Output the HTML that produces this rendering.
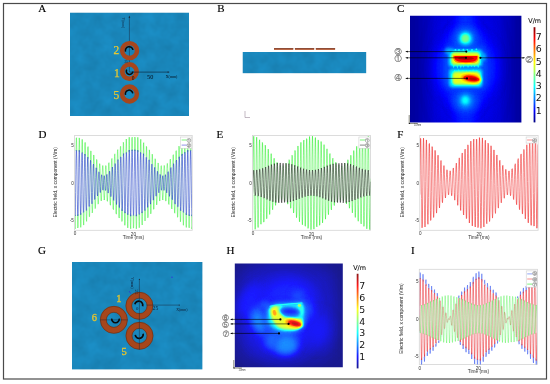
<!DOCTYPE html>
<html><head><meta charset="utf-8"><style>
html,body{margin:0;padding:0;background:#fff;}
body{width:550px;height:384px;overflow:hidden;}
svg{display:block;}
</style></head><body>
<svg width="550" height="384" viewBox="0 0 550 384">
<defs>
<filter id="jet" color-interpolation-filters="sRGB" x="0" y="0" width="1" height="1">
  <feComponentTransfer>
    <feFuncR type="table" tableValues="0 0 0 0 0.5 1 1 1 0.5"/>
    <feFuncG type="table" tableValues="0 0 0.5 1 1 1 0.5 0 0"/>
    <feFuncB type="table" tableValues="0.5 1 1 1 0.5 0 0 0 0"/>
  </feComponentTransfer>
</filter>
<filter id="jetH" color-interpolation-filters="sRGB" x="0" y="0" width="1" height="1">
  <feComponentTransfer>
    <feFuncR type="table" tableValues="0.1 0.1 0.1 0.1 0.55 1 1 1 0.55"/>
    <feFuncG type="table" tableValues="0.1 0.1 0.55 1 1 1 0.55 0.1 0.1"/>
    <feFuncB type="table" tableValues="0.54 1 1 1 0.55 0.1 0.1 0.1 0.1"/>
  </feComponentTransfer>
</filter>
<linearGradient id="mg" x1="0" y1="0" x2="0" y2="1">
  <stop offset="0" stop-color="#fff"/><stop offset="0.12" stop-color="#f4f4f4"/><stop offset="0.3" stop-color="#d4d4d4"/>
  <stop offset="0.5" stop-color="#c0c0c0"/><stop offset="0.7" stop-color="#d4d4d4"/><stop offset="0.88" stop-color="#f4f4f4"/><stop offset="1" stop-color="#fff"/>
</linearGradient>
<linearGradient id="mg2" x1="0" y1="0" x2="0" y2="1">
  <stop offset="0" stop-color="#fff"/><stop offset="0.15" stop-color="#fafafa"/><stop offset="0.32" stop-color="#e0e0e0"/>
  <stop offset="0.5" stop-color="#d4d4d4"/><stop offset="0.68" stop-color="#e0e0e0"/><stop offset="0.85" stop-color="#fafafa"/><stop offset="1" stop-color="#fff"/>
</linearGradient>
<linearGradient id="cbar" x1="0" y1="1" x2="0" y2="0">
  <stop offset="0" stop-color="#000"/><stop offset="1" stop-color="#fff"/>
</linearGradient>
<filter id="tex" x="0" y="0" width="1" height="1" color-interpolation-filters="sRGB">
  <feTurbulence type="fractalNoise" baseFrequency="0.07" numOctaves="3" seed="7" result="n"/>
  <feColorMatrix in="n" type="matrix" values="0.16 0 0 0 0.86  0.16 0 0 0 0.86  0.16 0 0 0 0.86  0 0 0 0 1" result="g"/>
  <feBlend in="g" in2="SourceGraphic" mode="multiply" result="m"/>
  <feComposite in="m" in2="SourceGraphic" operator="in"/>
</filter>

<filter id="b1" x="-100%" y="-100%" width="300%" height="300%" color-interpolation-filters="sRGB"><feGaussianBlur stdDeviation="1"/></filter>
<filter id="b8" x="-100%" y="-100%" width="300%" height="300%" color-interpolation-filters="sRGB"><feGaussianBlur stdDeviation="8"/></filter>
<filter id="b9" x="-100%" y="-100%" width="300%" height="300%" color-interpolation-filters="sRGB"><feGaussianBlur stdDeviation="9"/></filter>
<filter id="b6" x="-100%" y="-100%" width="300%" height="300%" color-interpolation-filters="sRGB"><feGaussianBlur stdDeviation="6"/></filter>
<filter id="b4" x="-100%" y="-100%" width="300%" height="300%" color-interpolation-filters="sRGB"><feGaussianBlur stdDeviation="4"/></filter>
<filter id="b2_5" x="-100%" y="-100%" width="300%" height="300%" color-interpolation-filters="sRGB"><feGaussianBlur stdDeviation="2.5"/></filter>
<filter id="b1_6" x="-100%" y="-100%" width="300%" height="300%" color-interpolation-filters="sRGB"><feGaussianBlur stdDeviation="1.6"/></filter>
<filter id="b1_3" x="-100%" y="-100%" width="300%" height="300%" color-interpolation-filters="sRGB"><feGaussianBlur stdDeviation="1.3"/></filter>
<filter id="b3" x="-100%" y="-100%" width="300%" height="300%" color-interpolation-filters="sRGB"><feGaussianBlur stdDeviation="3"/></filter>
<filter id="b2" x="-100%" y="-100%" width="300%" height="300%" color-interpolation-filters="sRGB"><feGaussianBlur stdDeviation="2"/></filter>
<filter id="b1_5" x="-100%" y="-100%" width="300%" height="300%" color-interpolation-filters="sRGB"><feGaussianBlur stdDeviation="1.5"/></filter>
<filter id="b0_5" x="-100%" y="-100%" width="300%" height="300%" color-interpolation-filters="sRGB"><feGaussianBlur stdDeviation="0.5"/></filter>
<filter id="b0_8" x="-100%" y="-100%" width="300%" height="300%" color-interpolation-filters="sRGB"><feGaussianBlur stdDeviation="0.8"/></filter>
<filter id="b0_7" x="-100%" y="-100%" width="300%" height="300%" color-interpolation-filters="sRGB"><feGaussianBlur stdDeviation="0.7"/></filter>
<filter id="b0_6" x="-100%" y="-100%" width="300%" height="300%" color-interpolation-filters="sRGB"><feGaussianBlur stdDeviation="0.6"/></filter>
<filter id="b0_9" x="-100%" y="-100%" width="300%" height="300%" color-interpolation-filters="sRGB"><feGaussianBlur stdDeviation="0.9"/></filter>
<mask id="m1" maskUnits="userSpaceOnUse" x="74.6" y="135.4" width="117.6" height="94.9">
<rect x="74.6" y="134.92" width="1.87" height="95.96" fill="url(#mg)"/>
<rect x="76.07" y="135.17" width="1.87" height="95.46" fill="url(#mg)"/>
<rect x="77.54" y="135.67" width="1.87" height="94.47" fill="url(#mg)"/>
<rect x="79.01" y="136.41" width="1.87" height="92.99" fill="url(#mg)"/>
<rect x="80.48" y="137.38" width="1.87" height="91.04" fill="url(#mg)"/>
<rect x="81.95" y="138.59" width="1.87" height="88.63" fill="url(#mg)"/>
<rect x="83.42" y="140.01" width="1.87" height="85.79" fill="url(#mg)"/>
<rect x="84.89" y="141.63" width="1.87" height="82.55" fill="url(#mg)"/>
<rect x="86.36" y="143.43" width="1.87" height="78.93" fill="url(#mg)"/>
<rect x="87.83" y="145.41" width="1.87" height="74.99" fill="url(#mg)"/>
<rect x="89.3" y="147.52" width="1.87" height="70.76" fill="url(#mg)"/>
<rect x="90.77" y="149.74" width="1.87" height="66.32" fill="url(#mg)"/>
<rect x="92.24" y="152.04" width="1.87" height="61.72" fill="url(#mg)"/>
<rect x="93.71" y="154.37" width="1.87" height="57.07" fill="url(#mg)"/>
<rect x="95.18" y="156.67" width="1.87" height="52.47" fill="url(#mg)"/>
<rect x="96.65" y="158.86" width="1.87" height="48.07" fill="url(#mg)"/>
<rect x="98.12" y="160.87" width="1.87" height="44.06" fill="url(#mg)"/>
<rect x="99.59" y="162.56" width="1.87" height="40.68" fill="url(#mg)"/>
<rect x="101.06" y="163.8" width="1.87" height="38.2" fill="url(#mg)"/>
<rect x="102.53" y="164.46" width="1.87" height="36.87" fill="url(#mg)"/>
<rect x="104" y="164.46" width="1.87" height="36.87" fill="url(#mg)"/>
<rect x="105.47" y="163.8" width="1.87" height="38.2" fill="url(#mg)"/>
<rect x="106.94" y="162.56" width="1.87" height="40.68" fill="url(#mg)"/>
<rect x="108.41" y="160.87" width="1.87" height="44.06" fill="url(#mg)"/>
<rect x="109.88" y="158.86" width="1.87" height="48.07" fill="url(#mg)"/>
<rect x="111.35" y="156.67" width="1.87" height="52.47" fill="url(#mg)"/>
<rect x="112.82" y="154.37" width="1.87" height="57.07" fill="url(#mg)"/>
<rect x="114.29" y="152.04" width="1.87" height="61.72" fill="url(#mg)"/>
<rect x="115.76" y="149.74" width="1.87" height="66.32" fill="url(#mg)"/>
<rect x="117.23" y="147.52" width="1.87" height="70.76" fill="url(#mg)"/>
<rect x="118.7" y="145.41" width="1.87" height="74.99" fill="url(#mg)"/>
<rect x="120.17" y="143.43" width="1.87" height="78.93" fill="url(#mg)"/>
<rect x="121.64" y="141.63" width="1.87" height="82.55" fill="url(#mg)"/>
<rect x="123.11" y="140.01" width="1.87" height="85.79" fill="url(#mg)"/>
<rect x="124.58" y="138.59" width="1.87" height="88.63" fill="url(#mg)"/>
<rect x="126.05" y="137.38" width="1.87" height="91.04" fill="url(#mg)"/>
<rect x="127.52" y="136.41" width="1.87" height="92.99" fill="url(#mg)"/>
<rect x="128.99" y="135.67" width="1.87" height="94.47" fill="url(#mg)"/>
<rect x="130.46" y="135.17" width="1.87" height="95.46" fill="url(#mg)"/>
<rect x="131.93" y="134.92" width="1.87" height="95.96" fill="url(#mg)"/>
<rect x="133.4" y="134.92" width="1.87" height="95.96" fill="url(#mg)"/>
<rect x="134.87" y="135.17" width="1.87" height="95.46" fill="url(#mg)"/>
<rect x="136.34" y="135.67" width="1.87" height="94.47" fill="url(#mg)"/>
<rect x="137.81" y="136.41" width="1.87" height="92.99" fill="url(#mg)"/>
<rect x="139.28" y="137.38" width="1.87" height="91.04" fill="url(#mg)"/>
<rect x="140.75" y="138.59" width="1.87" height="88.63" fill="url(#mg)"/>
<rect x="142.22" y="140.01" width="1.87" height="85.79" fill="url(#mg)"/>
<rect x="143.69" y="141.63" width="1.87" height="82.55" fill="url(#mg)"/>
<rect x="145.16" y="143.43" width="1.87" height="78.93" fill="url(#mg)"/>
<rect x="146.63" y="145.41" width="1.87" height="74.99" fill="url(#mg)"/>
<rect x="148.1" y="147.52" width="1.87" height="70.76" fill="url(#mg)"/>
<rect x="149.57" y="149.74" width="1.87" height="66.32" fill="url(#mg)"/>
<rect x="151.04" y="152.04" width="1.87" height="61.72" fill="url(#mg)"/>
<rect x="152.51" y="154.37" width="1.87" height="57.07" fill="url(#mg)"/>
<rect x="153.98" y="156.67" width="1.87" height="52.47" fill="url(#mg)"/>
<rect x="155.45" y="158.86" width="1.87" height="48.07" fill="url(#mg)"/>
<rect x="156.92" y="160.87" width="1.87" height="44.06" fill="url(#mg)"/>
<rect x="158.39" y="162.56" width="1.87" height="40.68" fill="url(#mg)"/>
<rect x="159.86" y="163.8" width="1.87" height="38.2" fill="url(#mg)"/>
<rect x="161.33" y="164.46" width="1.87" height="36.87" fill="url(#mg)"/>
<rect x="162.8" y="164.46" width="1.87" height="36.87" fill="url(#mg)"/>
<rect x="164.27" y="163.8" width="1.87" height="38.2" fill="url(#mg)"/>
<rect x="165.74" y="162.56" width="1.87" height="40.68" fill="url(#mg)"/>
<rect x="167.21" y="160.87" width="1.87" height="44.06" fill="url(#mg)"/>
<rect x="168.68" y="158.86" width="1.87" height="48.07" fill="url(#mg)"/>
<rect x="170.15" y="156.67" width="1.87" height="52.47" fill="url(#mg)"/>
<rect x="171.62" y="154.37" width="1.87" height="57.07" fill="url(#mg)"/>
<rect x="173.09" y="152.04" width="1.87" height="61.72" fill="url(#mg)"/>
<rect x="174.56" y="149.74" width="1.87" height="66.32" fill="url(#mg)"/>
<rect x="176.03" y="147.52" width="1.87" height="70.76" fill="url(#mg)"/>
<rect x="177.5" y="145.41" width="1.87" height="74.99" fill="url(#mg)"/>
<rect x="178.97" y="143.43" width="1.87" height="78.93" fill="url(#mg)"/>
<rect x="180.44" y="141.63" width="1.87" height="82.55" fill="url(#mg)"/>
<rect x="181.91" y="140.01" width="1.87" height="85.79" fill="url(#mg)"/>
<rect x="183.38" y="138.59" width="1.87" height="88.63" fill="url(#mg)"/>
<rect x="184.85" y="137.38" width="1.87" height="91.04" fill="url(#mg)"/>
<rect x="186.32" y="136.41" width="1.87" height="92.99" fill="url(#mg)"/>
<rect x="187.79" y="135.67" width="1.87" height="94.47" fill="url(#mg)"/>
<rect x="189.26" y="135.17" width="1.87" height="95.46" fill="url(#mg)"/>
<rect x="190.73" y="134.92" width="1.87" height="95.96" fill="url(#mg)"/>
<rect x="74.6" y="150.9" width="1.87" height="63.99" fill="#000" fill-opacity="0.85"/>
<rect x="76.07" y="151.09" width="1.87" height="63.62" fill="#000" fill-opacity="0.84"/>
<rect x="77.54" y="151.47" width="1.87" height="62.87" fill="#000" fill-opacity="0.83"/>
<rect x="79.01" y="152.03" width="1.87" height="61.75" fill="#000" fill-opacity="0.8"/>
<rect x="80.48" y="152.77" width="1.87" height="60.27" fill="#000" fill-opacity="0.77"/>
<rect x="81.95" y="153.68" width="1.87" height="58.44" fill="#000" fill-opacity="0.74"/>
<rect x="83.42" y="154.76" width="1.87" height="56.27" fill="#000" fill-opacity="0.69"/>
<rect x="84.89" y="156.01" width="1.87" height="53.79" fill="#000" fill-opacity="0.64"/>
<rect x="86.36" y="157.4" width="1.87" height="51" fill="#000" fill-opacity="0.59"/>
<rect x="87.83" y="158.93" width="1.87" height="47.93" fill="#000" fill-opacity="0.53"/>
<rect x="89.3" y="160.59" width="1.87" height="44.61" fill="#000" fill-opacity="0.48"/>
<rect x="90.77" y="162.36" width="1.87" height="41.07" fill="#000" fill-opacity="0.41"/>
<rect x="92.24" y="164.23" width="1.87" height="37.35" fill="#000" fill-opacity="0.35"/>
<rect x="93.71" y="166.16" width="1.87" height="33.48" fill="#000" fill-opacity="0.29"/>
<rect x="95.18" y="168.13" width="1.87" height="29.54" fill="#000" fill-opacity="0.23"/>
<rect x="96.65" y="170.1" width="1.87" height="25.6" fill="#000" fill-opacity="0.17"/>
<rect x="98.12" y="172" width="1.87" height="21.8" fill="#000" fill-opacity="0.12"/>
<rect x="99.59" y="173.74" width="1.87" height="18.32" fill="#000" fill-opacity="0.07"/>
<rect x="101.06" y="175.14" width="1.87" height="15.52" fill="#000" fill-opacity="0.03"/>
<rect x="105.47" y="175.14" width="1.87" height="15.52" fill="#000" fill-opacity="0.03"/>
<rect x="106.94" y="173.74" width="1.87" height="18.32" fill="#000" fill-opacity="0.07"/>
<rect x="108.41" y="172" width="1.87" height="21.8" fill="#000" fill-opacity="0.12"/>
<rect x="109.88" y="170.1" width="1.87" height="25.6" fill="#000" fill-opacity="0.17"/>
<rect x="111.35" y="168.13" width="1.87" height="29.54" fill="#000" fill-opacity="0.23"/>
<rect x="112.82" y="166.16" width="1.87" height="33.48" fill="#000" fill-opacity="0.29"/>
<rect x="114.29" y="164.23" width="1.87" height="37.35" fill="#000" fill-opacity="0.35"/>
<rect x="115.76" y="162.36" width="1.87" height="41.07" fill="#000" fill-opacity="0.41"/>
<rect x="117.23" y="160.59" width="1.87" height="44.61" fill="#000" fill-opacity="0.48"/>
<rect x="118.7" y="158.93" width="1.87" height="47.93" fill="#000" fill-opacity="0.53"/>
<rect x="120.17" y="157.4" width="1.87" height="51" fill="#000" fill-opacity="0.59"/>
<rect x="121.64" y="156.01" width="1.87" height="53.79" fill="#000" fill-opacity="0.64"/>
<rect x="123.11" y="154.76" width="1.87" height="56.27" fill="#000" fill-opacity="0.69"/>
<rect x="124.58" y="153.68" width="1.87" height="58.44" fill="#000" fill-opacity="0.74"/>
<rect x="126.05" y="152.77" width="1.87" height="60.27" fill="#000" fill-opacity="0.77"/>
<rect x="127.52" y="152.03" width="1.87" height="61.75" fill="#000" fill-opacity="0.8"/>
<rect x="128.99" y="151.47" width="1.87" height="62.87" fill="#000" fill-opacity="0.83"/>
<rect x="130.46" y="151.09" width="1.87" height="63.62" fill="#000" fill-opacity="0.84"/>
<rect x="131.93" y="150.9" width="1.87" height="63.99" fill="#000" fill-opacity="0.85"/>
<rect x="133.4" y="150.9" width="1.87" height="63.99" fill="#000" fill-opacity="0.85"/>
<rect x="134.87" y="151.09" width="1.87" height="63.62" fill="#000" fill-opacity="0.84"/>
<rect x="136.34" y="151.47" width="1.87" height="62.87" fill="#000" fill-opacity="0.83"/>
<rect x="137.81" y="152.03" width="1.87" height="61.75" fill="#000" fill-opacity="0.8"/>
<rect x="139.28" y="152.77" width="1.87" height="60.27" fill="#000" fill-opacity="0.77"/>
<rect x="140.75" y="153.68" width="1.87" height="58.44" fill="#000" fill-opacity="0.74"/>
<rect x="142.22" y="154.76" width="1.87" height="56.27" fill="#000" fill-opacity="0.69"/>
<rect x="143.69" y="156.01" width="1.87" height="53.79" fill="#000" fill-opacity="0.64"/>
<rect x="145.16" y="157.4" width="1.87" height="51" fill="#000" fill-opacity="0.59"/>
<rect x="146.63" y="158.93" width="1.87" height="47.93" fill="#000" fill-opacity="0.53"/>
<rect x="148.1" y="160.59" width="1.87" height="44.61" fill="#000" fill-opacity="0.48"/>
<rect x="149.57" y="162.36" width="1.87" height="41.07" fill="#000" fill-opacity="0.41"/>
<rect x="151.04" y="164.23" width="1.87" height="37.35" fill="#000" fill-opacity="0.35"/>
<rect x="152.51" y="166.16" width="1.87" height="33.48" fill="#000" fill-opacity="0.29"/>
<rect x="153.98" y="168.13" width="1.87" height="29.54" fill="#000" fill-opacity="0.23"/>
<rect x="155.45" y="170.1" width="1.87" height="25.6" fill="#000" fill-opacity="0.17"/>
<rect x="156.92" y="172" width="1.87" height="21.8" fill="#000" fill-opacity="0.12"/>
<rect x="158.39" y="173.74" width="1.87" height="18.32" fill="#000" fill-opacity="0.07"/>
<rect x="159.86" y="175.14" width="1.87" height="15.52" fill="#000" fill-opacity="0.03"/>
<rect x="164.27" y="175.14" width="1.87" height="15.52" fill="#000" fill-opacity="0.03"/>
<rect x="165.74" y="173.74" width="1.87" height="18.32" fill="#000" fill-opacity="0.07"/>
<rect x="167.21" y="172" width="1.87" height="21.8" fill="#000" fill-opacity="0.12"/>
<rect x="168.68" y="170.1" width="1.87" height="25.6" fill="#000" fill-opacity="0.17"/>
<rect x="170.15" y="168.13" width="1.87" height="29.54" fill="#000" fill-opacity="0.23"/>
<rect x="171.62" y="166.16" width="1.87" height="33.48" fill="#000" fill-opacity="0.29"/>
<rect x="173.09" y="164.23" width="1.87" height="37.35" fill="#000" fill-opacity="0.35"/>
<rect x="174.56" y="162.36" width="1.87" height="41.07" fill="#000" fill-opacity="0.41"/>
<rect x="176.03" y="160.59" width="1.87" height="44.61" fill="#000" fill-opacity="0.48"/>
<rect x="177.5" y="158.93" width="1.87" height="47.93" fill="#000" fill-opacity="0.53"/>
<rect x="178.97" y="157.4" width="1.87" height="51" fill="#000" fill-opacity="0.59"/>
<rect x="180.44" y="156.01" width="1.87" height="53.79" fill="#000" fill-opacity="0.64"/>
<rect x="181.91" y="154.76" width="1.87" height="56.27" fill="#000" fill-opacity="0.69"/>
<rect x="183.38" y="153.68" width="1.87" height="58.44" fill="#000" fill-opacity="0.74"/>
<rect x="184.85" y="152.77" width="1.87" height="60.27" fill="#000" fill-opacity="0.77"/>
<rect x="186.32" y="152.03" width="1.87" height="61.75" fill="#000" fill-opacity="0.8"/>
<rect x="187.79" y="151.47" width="1.87" height="62.87" fill="#000" fill-opacity="0.83"/>
<rect x="189.26" y="151.09" width="1.87" height="63.62" fill="#000" fill-opacity="0.84"/>
<rect x="190.73" y="150.9" width="1.87" height="63.99" fill="#000" fill-opacity="0.85"/>
</mask>
<mask id="m3" maskUnits="userSpaceOnUse" x="74.6" y="135.4" width="117.6" height="94.9">
<rect x="74.6" y="148.02" width="1.87" height="69.76" fill="url(#mg2)"/>
<rect x="76.07" y="148.22" width="1.87" height="69.36" fill="url(#mg2)"/>
<rect x="77.54" y="148.61" width="1.87" height="68.57" fill="url(#mg2)"/>
<rect x="79.01" y="149.2" width="1.87" height="67.4" fill="url(#mg2)"/>
<rect x="80.48" y="149.98" width="1.87" height="65.84" fill="url(#mg2)"/>
<rect x="81.95" y="150.94" width="1.87" height="63.91" fill="url(#mg2)"/>
<rect x="83.42" y="152.08" width="1.87" height="61.63" fill="url(#mg2)"/>
<rect x="84.89" y="153.39" width="1.87" height="59.02" fill="url(#mg2)"/>
<rect x="86.36" y="154.86" width="1.87" height="56.08" fill="url(#mg2)"/>
<rect x="87.83" y="156.47" width="1.87" height="52.85" fill="url(#mg2)"/>
<rect x="89.3" y="158.22" width="1.87" height="49.36" fill="url(#mg2)"/>
<rect x="90.77" y="160.08" width="1.87" height="45.63" fill="url(#mg2)"/>
<rect x="92.24" y="162.04" width="1.87" height="41.71" fill="url(#mg2)"/>
<rect x="93.71" y="164.08" width="1.87" height="37.65" fill="url(#mg2)"/>
<rect x="95.18" y="166.15" width="1.87" height="33.5" fill="url(#mg2)"/>
<rect x="96.65" y="168.22" width="1.87" height="29.35" fill="url(#mg2)"/>
<rect x="98.12" y="170.23" width="1.87" height="25.34" fill="url(#mg2)"/>
<rect x="99.59" y="172.06" width="1.87" height="21.68" fill="url(#mg2)"/>
<rect x="101.06" y="173.53" width="1.87" height="18.73" fill="url(#mg2)"/>
<rect x="102.53" y="174.39" width="1.87" height="17.01" fill="url(#mg2)"/>
<rect x="104" y="174.39" width="1.87" height="17.01" fill="url(#mg2)"/>
<rect x="105.47" y="173.53" width="1.87" height="18.73" fill="url(#mg2)"/>
<rect x="106.94" y="172.06" width="1.87" height="21.68" fill="url(#mg2)"/>
<rect x="108.41" y="170.23" width="1.87" height="25.34" fill="url(#mg2)"/>
<rect x="109.88" y="168.22" width="1.87" height="29.35" fill="url(#mg2)"/>
<rect x="111.35" y="166.15" width="1.87" height="33.5" fill="url(#mg2)"/>
<rect x="112.82" y="164.08" width="1.87" height="37.65" fill="url(#mg2)"/>
<rect x="114.29" y="162.04" width="1.87" height="41.71" fill="url(#mg2)"/>
<rect x="115.76" y="160.08" width="1.87" height="45.63" fill="url(#mg2)"/>
<rect x="117.23" y="158.22" width="1.87" height="49.36" fill="url(#mg2)"/>
<rect x="118.7" y="156.47" width="1.87" height="52.85" fill="url(#mg2)"/>
<rect x="120.17" y="154.86" width="1.87" height="56.08" fill="url(#mg2)"/>
<rect x="121.64" y="153.39" width="1.87" height="59.02" fill="url(#mg2)"/>
<rect x="123.11" y="152.08" width="1.87" height="61.63" fill="url(#mg2)"/>
<rect x="124.58" y="150.94" width="1.87" height="63.91" fill="url(#mg2)"/>
<rect x="126.05" y="149.98" width="1.87" height="65.84" fill="url(#mg2)"/>
<rect x="127.52" y="149.2" width="1.87" height="67.4" fill="url(#mg2)"/>
<rect x="128.99" y="148.61" width="1.87" height="68.57" fill="url(#mg2)"/>
<rect x="130.46" y="148.22" width="1.87" height="69.36" fill="url(#mg2)"/>
<rect x="131.93" y="148.02" width="1.87" height="69.76" fill="url(#mg2)"/>
<rect x="133.4" y="148.02" width="1.87" height="69.76" fill="url(#mg2)"/>
<rect x="134.87" y="148.22" width="1.87" height="69.36" fill="url(#mg2)"/>
<rect x="136.34" y="148.61" width="1.87" height="68.57" fill="url(#mg2)"/>
<rect x="137.81" y="149.2" width="1.87" height="67.4" fill="url(#mg2)"/>
<rect x="139.28" y="149.98" width="1.87" height="65.84" fill="url(#mg2)"/>
<rect x="140.75" y="150.94" width="1.87" height="63.91" fill="url(#mg2)"/>
<rect x="142.22" y="152.08" width="1.87" height="61.63" fill="url(#mg2)"/>
<rect x="143.69" y="153.39" width="1.87" height="59.02" fill="url(#mg2)"/>
<rect x="145.16" y="154.86" width="1.87" height="56.08" fill="url(#mg2)"/>
<rect x="146.63" y="156.47" width="1.87" height="52.85" fill="url(#mg2)"/>
<rect x="148.1" y="158.22" width="1.87" height="49.36" fill="url(#mg2)"/>
<rect x="149.57" y="160.08" width="1.87" height="45.63" fill="url(#mg2)"/>
<rect x="151.04" y="162.04" width="1.87" height="41.71" fill="url(#mg2)"/>
<rect x="152.51" y="164.08" width="1.87" height="37.65" fill="url(#mg2)"/>
<rect x="153.98" y="166.15" width="1.87" height="33.5" fill="url(#mg2)"/>
<rect x="155.45" y="168.22" width="1.87" height="29.35" fill="url(#mg2)"/>
<rect x="156.92" y="170.23" width="1.87" height="25.34" fill="url(#mg2)"/>
<rect x="158.39" y="172.06" width="1.87" height="21.68" fill="url(#mg2)"/>
<rect x="159.86" y="173.53" width="1.87" height="18.73" fill="url(#mg2)"/>
<rect x="161.33" y="174.39" width="1.87" height="17.01" fill="url(#mg2)"/>
<rect x="162.8" y="174.39" width="1.87" height="17.01" fill="url(#mg2)"/>
<rect x="164.27" y="173.53" width="1.87" height="18.73" fill="url(#mg2)"/>
<rect x="165.74" y="172.06" width="1.87" height="21.68" fill="url(#mg2)"/>
<rect x="167.21" y="170.23" width="1.87" height="25.34" fill="url(#mg2)"/>
<rect x="168.68" y="168.22" width="1.87" height="29.35" fill="url(#mg2)"/>
<rect x="170.15" y="166.15" width="1.87" height="33.5" fill="url(#mg2)"/>
<rect x="171.62" y="164.08" width="1.87" height="37.65" fill="url(#mg2)"/>
<rect x="173.09" y="162.04" width="1.87" height="41.71" fill="url(#mg2)"/>
<rect x="174.56" y="160.08" width="1.87" height="45.63" fill="url(#mg2)"/>
<rect x="176.03" y="158.22" width="1.87" height="49.36" fill="url(#mg2)"/>
<rect x="177.5" y="156.47" width="1.87" height="52.85" fill="url(#mg2)"/>
<rect x="178.97" y="154.86" width="1.87" height="56.08" fill="url(#mg2)"/>
<rect x="180.44" y="153.39" width="1.87" height="59.02" fill="url(#mg2)"/>
<rect x="181.91" y="152.08" width="1.87" height="61.63" fill="url(#mg2)"/>
<rect x="183.38" y="150.94" width="1.87" height="63.91" fill="url(#mg2)"/>
<rect x="184.85" y="149.98" width="1.87" height="65.84" fill="url(#mg2)"/>
<rect x="186.32" y="149.2" width="1.87" height="67.4" fill="url(#mg2)"/>
<rect x="187.79" y="148.61" width="1.87" height="68.57" fill="url(#mg2)"/>
<rect x="189.26" y="148.22" width="1.87" height="69.36" fill="url(#mg2)"/>
<rect x="190.73" y="148.02" width="1.87" height="69.76" fill="url(#mg2)"/>
</mask>
<mask id="m5" maskUnits="userSpaceOnUse" x="252.5" y="135.4" width="118" height="94.9">
<rect x="252.5" y="134.92" width="1.88" height="95.96" fill="url(#mg)"/>
<rect x="253.97" y="135.17" width="1.88" height="95.46" fill="url(#mg)"/>
<rect x="255.45" y="135.67" width="1.88" height="94.47" fill="url(#mg)"/>
<rect x="256.93" y="136.41" width="1.88" height="92.99" fill="url(#mg)"/>
<rect x="258.4" y="137.38" width="1.88" height="91.04" fill="url(#mg)"/>
<rect x="259.88" y="138.59" width="1.88" height="88.63" fill="url(#mg)"/>
<rect x="261.35" y="140.01" width="1.88" height="85.79" fill="url(#mg)"/>
<rect x="262.82" y="141.63" width="1.88" height="82.55" fill="url(#mg)"/>
<rect x="264.3" y="143.43" width="1.88" height="78.93" fill="url(#mg)"/>
<rect x="265.77" y="145.41" width="1.88" height="74.99" fill="url(#mg)"/>
<rect x="267.25" y="147.52" width="1.88" height="70.76" fill="url(#mg)"/>
<rect x="268.73" y="149.74" width="1.88" height="66.32" fill="url(#mg)"/>
<rect x="270.2" y="152.04" width="1.88" height="61.72" fill="url(#mg)"/>
<rect x="271.68" y="154.37" width="1.88" height="57.07" fill="url(#mg)"/>
<rect x="273.15" y="156.67" width="1.88" height="52.47" fill="url(#mg)"/>
<rect x="274.62" y="158.86" width="1.88" height="48.07" fill="url(#mg)"/>
<rect x="276.1" y="160.87" width="1.88" height="44.06" fill="url(#mg)"/>
<rect x="277.57" y="162.56" width="1.88" height="40.68" fill="url(#mg)"/>
<rect x="279.05" y="163.8" width="1.88" height="38.2" fill="url(#mg)"/>
<rect x="280.52" y="164.46" width="1.88" height="36.87" fill="url(#mg)"/>
<rect x="282" y="164.46" width="1.88" height="36.87" fill="url(#mg)"/>
<rect x="283.48" y="163.8" width="1.88" height="38.2" fill="url(#mg)"/>
<rect x="284.95" y="162.56" width="1.88" height="40.68" fill="url(#mg)"/>
<rect x="286.43" y="160.87" width="1.88" height="44.06" fill="url(#mg)"/>
<rect x="287.9" y="158.86" width="1.88" height="48.07" fill="url(#mg)"/>
<rect x="289.38" y="156.67" width="1.88" height="52.47" fill="url(#mg)"/>
<rect x="290.85" y="154.37" width="1.88" height="57.07" fill="url(#mg)"/>
<rect x="292.32" y="152.04" width="1.88" height="61.72" fill="url(#mg)"/>
<rect x="293.8" y="149.74" width="1.88" height="66.32" fill="url(#mg)"/>
<rect x="295.27" y="147.52" width="1.88" height="70.76" fill="url(#mg)"/>
<rect x="296.75" y="145.41" width="1.88" height="74.99" fill="url(#mg)"/>
<rect x="298.23" y="143.43" width="1.88" height="78.93" fill="url(#mg)"/>
<rect x="299.7" y="141.63" width="1.88" height="82.55" fill="url(#mg)"/>
<rect x="301.18" y="140.01" width="1.88" height="85.79" fill="url(#mg)"/>
<rect x="302.65" y="138.59" width="1.88" height="88.63" fill="url(#mg)"/>
<rect x="304.12" y="137.38" width="1.88" height="91.04" fill="url(#mg)"/>
<rect x="305.6" y="136.41" width="1.88" height="92.99" fill="url(#mg)"/>
<rect x="307.07" y="135.67" width="1.88" height="94.47" fill="url(#mg)"/>
<rect x="308.55" y="135.17" width="1.88" height="95.46" fill="url(#mg)"/>
<rect x="310.02" y="134.92" width="1.88" height="95.96" fill="url(#mg)"/>
<rect x="311.5" y="134.92" width="1.88" height="95.96" fill="url(#mg)"/>
<rect x="312.98" y="135.17" width="1.88" height="95.46" fill="url(#mg)"/>
<rect x="314.45" y="135.67" width="1.88" height="94.47" fill="url(#mg)"/>
<rect x="315.93" y="136.41" width="1.88" height="92.99" fill="url(#mg)"/>
<rect x="317.4" y="137.38" width="1.88" height="91.04" fill="url(#mg)"/>
<rect x="318.88" y="138.59" width="1.88" height="88.63" fill="url(#mg)"/>
<rect x="320.35" y="140.01" width="1.88" height="85.79" fill="url(#mg)"/>
<rect x="321.82" y="141.63" width="1.88" height="82.55" fill="url(#mg)"/>
<rect x="323.3" y="143.43" width="1.88" height="78.93" fill="url(#mg)"/>
<rect x="324.77" y="145.41" width="1.88" height="74.99" fill="url(#mg)"/>
<rect x="326.25" y="147.52" width="1.88" height="70.76" fill="url(#mg)"/>
<rect x="327.73" y="149.74" width="1.88" height="66.32" fill="url(#mg)"/>
<rect x="329.2" y="152.04" width="1.88" height="61.72" fill="url(#mg)"/>
<rect x="330.68" y="154.37" width="1.88" height="57.07" fill="url(#mg)"/>
<rect x="332.15" y="156.67" width="1.88" height="52.47" fill="url(#mg)"/>
<rect x="333.62" y="158.86" width="1.88" height="48.07" fill="url(#mg)"/>
<rect x="335.1" y="160.87" width="1.88" height="44.06" fill="url(#mg)"/>
<rect x="336.57" y="162.56" width="1.88" height="40.68" fill="url(#mg)"/>
<rect x="338.05" y="163.8" width="1.88" height="38.2" fill="url(#mg)"/>
<rect x="339.52" y="164.46" width="1.88" height="36.87" fill="url(#mg)"/>
<rect x="341" y="164.46" width="1.88" height="36.87" fill="url(#mg)"/>
<rect x="342.48" y="163.8" width="1.88" height="38.2" fill="url(#mg)"/>
<rect x="343.95" y="162.56" width="1.88" height="40.68" fill="url(#mg)"/>
<rect x="345.43" y="160.87" width="1.88" height="44.06" fill="url(#mg)"/>
<rect x="346.9" y="158.86" width="1.88" height="48.07" fill="url(#mg)"/>
<rect x="348.38" y="156.67" width="1.88" height="52.47" fill="url(#mg)"/>
<rect x="349.85" y="154.37" width="1.88" height="57.07" fill="url(#mg)"/>
<rect x="351.32" y="152.04" width="1.88" height="61.72" fill="url(#mg)"/>
<rect x="352.8" y="149.74" width="1.88" height="66.32" fill="url(#mg)"/>
<rect x="354.27" y="147.52" width="1.88" height="70.76" fill="url(#mg)"/>
<rect x="355.75" y="145.41" width="1.88" height="74.99" fill="url(#mg)"/>
<rect x="357.23" y="143.43" width="1.88" height="78.93" fill="url(#mg)"/>
<rect x="358.7" y="141.63" width="1.88" height="82.55" fill="url(#mg)"/>
<rect x="360.18" y="140.01" width="1.88" height="85.79" fill="url(#mg)"/>
<rect x="361.65" y="138.59" width="1.88" height="88.63" fill="url(#mg)"/>
<rect x="363.12" y="137.38" width="1.88" height="91.04" fill="url(#mg)"/>
<rect x="364.6" y="136.41" width="1.88" height="92.99" fill="url(#mg)"/>
<rect x="366.07" y="135.67" width="1.88" height="94.47" fill="url(#mg)"/>
<rect x="367.55" y="135.17" width="1.88" height="95.46" fill="url(#mg)"/>
<rect x="369.02" y="134.92" width="1.88" height="95.96" fill="url(#mg)"/>
<rect x="252.5" y="170.79" width="1.88" height="24.22" fill="#000" fill-opacity="0.4"/>
<rect x="253.97" y="170.68" width="1.88" height="24.45" fill="#000" fill-opacity="0.4"/>
<rect x="255.45" y="170.46" width="1.88" height="24.88" fill="#000" fill-opacity="0.4"/>
<rect x="256.93" y="170.14" width="1.88" height="25.51" fill="#000" fill-opacity="0.4"/>
<rect x="258.4" y="169.75" width="1.88" height="26.31" fill="#000" fill-opacity="0.4"/>
<rect x="259.88" y="169.28" width="1.88" height="27.23" fill="#000" fill-opacity="0.4"/>
<rect x="261.35" y="168.78" width="1.88" height="28.25" fill="#000" fill-opacity="0.4"/>
<rect x="262.82" y="168.23" width="1.88" height="29.33" fill="#000" fill-opacity="0.4"/>
<rect x="264.3" y="167.68" width="1.88" height="30.44" fill="#000" fill-opacity="0.4"/>
<rect x="265.77" y="167.12" width="1.88" height="31.56" fill="#000" fill-opacity="0.4"/>
<rect x="267.25" y="166.58" width="1.88" height="32.65" fill="#000" fill-opacity="0.4"/>
<rect x="268.73" y="166.06" width="1.88" height="33.69" fill="#000" fill-opacity="0.4"/>
<rect x="270.2" y="165.57" width="1.88" height="34.66" fill="#000" fill-opacity="0.4"/>
<rect x="271.68" y="165.13" width="1.88" height="35.55" fill="#000" fill-opacity="0.4"/>
<rect x="273.15" y="164.73" width="1.88" height="36.33" fill="#000" fill-opacity="0.4"/>
<rect x="274.62" y="164.4" width="1.88" height="37.01" fill="#000" fill-opacity="0.4"/>
<rect x="276.1" y="164.12" width="1.88" height="37.56" fill="#000" fill-opacity="0.4"/>
<rect x="277.57" y="163.91" width="1.88" height="37.98" fill="#000" fill-opacity="0.4"/>
<rect x="279.05" y="163.77" width="1.88" height="38.26" fill="#000" fill-opacity="0.4"/>
<rect x="280.52" y="163.7" width="1.88" height="38.41" fill="#000" fill-opacity="0.4"/>
<rect x="282" y="163.7" width="1.88" height="38.41" fill="#000" fill-opacity="0.4"/>
<rect x="283.48" y="163.77" width="1.88" height="38.26" fill="#000" fill-opacity="0.4"/>
<rect x="284.95" y="163.91" width="1.88" height="37.98" fill="#000" fill-opacity="0.4"/>
<rect x="286.43" y="164.12" width="1.88" height="37.56" fill="#000" fill-opacity="0.4"/>
<rect x="287.9" y="164.4" width="1.88" height="37.01" fill="#000" fill-opacity="0.4"/>
<rect x="289.38" y="164.73" width="1.88" height="36.33" fill="#000" fill-opacity="0.4"/>
<rect x="290.85" y="165.13" width="1.88" height="35.55" fill="#000" fill-opacity="0.4"/>
<rect x="292.32" y="165.57" width="1.88" height="34.66" fill="#000" fill-opacity="0.4"/>
<rect x="293.8" y="166.06" width="1.88" height="33.69" fill="#000" fill-opacity="0.4"/>
<rect x="295.27" y="166.58" width="1.88" height="32.65" fill="#000" fill-opacity="0.4"/>
<rect x="296.75" y="167.12" width="1.88" height="31.56" fill="#000" fill-opacity="0.4"/>
<rect x="298.23" y="167.68" width="1.88" height="30.44" fill="#000" fill-opacity="0.4"/>
<rect x="299.7" y="168.23" width="1.88" height="29.33" fill="#000" fill-opacity="0.4"/>
<rect x="301.18" y="168.78" width="1.88" height="28.25" fill="#000" fill-opacity="0.4"/>
<rect x="302.65" y="169.28" width="1.88" height="27.23" fill="#000" fill-opacity="0.4"/>
<rect x="304.12" y="169.75" width="1.88" height="26.31" fill="#000" fill-opacity="0.4"/>
<rect x="305.6" y="170.14" width="1.88" height="25.51" fill="#000" fill-opacity="0.4"/>
<rect x="307.07" y="170.46" width="1.88" height="24.88" fill="#000" fill-opacity="0.4"/>
<rect x="308.55" y="170.68" width="1.88" height="24.45" fill="#000" fill-opacity="0.4"/>
<rect x="310.02" y="170.79" width="1.88" height="24.22" fill="#000" fill-opacity="0.4"/>
<rect x="311.5" y="170.79" width="1.88" height="24.22" fill="#000" fill-opacity="0.4"/>
<rect x="312.98" y="170.68" width="1.88" height="24.45" fill="#000" fill-opacity="0.4"/>
<rect x="314.45" y="170.46" width="1.88" height="24.88" fill="#000" fill-opacity="0.4"/>
<rect x="315.93" y="170.14" width="1.88" height="25.51" fill="#000" fill-opacity="0.4"/>
<rect x="317.4" y="169.75" width="1.88" height="26.31" fill="#000" fill-opacity="0.4"/>
<rect x="318.88" y="169.28" width="1.88" height="27.23" fill="#000" fill-opacity="0.4"/>
<rect x="320.35" y="168.78" width="1.88" height="28.25" fill="#000" fill-opacity="0.4"/>
<rect x="321.82" y="168.23" width="1.88" height="29.33" fill="#000" fill-opacity="0.4"/>
<rect x="323.3" y="167.68" width="1.88" height="30.44" fill="#000" fill-opacity="0.4"/>
<rect x="324.77" y="167.12" width="1.88" height="31.56" fill="#000" fill-opacity="0.4"/>
<rect x="326.25" y="166.58" width="1.88" height="32.65" fill="#000" fill-opacity="0.4"/>
<rect x="327.73" y="166.06" width="1.88" height="33.69" fill="#000" fill-opacity="0.4"/>
<rect x="329.2" y="165.57" width="1.88" height="34.66" fill="#000" fill-opacity="0.4"/>
<rect x="330.68" y="165.13" width="1.88" height="35.55" fill="#000" fill-opacity="0.4"/>
<rect x="332.15" y="164.73" width="1.88" height="36.33" fill="#000" fill-opacity="0.4"/>
<rect x="333.62" y="164.4" width="1.88" height="37.01" fill="#000" fill-opacity="0.4"/>
<rect x="335.1" y="164.12" width="1.88" height="37.56" fill="#000" fill-opacity="0.4"/>
<rect x="336.57" y="163.91" width="1.88" height="37.98" fill="#000" fill-opacity="0.4"/>
<rect x="338.05" y="163.77" width="1.88" height="38.26" fill="#000" fill-opacity="0.4"/>
<rect x="339.52" y="163.7" width="1.88" height="38.41" fill="#000" fill-opacity="0.4"/>
<rect x="341" y="163.7" width="1.88" height="38.41" fill="#000" fill-opacity="0.4"/>
<rect x="342.48" y="163.77" width="1.88" height="38.26" fill="#000" fill-opacity="0.4"/>
<rect x="343.95" y="163.91" width="1.88" height="37.98" fill="#000" fill-opacity="0.4"/>
<rect x="345.43" y="164.12" width="1.88" height="37.56" fill="#000" fill-opacity="0.4"/>
<rect x="346.9" y="164.4" width="1.88" height="37.01" fill="#000" fill-opacity="0.4"/>
<rect x="348.38" y="164.73" width="1.88" height="36.33" fill="#000" fill-opacity="0.4"/>
<rect x="349.85" y="165.13" width="1.88" height="35.55" fill="#000" fill-opacity="0.4"/>
<rect x="351.32" y="165.57" width="1.88" height="34.66" fill="#000" fill-opacity="0.4"/>
<rect x="352.8" y="166.06" width="1.88" height="33.69" fill="#000" fill-opacity="0.4"/>
<rect x="354.27" y="166.58" width="1.88" height="32.65" fill="#000" fill-opacity="0.4"/>
<rect x="355.75" y="167.12" width="1.88" height="31.56" fill="#000" fill-opacity="0.4"/>
<rect x="357.23" y="167.68" width="1.88" height="30.44" fill="#000" fill-opacity="0.4"/>
<rect x="358.7" y="168.23" width="1.88" height="29.33" fill="#000" fill-opacity="0.4"/>
<rect x="360.18" y="168.78" width="1.88" height="28.25" fill="#000" fill-opacity="0.4"/>
<rect x="361.65" y="169.28" width="1.88" height="27.23" fill="#000" fill-opacity="0.4"/>
<rect x="363.12" y="169.75" width="1.88" height="26.31" fill="#000" fill-opacity="0.4"/>
<rect x="364.6" y="170.14" width="1.88" height="25.51" fill="#000" fill-opacity="0.4"/>
<rect x="366.07" y="170.46" width="1.88" height="24.88" fill="#000" fill-opacity="0.4"/>
<rect x="367.55" y="170.68" width="1.88" height="24.45" fill="#000" fill-opacity="0.4"/>
<rect x="369.02" y="170.79" width="1.88" height="24.22" fill="#000" fill-opacity="0.4"/>
</mask>
<mask id="m7" maskUnits="userSpaceOnUse" x="252.5" y="135.4" width="118" height="94.9">
<rect x="252.5" y="168.95" width="1.88" height="27.9" fill="url(#mg2)"/>
<rect x="253.97" y="168.83" width="1.88" height="28.13" fill="url(#mg2)"/>
<rect x="255.45" y="168.6" width="1.88" height="28.59" fill="url(#mg2)"/>
<rect x="256.93" y="168.27" width="1.88" height="29.26" fill="url(#mg2)"/>
<rect x="258.4" y="167.85" width="1.88" height="30.09" fill="url(#mg2)"/>
<rect x="259.88" y="167.37" width="1.88" height="31.06" fill="url(#mg2)"/>
<rect x="261.35" y="166.83" width="1.88" height="32.14" fill="url(#mg2)"/>
<rect x="262.82" y="166.26" width="1.88" height="33.28" fill="url(#mg2)"/>
<rect x="264.3" y="165.68" width="1.88" height="34.45" fill="url(#mg2)"/>
<rect x="265.77" y="165.09" width="1.88" height="35.62" fill="url(#mg2)"/>
<rect x="267.25" y="164.52" width="1.88" height="36.76" fill="url(#mg2)"/>
<rect x="268.73" y="163.97" width="1.88" height="37.86" fill="url(#mg2)"/>
<rect x="270.2" y="163.46" width="1.88" height="38.88" fill="url(#mg2)"/>
<rect x="271.68" y="162.99" width="1.88" height="39.82" fill="url(#mg2)"/>
<rect x="273.15" y="162.58" width="1.88" height="40.65" fill="url(#mg2)"/>
<rect x="274.62" y="162.22" width="1.88" height="41.36" fill="url(#mg2)"/>
<rect x="276.1" y="161.93" width="1.88" height="41.94" fill="url(#mg2)"/>
<rect x="277.57" y="161.71" width="1.88" height="42.38" fill="url(#mg2)"/>
<rect x="279.05" y="161.56" width="1.88" height="42.68" fill="url(#mg2)"/>
<rect x="280.52" y="161.49" width="1.88" height="42.83" fill="url(#mg2)"/>
<rect x="282" y="161.49" width="1.88" height="42.83" fill="url(#mg2)"/>
<rect x="283.48" y="161.56" width="1.88" height="42.68" fill="url(#mg2)"/>
<rect x="284.95" y="161.71" width="1.88" height="42.38" fill="url(#mg2)"/>
<rect x="286.43" y="161.93" width="1.88" height="41.94" fill="url(#mg2)"/>
<rect x="287.9" y="162.22" width="1.88" height="41.36" fill="url(#mg2)"/>
<rect x="289.38" y="162.58" width="1.88" height="40.65" fill="url(#mg2)"/>
<rect x="290.85" y="162.99" width="1.88" height="39.82" fill="url(#mg2)"/>
<rect x="292.32" y="163.46" width="1.88" height="38.88" fill="url(#mg2)"/>
<rect x="293.8" y="163.97" width="1.88" height="37.86" fill="url(#mg2)"/>
<rect x="295.27" y="164.52" width="1.88" height="36.76" fill="url(#mg2)"/>
<rect x="296.75" y="165.09" width="1.88" height="35.62" fill="url(#mg2)"/>
<rect x="298.23" y="165.68" width="1.88" height="34.45" fill="url(#mg2)"/>
<rect x="299.7" y="166.26" width="1.88" height="33.28" fill="url(#mg2)"/>
<rect x="301.18" y="166.83" width="1.88" height="32.14" fill="url(#mg2)"/>
<rect x="302.65" y="167.37" width="1.88" height="31.06" fill="url(#mg2)"/>
<rect x="304.12" y="167.85" width="1.88" height="30.09" fill="url(#mg2)"/>
<rect x="305.6" y="168.27" width="1.88" height="29.26" fill="url(#mg2)"/>
<rect x="307.07" y="168.6" width="1.88" height="28.59" fill="url(#mg2)"/>
<rect x="308.55" y="168.83" width="1.88" height="28.13" fill="url(#mg2)"/>
<rect x="310.02" y="168.95" width="1.88" height="27.9" fill="url(#mg2)"/>
<rect x="311.5" y="168.95" width="1.88" height="27.9" fill="url(#mg2)"/>
<rect x="312.98" y="168.83" width="1.88" height="28.13" fill="url(#mg2)"/>
<rect x="314.45" y="168.6" width="1.88" height="28.59" fill="url(#mg2)"/>
<rect x="315.93" y="168.27" width="1.88" height="29.26" fill="url(#mg2)"/>
<rect x="317.4" y="167.85" width="1.88" height="30.09" fill="url(#mg2)"/>
<rect x="318.88" y="167.37" width="1.88" height="31.06" fill="url(#mg2)"/>
<rect x="320.35" y="166.83" width="1.88" height="32.14" fill="url(#mg2)"/>
<rect x="321.82" y="166.26" width="1.88" height="33.28" fill="url(#mg2)"/>
<rect x="323.3" y="165.68" width="1.88" height="34.45" fill="url(#mg2)"/>
<rect x="324.77" y="165.09" width="1.88" height="35.62" fill="url(#mg2)"/>
<rect x="326.25" y="164.52" width="1.88" height="36.76" fill="url(#mg2)"/>
<rect x="327.73" y="163.97" width="1.88" height="37.86" fill="url(#mg2)"/>
<rect x="329.2" y="163.46" width="1.88" height="38.88" fill="url(#mg2)"/>
<rect x="330.68" y="162.99" width="1.88" height="39.82" fill="url(#mg2)"/>
<rect x="332.15" y="162.58" width="1.88" height="40.65" fill="url(#mg2)"/>
<rect x="333.62" y="162.22" width="1.88" height="41.36" fill="url(#mg2)"/>
<rect x="335.1" y="161.93" width="1.88" height="41.94" fill="url(#mg2)"/>
<rect x="336.57" y="161.71" width="1.88" height="42.38" fill="url(#mg2)"/>
<rect x="338.05" y="161.56" width="1.88" height="42.68" fill="url(#mg2)"/>
<rect x="339.52" y="161.49" width="1.88" height="42.83" fill="url(#mg2)"/>
<rect x="341" y="161.49" width="1.88" height="42.83" fill="url(#mg2)"/>
<rect x="342.48" y="161.56" width="1.88" height="42.68" fill="url(#mg2)"/>
<rect x="343.95" y="161.71" width="1.88" height="42.38" fill="url(#mg2)"/>
<rect x="345.43" y="161.93" width="1.88" height="41.94" fill="url(#mg2)"/>
<rect x="346.9" y="162.22" width="1.88" height="41.36" fill="url(#mg2)"/>
<rect x="348.38" y="162.58" width="1.88" height="40.65" fill="url(#mg2)"/>
<rect x="349.85" y="162.99" width="1.88" height="39.82" fill="url(#mg2)"/>
<rect x="351.32" y="163.46" width="1.88" height="38.88" fill="url(#mg2)"/>
<rect x="352.8" y="163.97" width="1.88" height="37.86" fill="url(#mg2)"/>
<rect x="354.27" y="164.52" width="1.88" height="36.76" fill="url(#mg2)"/>
<rect x="355.75" y="165.09" width="1.88" height="35.62" fill="url(#mg2)"/>
<rect x="357.23" y="165.68" width="1.88" height="34.45" fill="url(#mg2)"/>
<rect x="358.7" y="166.26" width="1.88" height="33.28" fill="url(#mg2)"/>
<rect x="360.18" y="166.83" width="1.88" height="32.14" fill="url(#mg2)"/>
<rect x="361.65" y="167.37" width="1.88" height="31.06" fill="url(#mg2)"/>
<rect x="363.12" y="167.85" width="1.88" height="30.09" fill="url(#mg2)"/>
<rect x="364.6" y="168.27" width="1.88" height="29.26" fill="url(#mg2)"/>
<rect x="366.07" y="168.6" width="1.88" height="28.59" fill="url(#mg2)"/>
<rect x="367.55" y="168.83" width="1.88" height="28.13" fill="url(#mg2)"/>
<rect x="369.02" y="168.95" width="1.88" height="27.9" fill="url(#mg2)"/>
</mask>
<mask id="m9" maskUnits="userSpaceOnUse" x="419.8" y="135.4" width="118.3" height="94.9">
<rect x="419.8" y="136.04" width="1.88" height="93.71" fill="url(#mg2)"/>
<rect x="421.28" y="136.31" width="1.88" height="93.19" fill="url(#mg2)"/>
<rect x="422.76" y="136.83" width="1.88" height="92.14" fill="url(#mg2)"/>
<rect x="424.24" y="137.61" width="1.88" height="90.59" fill="url(#mg2)"/>
<rect x="425.72" y="138.63" width="1.88" height="88.53" fill="url(#mg2)"/>
<rect x="427.19" y="139.91" width="1.88" height="85.99" fill="url(#mg2)"/>
<rect x="428.67" y="141.41" width="1.88" height="82.98" fill="url(#mg2)"/>
<rect x="430.15" y="143.13" width="1.88" height="79.54" fill="url(#mg2)"/>
<rect x="431.63" y="145.06" width="1.88" height="75.68" fill="url(#mg2)"/>
<rect x="433.11" y="147.18" width="1.88" height="71.45" fill="url(#mg2)"/>
<rect x="434.59" y="149.46" width="1.88" height="66.88" fill="url(#mg2)"/>
<rect x="436.07" y="151.89" width="1.88" height="62.02" fill="url(#mg2)"/>
<rect x="437.55" y="154.43" width="1.88" height="56.94" fill="url(#mg2)"/>
<rect x="439.02" y="157.05" width="1.88" height="51.7" fill="url(#mg2)"/>
<rect x="440.5" y="159.69" width="1.88" height="46.41" fill="url(#mg2)"/>
<rect x="441.98" y="162.3" width="1.88" height="41.21" fill="url(#mg2)"/>
<rect x="443.46" y="164.76" width="1.88" height="36.27" fill="url(#mg2)"/>
<rect x="444.94" y="166.95" width="1.88" height="31.9" fill="url(#mg2)"/>
<rect x="446.42" y="168.64" width="1.88" height="28.51" fill="url(#mg2)"/>
<rect x="447.9" y="169.59" width="1.88" height="26.62" fill="url(#mg2)"/>
<rect x="449.38" y="169.59" width="1.88" height="26.62" fill="url(#mg2)"/>
<rect x="450.85" y="168.64" width="1.88" height="28.51" fill="url(#mg2)"/>
<rect x="452.33" y="166.95" width="1.88" height="31.9" fill="url(#mg2)"/>
<rect x="453.81" y="164.76" width="1.88" height="36.27" fill="url(#mg2)"/>
<rect x="455.29" y="162.3" width="1.88" height="41.21" fill="url(#mg2)"/>
<rect x="456.77" y="159.69" width="1.88" height="46.41" fill="url(#mg2)"/>
<rect x="458.25" y="157.05" width="1.88" height="51.7" fill="url(#mg2)"/>
<rect x="459.73" y="154.43" width="1.88" height="56.94" fill="url(#mg2)"/>
<rect x="461.21" y="151.89" width="1.88" height="62.02" fill="url(#mg2)"/>
<rect x="462.68" y="149.46" width="1.88" height="66.88" fill="url(#mg2)"/>
<rect x="464.16" y="147.18" width="1.88" height="71.45" fill="url(#mg2)"/>
<rect x="465.64" y="145.06" width="1.88" height="75.68" fill="url(#mg2)"/>
<rect x="467.12" y="143.13" width="1.88" height="79.54" fill="url(#mg2)"/>
<rect x="468.6" y="141.41" width="1.88" height="82.98" fill="url(#mg2)"/>
<rect x="470.08" y="139.91" width="1.88" height="85.99" fill="url(#mg2)"/>
<rect x="471.56" y="138.63" width="1.88" height="88.53" fill="url(#mg2)"/>
<rect x="473.04" y="137.61" width="1.88" height="90.59" fill="url(#mg2)"/>
<rect x="474.51" y="136.83" width="1.88" height="92.14" fill="url(#mg2)"/>
<rect x="475.99" y="136.31" width="1.88" height="93.19" fill="url(#mg2)"/>
<rect x="477.47" y="136.04" width="1.88" height="93.71" fill="url(#mg2)"/>
<rect x="478.95" y="136.04" width="1.88" height="93.71" fill="url(#mg2)"/>
<rect x="480.43" y="136.31" width="1.88" height="93.19" fill="url(#mg2)"/>
<rect x="481.91" y="136.83" width="1.88" height="92.14" fill="url(#mg2)"/>
<rect x="483.39" y="137.61" width="1.88" height="90.59" fill="url(#mg2)"/>
<rect x="484.87" y="138.63" width="1.88" height="88.53" fill="url(#mg2)"/>
<rect x="486.34" y="139.91" width="1.88" height="85.99" fill="url(#mg2)"/>
<rect x="487.82" y="141.41" width="1.88" height="82.98" fill="url(#mg2)"/>
<rect x="489.3" y="143.13" width="1.88" height="79.54" fill="url(#mg2)"/>
<rect x="490.78" y="145.06" width="1.88" height="75.68" fill="url(#mg2)"/>
<rect x="492.26" y="147.18" width="1.88" height="71.45" fill="url(#mg2)"/>
<rect x="493.74" y="149.46" width="1.88" height="66.88" fill="url(#mg2)"/>
<rect x="495.22" y="151.89" width="1.88" height="62.02" fill="url(#mg2)"/>
<rect x="496.7" y="154.43" width="1.88" height="56.94" fill="url(#mg2)"/>
<rect x="498.17" y="157.05" width="1.88" height="51.7" fill="url(#mg2)"/>
<rect x="499.65" y="159.69" width="1.88" height="46.41" fill="url(#mg2)"/>
<rect x="501.13" y="162.3" width="1.88" height="41.21" fill="url(#mg2)"/>
<rect x="502.61" y="164.76" width="1.88" height="36.27" fill="url(#mg2)"/>
<rect x="504.09" y="166.95" width="1.88" height="31.9" fill="url(#mg2)"/>
<rect x="505.57" y="168.64" width="1.88" height="28.51" fill="url(#mg2)"/>
<rect x="507.05" y="169.59" width="1.88" height="26.62" fill="url(#mg2)"/>
<rect x="508.53" y="169.59" width="1.88" height="26.62" fill="url(#mg2)"/>
<rect x="510" y="168.64" width="1.88" height="28.51" fill="url(#mg2)"/>
<rect x="511.48" y="166.95" width="1.88" height="31.9" fill="url(#mg2)"/>
<rect x="512.96" y="164.76" width="1.88" height="36.27" fill="url(#mg2)"/>
<rect x="514.44" y="162.3" width="1.88" height="41.21" fill="url(#mg2)"/>
<rect x="515.92" y="159.69" width="1.88" height="46.41" fill="url(#mg2)"/>
<rect x="517.4" y="157.05" width="1.88" height="51.7" fill="url(#mg2)"/>
<rect x="518.88" y="154.43" width="1.88" height="56.94" fill="url(#mg2)"/>
<rect x="520.36" y="151.89" width="1.88" height="62.02" fill="url(#mg2)"/>
<rect x="521.83" y="149.46" width="1.88" height="66.88" fill="url(#mg2)"/>
<rect x="523.31" y="147.18" width="1.88" height="71.45" fill="url(#mg2)"/>
<rect x="524.79" y="145.06" width="1.88" height="75.68" fill="url(#mg2)"/>
<rect x="526.27" y="143.13" width="1.88" height="79.54" fill="url(#mg2)"/>
<rect x="527.75" y="141.41" width="1.88" height="82.98" fill="url(#mg2)"/>
<rect x="529.23" y="139.91" width="1.88" height="85.99" fill="url(#mg2)"/>
<rect x="530.71" y="138.63" width="1.88" height="88.53" fill="url(#mg2)"/>
<rect x="532.19" y="137.61" width="1.88" height="90.59" fill="url(#mg2)"/>
<rect x="533.66" y="136.83" width="1.88" height="92.14" fill="url(#mg2)"/>
<rect x="535.14" y="136.31" width="1.88" height="93.19" fill="url(#mg2)"/>
<rect x="536.62" y="136.04" width="1.88" height="93.71" fill="url(#mg2)"/>
</mask>
<mask id="m11" maskUnits="userSpaceOnUse" x="419.3" y="269.3" width="118.1" height="95.2">
<rect x="419.3" y="270.01" width="1.88" height="98.39" fill="url(#mg)"/>
<rect x="420.78" y="271.13" width="1.88" height="96.15" fill="url(#mg)"/>
<rect x="422.25" y="272.99" width="1.88" height="92.41" fill="url(#mg)"/>
<rect x="423.73" y="275.61" width="1.88" height="87.18" fill="url(#mg)"/>
<rect x="425.2" y="278.04" width="1.88" height="82.33" fill="url(#mg)"/>
<rect x="426.68" y="280.28" width="1.88" height="77.85" fill="url(#mg)"/>
<rect x="428.16" y="282.14" width="1.88" height="74.11" fill="url(#mg)"/>
<rect x="429.63" y="283.64" width="1.88" height="71.12" fill="url(#mg)"/>
<rect x="431.11" y="285.13" width="1.88" height="68.14" fill="url(#mg)"/>
<rect x="432.59" y="286.63" width="1.88" height="65.15" fill="url(#mg)"/>
<rect x="434.06" y="288.31" width="1.88" height="61.79" fill="url(#mg)"/>
<rect x="435.54" y="290.17" width="1.88" height="58.05" fill="url(#mg)"/>
<rect x="437.01" y="292.42" width="1.88" height="53.57" fill="url(#mg)"/>
<rect x="438.49" y="295.03" width="1.88" height="48.34" fill="url(#mg)"/>
<rect x="439.97" y="298.02" width="1.88" height="42.36" fill="url(#mg)"/>
<rect x="441.44" y="301.38" width="1.88" height="35.64" fill="url(#mg)"/>
<rect x="442.92" y="304.93" width="1.88" height="28.54" fill="url(#mg)"/>
<rect x="444.4" y="308.66" width="1.88" height="21.07" fill="url(#mg)"/>
<rect x="445.87" y="312.4" width="1.88" height="13.61" fill="url(#mg)"/>
<rect x="447.35" y="316.13" width="1.88" height="6.13" fill="url(#mg)"/>
<rect x="448.82" y="316.13" width="1.88" height="6.13" fill="url(#mg)"/>
<rect x="450.3" y="312.4" width="1.88" height="13.61" fill="url(#mg)"/>
<rect x="451.78" y="308.66" width="1.88" height="21.07" fill="url(#mg)"/>
<rect x="453.25" y="304.93" width="1.88" height="28.54" fill="url(#mg)"/>
<rect x="454.73" y="301.38" width="1.88" height="35.64" fill="url(#mg)"/>
<rect x="456.21" y="298.02" width="1.88" height="42.36" fill="url(#mg)"/>
<rect x="457.68" y="295.03" width="1.88" height="48.34" fill="url(#mg)"/>
<rect x="459.16" y="292.42" width="1.88" height="53.57" fill="url(#mg)"/>
<rect x="460.63" y="290.17" width="1.88" height="58.05" fill="url(#mg)"/>
<rect x="462.11" y="288.31" width="1.88" height="61.79" fill="url(#mg)"/>
<rect x="463.59" y="286.63" width="1.88" height="65.15" fill="url(#mg)"/>
<rect x="465.06" y="285.13" width="1.88" height="68.14" fill="url(#mg)"/>
<rect x="466.54" y="283.64" width="1.88" height="71.12" fill="url(#mg)"/>
<rect x="468.02" y="282.14" width="1.88" height="74.11" fill="url(#mg)"/>
<rect x="469.49" y="280.28" width="1.88" height="77.85" fill="url(#mg)"/>
<rect x="470.97" y="278.04" width="1.88" height="82.33" fill="url(#mg)"/>
<rect x="472.44" y="275.61" width="1.88" height="87.18" fill="url(#mg)"/>
<rect x="473.92" y="272.99" width="1.88" height="92.41" fill="url(#mg)"/>
<rect x="475.4" y="271.13" width="1.88" height="96.15" fill="url(#mg)"/>
<rect x="476.87" y="270.01" width="1.88" height="98.39" fill="url(#mg)"/>
<rect x="478.35" y="270.01" width="1.88" height="98.39" fill="url(#mg)"/>
<rect x="479.83" y="271.13" width="1.88" height="96.15" fill="url(#mg)"/>
<rect x="481.3" y="272.99" width="1.88" height="92.41" fill="url(#mg)"/>
<rect x="482.78" y="275.61" width="1.88" height="87.18" fill="url(#mg)"/>
<rect x="484.25" y="278.04" width="1.88" height="82.33" fill="url(#mg)"/>
<rect x="485.73" y="280.28" width="1.88" height="77.85" fill="url(#mg)"/>
<rect x="487.21" y="282.14" width="1.88" height="74.11" fill="url(#mg)"/>
<rect x="488.68" y="283.64" width="1.88" height="71.12" fill="url(#mg)"/>
<rect x="490.16" y="285.13" width="1.88" height="68.14" fill="url(#mg)"/>
<rect x="491.64" y="286.63" width="1.88" height="65.15" fill="url(#mg)"/>
<rect x="493.11" y="288.31" width="1.88" height="61.79" fill="url(#mg)"/>
<rect x="494.59" y="290.17" width="1.88" height="58.05" fill="url(#mg)"/>
<rect x="496.06" y="292.42" width="1.88" height="53.57" fill="url(#mg)"/>
<rect x="497.54" y="295.03" width="1.88" height="48.34" fill="url(#mg)"/>
<rect x="499.02" y="298.02" width="1.88" height="42.36" fill="url(#mg)"/>
<rect x="500.49" y="301.38" width="1.88" height="35.64" fill="url(#mg)"/>
<rect x="501.97" y="304.93" width="1.88" height="28.54" fill="url(#mg)"/>
<rect x="503.45" y="308.66" width="1.88" height="21.07" fill="url(#mg)"/>
<rect x="504.92" y="312.4" width="1.88" height="13.61" fill="url(#mg)"/>
<rect x="506.4" y="316.13" width="1.88" height="6.13" fill="url(#mg)"/>
<rect x="507.88" y="316.13" width="1.88" height="6.13" fill="url(#mg)"/>
<rect x="509.35" y="312.4" width="1.88" height="13.61" fill="url(#mg)"/>
<rect x="510.83" y="308.66" width="1.88" height="21.07" fill="url(#mg)"/>
<rect x="512.3" y="304.93" width="1.88" height="28.54" fill="url(#mg)"/>
<rect x="513.78" y="301.38" width="1.88" height="35.64" fill="url(#mg)"/>
<rect x="515.26" y="298.02" width="1.88" height="42.36" fill="url(#mg)"/>
<rect x="516.73" y="295.03" width="1.88" height="48.34" fill="url(#mg)"/>
<rect x="518.21" y="292.42" width="1.88" height="53.57" fill="url(#mg)"/>
<rect x="519.68" y="290.17" width="1.88" height="58.05" fill="url(#mg)"/>
<rect x="521.16" y="288.31" width="1.88" height="61.79" fill="url(#mg)"/>
<rect x="522.64" y="286.63" width="1.88" height="65.15" fill="url(#mg)"/>
<rect x="524.11" y="285.13" width="1.88" height="68.14" fill="url(#mg)"/>
<rect x="525.59" y="283.64" width="1.88" height="71.12" fill="url(#mg)"/>
<rect x="527.07" y="282.14" width="1.88" height="74.11" fill="url(#mg)"/>
<rect x="528.54" y="280.28" width="1.88" height="77.85" fill="url(#mg)"/>
<rect x="530.02" y="278.04" width="1.88" height="82.33" fill="url(#mg)"/>
<rect x="531.5" y="275.61" width="1.88" height="87.18" fill="url(#mg)"/>
<rect x="532.97" y="272.99" width="1.88" height="92.41" fill="url(#mg)"/>
<rect x="534.45" y="271.13" width="1.88" height="96.15" fill="url(#mg)"/>
<rect x="535.92" y="270.01" width="1.88" height="98.39" fill="url(#mg)"/>
<rect x="419.3" y="279.08" width="1.88" height="80.25" fill="#000" fill-opacity="0.9"/>
<rect x="420.78" y="280.01" width="1.88" height="78.37" fill="#000" fill-opacity="0.9"/>
<rect x="422.25" y="281.57" width="1.88" height="75.25" fill="#000" fill-opacity="0.9"/>
<rect x="423.73" y="283.76" width="1.88" height="70.88" fill="#000" fill-opacity="0.9"/>
<rect x="425.2" y="285.79" width="1.88" height="66.82" fill="#000" fill-opacity="0.9"/>
<rect x="426.68" y="287.66" width="1.88" height="63.07" fill="#000" fill-opacity="0.9"/>
<rect x="428.16" y="289.22" width="1.88" height="59.95" fill="#000" fill-opacity="0.9"/>
<rect x="429.63" y="290.47" width="1.88" height="57.45" fill="#000" fill-opacity="0.9"/>
<rect x="431.11" y="291.72" width="1.88" height="54.96" fill="#000" fill-opacity="0.9"/>
<rect x="432.59" y="292.97" width="1.88" height="52.46" fill="#000" fill-opacity="0.9"/>
<rect x="434.06" y="294.38" width="1.88" height="49.65" fill="#000" fill-opacity="0.9"/>
<rect x="435.54" y="295.94" width="1.88" height="46.52" fill="#000" fill-opacity="0.9"/>
<rect x="437.01" y="297.81" width="1.88" height="42.78" fill="#000" fill-opacity="0.9"/>
<rect x="438.49" y="298.32" width="1.88" height="41.76" fill="#000" fill-opacity="0.9"/>
<rect x="439.97" y="297.82" width="1.88" height="42.76" fill="#000" fill-opacity="0.9"/>
<rect x="441.44" y="297.39" width="1.88" height="43.62" fill="#000" fill-opacity="0.9"/>
<rect x="442.92" y="297.04" width="1.88" height="44.32" fill="#000" fill-opacity="0.9"/>
<rect x="444.4" y="296.77" width="1.88" height="44.85" fill="#000" fill-opacity="0.9"/>
<rect x="445.87" y="296.59" width="1.88" height="45.21" fill="#000" fill-opacity="0.9"/>
<rect x="447.35" y="296.5" width="1.88" height="45.39" fill="#000" fill-opacity="0.9"/>
<rect x="448.82" y="296.5" width="1.88" height="45.39" fill="#000" fill-opacity="0.9"/>
<rect x="450.3" y="296.59" width="1.88" height="45.21" fill="#000" fill-opacity="0.9"/>
<rect x="451.78" y="296.77" width="1.88" height="44.85" fill="#000" fill-opacity="0.9"/>
<rect x="453.25" y="297.04" width="1.88" height="44.32" fill="#000" fill-opacity="0.9"/>
<rect x="454.73" y="297.39" width="1.88" height="43.62" fill="#000" fill-opacity="0.9"/>
<rect x="456.21" y="297.82" width="1.88" height="42.76" fill="#000" fill-opacity="0.9"/>
<rect x="457.68" y="298.32" width="1.88" height="41.76" fill="#000" fill-opacity="0.9"/>
<rect x="459.16" y="297.81" width="1.88" height="42.78" fill="#000" fill-opacity="0.9"/>
<rect x="460.63" y="295.94" width="1.88" height="46.52" fill="#000" fill-opacity="0.9"/>
<rect x="462.11" y="294.38" width="1.88" height="49.65" fill="#000" fill-opacity="0.9"/>
<rect x="463.59" y="292.97" width="1.88" height="52.46" fill="#000" fill-opacity="0.9"/>
<rect x="465.06" y="291.72" width="1.88" height="54.96" fill="#000" fill-opacity="0.9"/>
<rect x="466.54" y="290.47" width="1.88" height="57.45" fill="#000" fill-opacity="0.9"/>
<rect x="468.02" y="289.22" width="1.88" height="59.95" fill="#000" fill-opacity="0.9"/>
<rect x="469.49" y="287.66" width="1.88" height="63.07" fill="#000" fill-opacity="0.9"/>
<rect x="470.97" y="285.79" width="1.88" height="66.82" fill="#000" fill-opacity="0.9"/>
<rect x="472.44" y="283.76" width="1.88" height="70.88" fill="#000" fill-opacity="0.9"/>
<rect x="473.92" y="281.57" width="1.88" height="75.25" fill="#000" fill-opacity="0.9"/>
<rect x="475.4" y="280.01" width="1.88" height="78.37" fill="#000" fill-opacity="0.9"/>
<rect x="476.87" y="279.08" width="1.88" height="80.25" fill="#000" fill-opacity="0.9"/>
<rect x="478.35" y="279.08" width="1.88" height="80.25" fill="#000" fill-opacity="0.9"/>
<rect x="479.83" y="280.01" width="1.88" height="78.37" fill="#000" fill-opacity="0.9"/>
<rect x="481.3" y="281.57" width="1.88" height="75.25" fill="#000" fill-opacity="0.9"/>
<rect x="482.78" y="283.76" width="1.88" height="70.88" fill="#000" fill-opacity="0.9"/>
<rect x="484.25" y="285.79" width="1.88" height="66.82" fill="#000" fill-opacity="0.9"/>
<rect x="485.73" y="287.66" width="1.88" height="63.07" fill="#000" fill-opacity="0.9"/>
<rect x="487.21" y="289.22" width="1.88" height="59.95" fill="#000" fill-opacity="0.9"/>
<rect x="488.68" y="290.47" width="1.88" height="57.45" fill="#000" fill-opacity="0.9"/>
<rect x="490.16" y="291.72" width="1.88" height="54.96" fill="#000" fill-opacity="0.9"/>
<rect x="491.64" y="292.97" width="1.88" height="52.46" fill="#000" fill-opacity="0.9"/>
<rect x="493.11" y="294.38" width="1.88" height="49.65" fill="#000" fill-opacity="0.9"/>
<rect x="494.59" y="295.94" width="1.88" height="46.52" fill="#000" fill-opacity="0.9"/>
<rect x="496.06" y="297.81" width="1.88" height="42.78" fill="#000" fill-opacity="0.9"/>
<rect x="497.54" y="298.32" width="1.88" height="41.76" fill="#000" fill-opacity="0.9"/>
<rect x="499.02" y="297.82" width="1.88" height="42.76" fill="#000" fill-opacity="0.9"/>
<rect x="500.49" y="297.39" width="1.88" height="43.62" fill="#000" fill-opacity="0.9"/>
<rect x="501.97" y="297.04" width="1.88" height="44.32" fill="#000" fill-opacity="0.9"/>
<rect x="503.45" y="296.77" width="1.88" height="44.85" fill="#000" fill-opacity="0.9"/>
<rect x="504.92" y="296.59" width="1.88" height="45.21" fill="#000" fill-opacity="0.9"/>
<rect x="506.4" y="296.5" width="1.88" height="45.39" fill="#000" fill-opacity="0.9"/>
<rect x="507.88" y="296.5" width="1.88" height="45.39" fill="#000" fill-opacity="0.9"/>
<rect x="509.35" y="296.59" width="1.88" height="45.21" fill="#000" fill-opacity="0.9"/>
<rect x="510.83" y="296.77" width="1.88" height="44.85" fill="#000" fill-opacity="0.9"/>
<rect x="512.3" y="297.04" width="1.88" height="44.32" fill="#000" fill-opacity="0.9"/>
<rect x="513.78" y="297.39" width="1.88" height="43.62" fill="#000" fill-opacity="0.9"/>
<rect x="515.26" y="297.82" width="1.88" height="42.76" fill="#000" fill-opacity="0.9"/>
<rect x="516.73" y="298.32" width="1.88" height="41.76" fill="#000" fill-opacity="0.9"/>
<rect x="518.21" y="297.81" width="1.88" height="42.78" fill="#000" fill-opacity="0.9"/>
<rect x="519.68" y="295.94" width="1.88" height="46.52" fill="#000" fill-opacity="0.9"/>
<rect x="521.16" y="294.38" width="1.88" height="49.65" fill="#000" fill-opacity="0.9"/>
<rect x="522.64" y="292.97" width="1.88" height="52.46" fill="#000" fill-opacity="0.9"/>
<rect x="524.11" y="291.72" width="1.88" height="54.96" fill="#000" fill-opacity="0.9"/>
<rect x="525.59" y="290.47" width="1.88" height="57.45" fill="#000" fill-opacity="0.9"/>
<rect x="527.07" y="289.22" width="1.88" height="59.95" fill="#000" fill-opacity="0.9"/>
<rect x="528.54" y="287.66" width="1.88" height="63.07" fill="#000" fill-opacity="0.9"/>
<rect x="530.02" y="285.79" width="1.88" height="66.82" fill="#000" fill-opacity="0.9"/>
<rect x="531.5" y="283.76" width="1.88" height="70.88" fill="#000" fill-opacity="0.9"/>
<rect x="532.97" y="281.57" width="1.88" height="75.25" fill="#000" fill-opacity="0.9"/>
<rect x="534.45" y="280.01" width="1.88" height="78.37" fill="#000" fill-opacity="0.9"/>
<rect x="535.92" y="279.08" width="1.88" height="80.25" fill="#000" fill-opacity="0.9"/>
</mask>
<mask id="m13" maskUnits="userSpaceOnUse" x="419.3" y="269.3" width="118.1" height="95.2">
<rect x="419.3" y="275.76" width="1.88" height="86.87" fill="url(#mg)"/>
<rect x="420.78" y="276.75" width="1.88" height="84.9" fill="url(#mg)"/>
<rect x="422.25" y="278.39" width="1.88" height="81.61" fill="url(#mg)"/>
<rect x="423.73" y="280.69" width="1.88" height="77.01" fill="url(#mg)"/>
<rect x="425.2" y="282.83" width="1.88" height="72.74" fill="url(#mg)"/>
<rect x="426.68" y="284.8" width="1.88" height="68.79" fill="url(#mg)"/>
<rect x="428.16" y="286.45" width="1.88" height="65.51" fill="url(#mg)"/>
<rect x="429.63" y="287.76" width="1.88" height="62.88" fill="url(#mg)"/>
<rect x="431.11" y="289.08" width="1.88" height="60.25" fill="url(#mg)"/>
<rect x="432.59" y="290.39" width="1.88" height="57.62" fill="url(#mg)"/>
<rect x="434.06" y="291.87" width="1.88" height="54.66" fill="url(#mg)"/>
<rect x="435.54" y="293.51" width="1.88" height="51.37" fill="url(#mg)"/>
<rect x="437.01" y="295.49" width="1.88" height="47.43" fill="url(#mg)"/>
<rect x="438.49" y="297.79" width="1.88" height="42.83" fill="url(#mg)"/>
<rect x="439.97" y="300.42" width="1.88" height="37.57" fill="url(#mg)"/>
<rect x="441.44" y="303.37" width="1.88" height="31.65" fill="url(#mg)"/>
<rect x="442.92" y="306.5" width="1.88" height="25.41" fill="url(#mg)"/>
<rect x="444.4" y="309.78" width="1.88" height="18.83" fill="url(#mg)"/>
<rect x="445.87" y="313.07" width="1.88" height="12.26" fill="url(#mg)"/>
<rect x="447.35" y="316.36" width="1.88" height="5.69" fill="url(#mg)"/>
<rect x="448.82" y="316.36" width="1.88" height="5.69" fill="url(#mg)"/>
<rect x="450.3" y="313.07" width="1.88" height="12.26" fill="url(#mg)"/>
<rect x="451.78" y="309.78" width="1.88" height="18.83" fill="url(#mg)"/>
<rect x="453.25" y="306.5" width="1.88" height="25.41" fill="url(#mg)"/>
<rect x="454.73" y="303.37" width="1.88" height="31.65" fill="url(#mg)"/>
<rect x="456.21" y="300.42" width="1.88" height="37.57" fill="url(#mg)"/>
<rect x="457.68" y="297.79" width="1.88" height="42.83" fill="url(#mg)"/>
<rect x="459.16" y="295.49" width="1.88" height="47.43" fill="url(#mg)"/>
<rect x="460.63" y="293.51" width="1.88" height="51.37" fill="url(#mg)"/>
<rect x="462.11" y="291.87" width="1.88" height="54.66" fill="url(#mg)"/>
<rect x="463.59" y="290.39" width="1.88" height="57.62" fill="url(#mg)"/>
<rect x="465.06" y="289.08" width="1.88" height="60.25" fill="url(#mg)"/>
<rect x="466.54" y="287.76" width="1.88" height="62.88" fill="url(#mg)"/>
<rect x="468.02" y="286.45" width="1.88" height="65.51" fill="url(#mg)"/>
<rect x="469.49" y="284.8" width="1.88" height="68.79" fill="url(#mg)"/>
<rect x="470.97" y="282.83" width="1.88" height="72.74" fill="url(#mg)"/>
<rect x="472.44" y="280.69" width="1.88" height="77.01" fill="url(#mg)"/>
<rect x="473.92" y="278.39" width="1.88" height="81.61" fill="url(#mg)"/>
<rect x="475.4" y="276.75" width="1.88" height="84.9" fill="url(#mg)"/>
<rect x="476.87" y="275.76" width="1.88" height="86.87" fill="url(#mg)"/>
<rect x="478.35" y="275.76" width="1.88" height="86.87" fill="url(#mg)"/>
<rect x="479.83" y="276.75" width="1.88" height="84.9" fill="url(#mg)"/>
<rect x="481.3" y="278.39" width="1.88" height="81.61" fill="url(#mg)"/>
<rect x="482.78" y="280.69" width="1.88" height="77.01" fill="url(#mg)"/>
<rect x="484.25" y="282.83" width="1.88" height="72.74" fill="url(#mg)"/>
<rect x="485.73" y="284.8" width="1.88" height="68.79" fill="url(#mg)"/>
<rect x="487.21" y="286.45" width="1.88" height="65.51" fill="url(#mg)"/>
<rect x="488.68" y="287.76" width="1.88" height="62.88" fill="url(#mg)"/>
<rect x="490.16" y="289.08" width="1.88" height="60.25" fill="url(#mg)"/>
<rect x="491.64" y="290.39" width="1.88" height="57.62" fill="url(#mg)"/>
<rect x="493.11" y="291.87" width="1.88" height="54.66" fill="url(#mg)"/>
<rect x="494.59" y="293.51" width="1.88" height="51.37" fill="url(#mg)"/>
<rect x="496.06" y="295.49" width="1.88" height="47.43" fill="url(#mg)"/>
<rect x="497.54" y="297.79" width="1.88" height="42.83" fill="url(#mg)"/>
<rect x="499.02" y="300.42" width="1.88" height="37.57" fill="url(#mg)"/>
<rect x="500.49" y="303.37" width="1.88" height="31.65" fill="url(#mg)"/>
<rect x="501.97" y="306.5" width="1.88" height="25.41" fill="url(#mg)"/>
<rect x="503.45" y="309.78" width="1.88" height="18.83" fill="url(#mg)"/>
<rect x="504.92" y="313.07" width="1.88" height="12.26" fill="url(#mg)"/>
<rect x="506.4" y="316.36" width="1.88" height="5.69" fill="url(#mg)"/>
<rect x="507.88" y="316.36" width="1.88" height="5.69" fill="url(#mg)"/>
<rect x="509.35" y="313.07" width="1.88" height="12.26" fill="url(#mg)"/>
<rect x="510.83" y="309.78" width="1.88" height="18.83" fill="url(#mg)"/>
<rect x="512.3" y="306.5" width="1.88" height="25.41" fill="url(#mg)"/>
<rect x="513.78" y="303.37" width="1.88" height="31.65" fill="url(#mg)"/>
<rect x="515.26" y="300.42" width="1.88" height="37.57" fill="url(#mg)"/>
<rect x="516.73" y="297.79" width="1.88" height="42.83" fill="url(#mg)"/>
<rect x="518.21" y="295.49" width="1.88" height="47.43" fill="url(#mg)"/>
<rect x="519.68" y="293.51" width="1.88" height="51.37" fill="url(#mg)"/>
<rect x="521.16" y="291.87" width="1.88" height="54.66" fill="url(#mg)"/>
<rect x="522.64" y="290.39" width="1.88" height="57.62" fill="url(#mg)"/>
<rect x="524.11" y="289.08" width="1.88" height="60.25" fill="url(#mg)"/>
<rect x="525.59" y="287.76" width="1.88" height="62.88" fill="url(#mg)"/>
<rect x="527.07" y="286.45" width="1.88" height="65.51" fill="url(#mg)"/>
<rect x="528.54" y="284.8" width="1.88" height="68.79" fill="url(#mg)"/>
<rect x="530.02" y="282.83" width="1.88" height="72.74" fill="url(#mg)"/>
<rect x="531.5" y="280.69" width="1.88" height="77.01" fill="url(#mg)"/>
<rect x="532.97" y="278.39" width="1.88" height="81.61" fill="url(#mg)"/>
<rect x="534.45" y="276.75" width="1.88" height="84.9" fill="url(#mg)"/>
<rect x="535.92" y="275.76" width="1.88" height="86.87" fill="url(#mg)"/>
<rect x="419.3" y="305.7" width="1.88" height="27" fill="#000" fill-opacity="0.3"/>
<rect x="420.78" y="305.55" width="1.88" height="27.31" fill="#000" fill-opacity="0.3"/>
<rect x="422.25" y="305.25" width="1.88" height="27.89" fill="#000" fill-opacity="0.3"/>
<rect x="423.73" y="304.83" width="1.88" height="28.73" fill="#000" fill-opacity="0.3"/>
<rect x="425.2" y="304.31" width="1.88" height="29.79" fill="#000" fill-opacity="0.3"/>
<rect x="426.68" y="303.7" width="1.88" height="31" fill="#000" fill-opacity="0.3"/>
<rect x="428.16" y="303.03" width="1.88" height="32.34" fill="#000" fill-opacity="0.3"/>
<rect x="429.63" y="302.32" width="1.88" height="33.76" fill="#000" fill-opacity="0.3"/>
<rect x="431.11" y="301.6" width="1.88" height="35.2" fill="#000" fill-opacity="0.3"/>
<rect x="432.59" y="300.88" width="1.88" height="36.64" fill="#000" fill-opacity="0.3"/>
<rect x="434.06" y="300.18" width="1.88" height="38.04" fill="#000" fill-opacity="0.3"/>
<rect x="435.54" y="299.51" width="1.88" height="39.38" fill="#000" fill-opacity="0.3"/>
<rect x="437.01" y="298.89" width="1.88" height="40.63" fill="#000" fill-opacity="0.3"/>
<rect x="438.49" y="298.32" width="1.88" height="41.76" fill="#000" fill-opacity="0.3"/>
<rect x="439.97" y="297.82" width="1.88" height="42.76" fill="#000" fill-opacity="0.3"/>
<rect x="441.44" y="297.39" width="1.88" height="43.62" fill="#000" fill-opacity="0.3"/>
<rect x="442.92" y="297.04" width="1.88" height="44.32" fill="#000" fill-opacity="0.3"/>
<rect x="444.4" y="296.77" width="1.88" height="44.85" fill="#000" fill-opacity="0.3"/>
<rect x="445.87" y="296.59" width="1.88" height="45.21" fill="#000" fill-opacity="0.3"/>
<rect x="447.35" y="296.5" width="1.88" height="45.39" fill="#000" fill-opacity="0.3"/>
<rect x="448.82" y="296.5" width="1.88" height="45.39" fill="#000" fill-opacity="0.3"/>
<rect x="450.3" y="296.59" width="1.88" height="45.21" fill="#000" fill-opacity="0.3"/>
<rect x="451.78" y="296.77" width="1.88" height="44.85" fill="#000" fill-opacity="0.3"/>
<rect x="453.25" y="297.04" width="1.88" height="44.32" fill="#000" fill-opacity="0.3"/>
<rect x="454.73" y="297.39" width="1.88" height="43.62" fill="#000" fill-opacity="0.3"/>
<rect x="456.21" y="297.82" width="1.88" height="42.76" fill="#000" fill-opacity="0.3"/>
<rect x="457.68" y="298.32" width="1.88" height="41.76" fill="#000" fill-opacity="0.3"/>
<rect x="459.16" y="298.89" width="1.88" height="40.63" fill="#000" fill-opacity="0.3"/>
<rect x="460.63" y="299.51" width="1.88" height="39.38" fill="#000" fill-opacity="0.3"/>
<rect x="462.11" y="300.18" width="1.88" height="38.04" fill="#000" fill-opacity="0.3"/>
<rect x="463.59" y="300.88" width="1.88" height="36.64" fill="#000" fill-opacity="0.3"/>
<rect x="465.06" y="301.6" width="1.88" height="35.2" fill="#000" fill-opacity="0.3"/>
<rect x="466.54" y="302.32" width="1.88" height="33.76" fill="#000" fill-opacity="0.3"/>
<rect x="468.02" y="303.03" width="1.88" height="32.34" fill="#000" fill-opacity="0.3"/>
<rect x="469.49" y="303.7" width="1.88" height="31" fill="#000" fill-opacity="0.3"/>
<rect x="470.97" y="304.31" width="1.88" height="29.79" fill="#000" fill-opacity="0.3"/>
<rect x="472.44" y="304.83" width="1.88" height="28.73" fill="#000" fill-opacity="0.3"/>
<rect x="473.92" y="305.25" width="1.88" height="27.89" fill="#000" fill-opacity="0.3"/>
<rect x="475.4" y="305.55" width="1.88" height="27.31" fill="#000" fill-opacity="0.3"/>
<rect x="476.87" y="305.7" width="1.88" height="27" fill="#000" fill-opacity="0.3"/>
<rect x="478.35" y="305.7" width="1.88" height="27" fill="#000" fill-opacity="0.3"/>
<rect x="479.83" y="305.55" width="1.88" height="27.31" fill="#000" fill-opacity="0.3"/>
<rect x="481.3" y="305.25" width="1.88" height="27.89" fill="#000" fill-opacity="0.3"/>
<rect x="482.78" y="304.83" width="1.88" height="28.73" fill="#000" fill-opacity="0.3"/>
<rect x="484.25" y="304.31" width="1.88" height="29.79" fill="#000" fill-opacity="0.3"/>
<rect x="485.73" y="303.7" width="1.88" height="31" fill="#000" fill-opacity="0.3"/>
<rect x="487.21" y="303.03" width="1.88" height="32.34" fill="#000" fill-opacity="0.3"/>
<rect x="488.68" y="302.32" width="1.88" height="33.76" fill="#000" fill-opacity="0.3"/>
<rect x="490.16" y="301.6" width="1.88" height="35.2" fill="#000" fill-opacity="0.3"/>
<rect x="491.64" y="300.88" width="1.88" height="36.64" fill="#000" fill-opacity="0.3"/>
<rect x="493.11" y="300.18" width="1.88" height="38.04" fill="#000" fill-opacity="0.3"/>
<rect x="494.59" y="299.51" width="1.88" height="39.38" fill="#000" fill-opacity="0.3"/>
<rect x="496.06" y="298.89" width="1.88" height="40.63" fill="#000" fill-opacity="0.3"/>
<rect x="497.54" y="298.32" width="1.88" height="41.76" fill="#000" fill-opacity="0.3"/>
<rect x="499.02" y="297.82" width="1.88" height="42.76" fill="#000" fill-opacity="0.3"/>
<rect x="500.49" y="297.39" width="1.88" height="43.62" fill="#000" fill-opacity="0.3"/>
<rect x="501.97" y="297.04" width="1.88" height="44.32" fill="#000" fill-opacity="0.3"/>
<rect x="503.45" y="296.77" width="1.88" height="44.85" fill="#000" fill-opacity="0.3"/>
<rect x="504.92" y="296.59" width="1.88" height="45.21" fill="#000" fill-opacity="0.3"/>
<rect x="506.4" y="296.5" width="1.88" height="45.39" fill="#000" fill-opacity="0.3"/>
<rect x="507.88" y="296.5" width="1.88" height="45.39" fill="#000" fill-opacity="0.3"/>
<rect x="509.35" y="296.59" width="1.88" height="45.21" fill="#000" fill-opacity="0.3"/>
<rect x="510.83" y="296.77" width="1.88" height="44.85" fill="#000" fill-opacity="0.3"/>
<rect x="512.3" y="297.04" width="1.88" height="44.32" fill="#000" fill-opacity="0.3"/>
<rect x="513.78" y="297.39" width="1.88" height="43.62" fill="#000" fill-opacity="0.3"/>
<rect x="515.26" y="297.82" width="1.88" height="42.76" fill="#000" fill-opacity="0.3"/>
<rect x="516.73" y="298.32" width="1.88" height="41.76" fill="#000" fill-opacity="0.3"/>
<rect x="518.21" y="298.89" width="1.88" height="40.63" fill="#000" fill-opacity="0.3"/>
<rect x="519.68" y="299.51" width="1.88" height="39.38" fill="#000" fill-opacity="0.3"/>
<rect x="521.16" y="300.18" width="1.88" height="38.04" fill="#000" fill-opacity="0.3"/>
<rect x="522.64" y="300.88" width="1.88" height="36.64" fill="#000" fill-opacity="0.3"/>
<rect x="524.11" y="301.6" width="1.88" height="35.2" fill="#000" fill-opacity="0.3"/>
<rect x="525.59" y="302.32" width="1.88" height="33.76" fill="#000" fill-opacity="0.3"/>
<rect x="527.07" y="303.03" width="1.88" height="32.34" fill="#000" fill-opacity="0.3"/>
<rect x="528.54" y="303.7" width="1.88" height="31" fill="#000" fill-opacity="0.3"/>
<rect x="530.02" y="304.31" width="1.88" height="29.79" fill="#000" fill-opacity="0.3"/>
<rect x="531.5" y="304.83" width="1.88" height="28.73" fill="#000" fill-opacity="0.3"/>
<rect x="532.97" y="305.25" width="1.88" height="27.89" fill="#000" fill-opacity="0.3"/>
<rect x="534.45" y="305.55" width="1.88" height="27.31" fill="#000" fill-opacity="0.3"/>
<rect x="535.92" y="305.7" width="1.88" height="27" fill="#000" fill-opacity="0.3"/>
</mask>
<mask id="m15" maskUnits="userSpaceOnUse" x="419.3" y="269.3" width="118.1" height="95.2">
<rect x="419.3" y="303.79" width="1.88" height="30.83" fill="url(#mg2)"/>
<rect x="420.78" y="303.63" width="1.88" height="31.14" fill="url(#mg2)"/>
<rect x="422.25" y="303.32" width="1.88" height="31.76" fill="url(#mg2)"/>
<rect x="423.73" y="302.88" width="1.88" height="32.65" fill="url(#mg2)"/>
<rect x="425.2" y="302.32" width="1.88" height="33.75" fill="url(#mg2)"/>
<rect x="426.68" y="301.68" width="1.88" height="35.04" fill="url(#mg2)"/>
<rect x="428.16" y="300.98" width="1.88" height="36.45" fill="url(#mg2)"/>
<rect x="429.63" y="300.23" width="1.88" height="37.93" fill="url(#mg2)"/>
<rect x="431.11" y="299.47" width="1.88" height="39.45" fill="url(#mg2)"/>
<rect x="432.59" y="298.72" width="1.88" height="40.97" fill="url(#mg2)"/>
<rect x="434.06" y="297.98" width="1.88" height="42.45" fill="url(#mg2)"/>
<rect x="435.54" y="297.27" width="1.88" height="43.85" fill="url(#mg2)"/>
<rect x="437.01" y="296.62" width="1.88" height="45.16" fill="url(#mg2)"/>
<rect x="438.49" y="296.02" width="1.88" height="46.36" fill="url(#mg2)"/>
<rect x="439.97" y="295.49" width="1.88" height="47.41" fill="url(#mg2)"/>
<rect x="441.44" y="295.04" width="1.88" height="48.32" fill="url(#mg2)"/>
<rect x="442.92" y="294.67" width="1.88" height="49.05" fill="url(#mg2)"/>
<rect x="444.4" y="294.39" width="1.88" height="49.62" fill="url(#mg2)"/>
<rect x="445.87" y="294.2" width="1.88" height="49.99" fill="url(#mg2)"/>
<rect x="447.35" y="294.11" width="1.88" height="50.18" fill="url(#mg2)"/>
<rect x="448.82" y="294.11" width="1.88" height="50.18" fill="url(#mg2)"/>
<rect x="450.3" y="294.2" width="1.88" height="49.99" fill="url(#mg2)"/>
<rect x="451.78" y="294.39" width="1.88" height="49.62" fill="url(#mg2)"/>
<rect x="453.25" y="294.67" width="1.88" height="49.05" fill="url(#mg2)"/>
<rect x="454.73" y="295.04" width="1.88" height="48.32" fill="url(#mg2)"/>
<rect x="456.21" y="295.49" width="1.88" height="47.41" fill="url(#mg2)"/>
<rect x="457.68" y="296.02" width="1.88" height="46.36" fill="url(#mg2)"/>
<rect x="459.16" y="296.62" width="1.88" height="45.16" fill="url(#mg2)"/>
<rect x="460.63" y="297.27" width="1.88" height="43.85" fill="url(#mg2)"/>
<rect x="462.11" y="297.98" width="1.88" height="42.45" fill="url(#mg2)"/>
<rect x="463.59" y="298.72" width="1.88" height="40.97" fill="url(#mg2)"/>
<rect x="465.06" y="299.47" width="1.88" height="39.45" fill="url(#mg2)"/>
<rect x="466.54" y="300.23" width="1.88" height="37.93" fill="url(#mg2)"/>
<rect x="468.02" y="300.98" width="1.88" height="36.45" fill="url(#mg2)"/>
<rect x="469.49" y="301.68" width="1.88" height="35.04" fill="url(#mg2)"/>
<rect x="470.97" y="302.32" width="1.88" height="33.75" fill="url(#mg2)"/>
<rect x="472.44" y="302.88" width="1.88" height="32.65" fill="url(#mg2)"/>
<rect x="473.92" y="303.32" width="1.88" height="31.76" fill="url(#mg2)"/>
<rect x="475.4" y="303.63" width="1.88" height="31.14" fill="url(#mg2)"/>
<rect x="476.87" y="303.79" width="1.88" height="30.83" fill="url(#mg2)"/>
<rect x="478.35" y="303.79" width="1.88" height="30.83" fill="url(#mg2)"/>
<rect x="479.83" y="303.63" width="1.88" height="31.14" fill="url(#mg2)"/>
<rect x="481.3" y="303.32" width="1.88" height="31.76" fill="url(#mg2)"/>
<rect x="482.78" y="302.88" width="1.88" height="32.65" fill="url(#mg2)"/>
<rect x="484.25" y="302.32" width="1.88" height="33.75" fill="url(#mg2)"/>
<rect x="485.73" y="301.68" width="1.88" height="35.04" fill="url(#mg2)"/>
<rect x="487.21" y="300.98" width="1.88" height="36.45" fill="url(#mg2)"/>
<rect x="488.68" y="300.23" width="1.88" height="37.93" fill="url(#mg2)"/>
<rect x="490.16" y="299.47" width="1.88" height="39.45" fill="url(#mg2)"/>
<rect x="491.64" y="298.72" width="1.88" height="40.97" fill="url(#mg2)"/>
<rect x="493.11" y="297.98" width="1.88" height="42.45" fill="url(#mg2)"/>
<rect x="494.59" y="297.27" width="1.88" height="43.85" fill="url(#mg2)"/>
<rect x="496.06" y="296.62" width="1.88" height="45.16" fill="url(#mg2)"/>
<rect x="497.54" y="296.02" width="1.88" height="46.36" fill="url(#mg2)"/>
<rect x="499.02" y="295.49" width="1.88" height="47.41" fill="url(#mg2)"/>
<rect x="500.49" y="295.04" width="1.88" height="48.32" fill="url(#mg2)"/>
<rect x="501.97" y="294.67" width="1.88" height="49.05" fill="url(#mg2)"/>
<rect x="503.45" y="294.39" width="1.88" height="49.62" fill="url(#mg2)"/>
<rect x="504.92" y="294.2" width="1.88" height="49.99" fill="url(#mg2)"/>
<rect x="506.4" y="294.11" width="1.88" height="50.18" fill="url(#mg2)"/>
<rect x="507.88" y="294.11" width="1.88" height="50.18" fill="url(#mg2)"/>
<rect x="509.35" y="294.2" width="1.88" height="49.99" fill="url(#mg2)"/>
<rect x="510.83" y="294.39" width="1.88" height="49.62" fill="url(#mg2)"/>
<rect x="512.3" y="294.67" width="1.88" height="49.05" fill="url(#mg2)"/>
<rect x="513.78" y="295.04" width="1.88" height="48.32" fill="url(#mg2)"/>
<rect x="515.26" y="295.49" width="1.88" height="47.41" fill="url(#mg2)"/>
<rect x="516.73" y="296.02" width="1.88" height="46.36" fill="url(#mg2)"/>
<rect x="518.21" y="296.62" width="1.88" height="45.16" fill="url(#mg2)"/>
<rect x="519.68" y="297.27" width="1.88" height="43.85" fill="url(#mg2)"/>
<rect x="521.16" y="297.98" width="1.88" height="42.45" fill="url(#mg2)"/>
<rect x="522.64" y="298.72" width="1.88" height="40.97" fill="url(#mg2)"/>
<rect x="524.11" y="299.47" width="1.88" height="39.45" fill="url(#mg2)"/>
<rect x="525.59" y="300.23" width="1.88" height="37.93" fill="url(#mg2)"/>
<rect x="527.07" y="300.98" width="1.88" height="36.45" fill="url(#mg2)"/>
<rect x="528.54" y="301.68" width="1.88" height="35.04" fill="url(#mg2)"/>
<rect x="530.02" y="302.32" width="1.88" height="33.75" fill="url(#mg2)"/>
<rect x="531.5" y="302.88" width="1.88" height="32.65" fill="url(#mg2)"/>
<rect x="532.97" y="303.32" width="1.88" height="31.76" fill="url(#mg2)"/>
<rect x="534.45" y="303.63" width="1.88" height="31.14" fill="url(#mg2)"/>
<rect x="535.92" y="303.79" width="1.88" height="30.83" fill="url(#mg2)"/>
</mask>
<filter id="b10" x="-100%" y="-100%" width="300%" height="300%" color-interpolation-filters="sRGB"><feGaussianBlur stdDeviation="10"/></filter>
<filter id="b5" x="-100%" y="-100%" width="300%" height="300%" color-interpolation-filters="sRGB"><feGaussianBlur stdDeviation="5"/></filter>
<filter id="b3_5" x="-100%" y="-100%" width="300%" height="300%" color-interpolation-filters="sRGB"><feGaussianBlur stdDeviation="3.5"/></filter>
<filter id="b2_2" x="-100%" y="-100%" width="300%" height="300%" color-interpolation-filters="sRGB"><feGaussianBlur stdDeviation="2.2"/></filter>
<filter id="b1_2" x="-100%" y="-100%" width="300%" height="300%" color-interpolation-filters="sRGB"><feGaussianBlur stdDeviation="1.2"/></filter>
<filter id="b1_1" x="-100%" y="-100%" width="300%" height="300%" color-interpolation-filters="sRGB"><feGaussianBlur stdDeviation="1.1"/></filter></defs>
<rect x="3.5" y="3.5" width="543" height="375.5" fill="none" stroke="#4a4a4a" stroke-width="1.2"/>
<text x="38.2" y="11.9" font-family="'Liberation Serif', serif" font-size="11" fill="#000" stroke="#000" stroke-width="0.15">A</text>
<text x="217.2" y="11.9" font-family="'Liberation Serif', serif" font-size="11" fill="#000" stroke="#000" stroke-width="0.15">B</text>
<text x="397" y="12.1" font-family="'Liberation Serif', serif" font-size="11" fill="#000" stroke="#000" stroke-width="0.15">C</text>
<text x="38.4" y="137.8" font-family="'Liberation Serif', serif" font-size="11" fill="#000" stroke="#000" stroke-width="0.15">D</text>
<text x="216.6" y="138" font-family="'Liberation Serif', serif" font-size="11" fill="#000" stroke="#000" stroke-width="0.15">E</text>
<text x="397.2" y="138.1" font-family="'Liberation Serif', serif" font-size="11" fill="#000" stroke="#000" stroke-width="0.15">F</text>
<text x="38.1" y="254.1" font-family="'Liberation Serif', serif" font-size="11" fill="#000" stroke="#000" stroke-width="0.15">G</text>
<text x="226.6" y="253.7" font-family="'Liberation Serif', serif" font-size="11" fill="#000" stroke="#000" stroke-width="0.15">H</text>
<text x="411" y="253.7" font-family="'Liberation Serif', serif" font-size="11" fill="#000" stroke="#000" stroke-width="0.15">I</text>
<rect x="70" y="12.5" width="119" height="103.5" fill="#1b8fc7" filter="url(#tex)"/>
<line x1="129.4" y1="16.5" x2="129.4" y2="72" stroke="#1a2a40" stroke-width="0.5"/>
<path d="M128.6 18 L129.4 15.6 L130.2 18 Z" fill="#1a2a40"/>
<circle cx="129.6" cy="50.7" r="7.38" fill="none" stroke="#a6461c" stroke-width="4.55"/>
<path d="M 125.57 51.61 A 3.8 3.8 0 1 1 132.97 50.04" fill="none" stroke="#0a0a0a" stroke-width="1.5"/>
<circle cx="129.45" cy="71.6" r="7.17" fill="none" stroke="#a6461c" stroke-width="4.65"/>
<path d="M 126.74 69.55 A 3.3 3.3 0 1 0 132.88 71.54" fill="none" stroke="#0a0a0a" stroke-width="1.55"/>
<circle cx="129.5" cy="94" r="7.38" fill="none" stroke="#a6461c" stroke-width="4.55"/>
<path d="M 125.56 94.88 A 3.7 3.7 0 1 1 132.77 93.35" fill="none" stroke="#0a0a0a" stroke-width="1.5"/>
<line x1="129.5" y1="72.1" x2="169" y2="72.1" stroke="#0a1424" stroke-width="0.55"/>
<path d="M167.5 71.4 L170 72.1 L167.5 72.8 Z" fill="#1a2a40"/>
<text x="113.6" y="54.2" font-family="'Liberation Serif', serif" font-size="11.5" fill="#e8c82e" stroke="#e8c82e" stroke-width="0.25">2</text>
<text x="113.9" y="76.5" font-family="'Liberation Serif', serif" font-size="11.5" fill="#e8c82e" stroke="#e8c82e" stroke-width="0.25">1</text>
<text x="113.6" y="99.2" font-family="'Liberation Serif', serif" font-size="11.5" fill="#e8c82e" stroke="#e8c82e" stroke-width="0.25">5</text>
<text x="131.8" y="79.8" font-family="'Liberation Serif', serif" font-size="5.4" fill="#050a14">0</text>
<text x="147.1" y="78.7" font-family="'Liberation Serif', serif" font-size="6.2" fill="#050a14">50</text>
<text x="165.8" y="78.2" font-family="'Liberation Serif', serif" font-size="3.9" fill="#050a14">X(mm)</text>
<text transform="translate(121.6,17.6) rotate(90)" font-family="'Liberation Serif', serif" font-size="3.6" fill="#10203a">Y(mm)</text>
<text x="124.5" y="63.2" font-family="'Liberation Serif', serif" font-size="3.2" fill="#10203a">25</text>
<rect x="242.5" y="52" width="123.9" height="21.4" fill="#1b8fc7" filter="url(#tex)"/>
<rect x="274" y="48.3" width="19.3" height="1.5" fill="#a8431a"/>
<rect x="274" y="48.3" width="19.3" height="0.5" fill="#5a2010"/>
<rect x="294.9" y="48.3" width="19.3" height="1.5" fill="#a8431a"/>
<rect x="294.9" y="48.3" width="19.3" height="0.5" fill="#5a2010"/>
<rect x="315.8" y="48.3" width="19.3" height="1.5" fill="#a8431a"/>
<rect x="315.8" y="48.3" width="19.3" height="0.5" fill="#5a2010"/>
<path d="M245 111 L245 117.5 L250 117.5" fill="none" stroke="#9a8a9a" stroke-width="0.6"/>
<svg x="410" y="15.8" width="111.4" height="106.6" viewBox="410 15.8 111.4 106.6" overflow="hidden">
<g filter="url(#jet)">
<rect x="405" y="10.8" width="121.4" height="116.6" fill="#000"/>
<rect x="400" y="0" width="140" height="140" rx="0" fill="rgb(8,8,8)" filter="url(#b1)"/>
<rect x="426" y="5" width="82" height="130" rx="0" fill="rgb(23,23,23)" filter="url(#b8)"/>
<ellipse cx="466" cy="70" rx="28" ry="60" fill="rgb(32,32,32)" filter="url(#b9)"/>
<ellipse cx="466" cy="68" rx="18" ry="42" fill="rgb(38,38,38)" filter="url(#b6)"/>
<rect x="457" y="8" width="17" height="30" rx="0" fill="rgb(43,43,43)" filter="url(#b4)"/>
<rect x="456" y="95" width="19" height="35" rx="0" fill="rgb(41,41,41)" filter="url(#b4)"/>
<ellipse cx="466" cy="68" rx="30" ry="34" fill="rgb(45,45,45)" filter="url(#b6)"/>
<ellipse cx="465.5" cy="38.5" rx="14" ry="13" fill="rgb(48,48,48)" filter="url(#b4)"/>
<ellipse cx="465.5" cy="100.5" rx="14" ry="13" fill="rgb(46,46,46)" filter="url(#b4)"/>
<ellipse cx="465.5" cy="38.5" rx="10" ry="10.5" fill="rgb(59,59,59)" filter="url(#b2_5)"/>
<ellipse cx="465.5" cy="38.8" rx="6.8" ry="7.4" fill="rgb(87,87,87)" filter="url(#b1_6)"/>
<ellipse cx="465.4" cy="38.5" rx="4.2" ry="4.6" fill="rgb(125,125,125)" filter="url(#b1_3)"/>
<ellipse cx="465.5" cy="100.5" rx="11" ry="11" fill="rgb(54,54,54)" filter="url(#b3)"/>
<ellipse cx="465.5" cy="100.5" rx="6.5" ry="7" fill="rgb(74,74,74)" filter="url(#b2)"/>
<ellipse cx="465.3" cy="100.2" rx="3.4" ry="3.8" fill="rgb(99,99,99)" filter="url(#b1_5)"/>
<rect x="445.5" y="46.5" width="40" height="42" rx="6" fill="rgb(54,54,54)" filter="url(#b2_5)"/>
<rect x="448.5" y="49.5" width="34" height="17.5" rx="4" fill="rgb(84,84,84)" filter="url(#b1_3)"/>
<rect x="449" y="68.5" width="33.5" height="19" rx="4" fill="rgb(84,84,84)" filter="url(#b1_3)"/>
<ellipse cx="449" cy="51" rx="4" ry="3" fill="rgb(76,76,76)" filter="url(#b1_5)"/>
<ellipse cx="483" cy="57" rx="3" ry="4" fill="rgb(76,76,76)" filter="url(#b1_5)"/>
<path d="M452.62 64.5 L453.72 68.48 L454.82 64.5 Z" fill="rgb(102,102,102)" filter="url(#b0_5)"/>
<path d="M456.3 64.5 L457.4 68.88 L458.5 64.5 Z" fill="rgb(102,102,102)" filter="url(#b0_5)"/>
<path d="M459.74 64.5 L460.84 68.84 L461.94 64.5 Z" fill="rgb(102,102,102)" filter="url(#b0_5)"/>
<path d="M462.53 64.5 L463.63 67.93 L464.73 64.5 Z" fill="rgb(102,102,102)" filter="url(#b0_5)"/>
<path d="M466.94 64.5 L468.04 68.3 L469.14 64.5 Z" fill="rgb(102,102,102)" filter="url(#b0_5)"/>
<path d="M470.4 64.5 L471.5 67.23 L472.6 64.5 Z" fill="rgb(102,102,102)" filter="url(#b0_5)"/>
<path d="M473.47 64.5 L474.57 67.49 L475.67 64.5 Z" fill="rgb(102,102,102)" filter="url(#b0_5)"/>
<path d="M477.04 64.5 L478.14 68.15 L479.24 64.5 Z" fill="rgb(102,102,102)" filter="url(#b0_5)"/>
<path d="M453.51 72 L454.61 69.67 L455.71 72 Z" fill="rgb(97,97,97)" filter="url(#b0_5)"/>
<path d="M457.48 72 L458.58 68.63 L459.68 72 Z" fill="rgb(97,97,97)" filter="url(#b0_5)"/>
<path d="M461.67 72 L462.77 69.76 L463.87 72 Z" fill="rgb(97,97,97)" filter="url(#b0_5)"/>
<path d="M465.4 72 L466.5 69.79 L467.6 72 Z" fill="rgb(97,97,97)" filter="url(#b0_5)"/>
<path d="M468.92 72 L470.02 69.81 L471.12 72 Z" fill="rgb(97,97,97)" filter="url(#b0_5)"/>
<path d="M472 72 L473.1 68.69 L474.2 72 Z" fill="rgb(97,97,97)" filter="url(#b0_5)"/>
<path d="M475.91 72 L477.01 69.68 L478.11 72 Z" fill="rgb(97,97,97)" filter="url(#b0_5)"/>
<ellipse cx="455.48" cy="49.87" rx="0.9" ry="0.9" fill="rgb(102,102,102)" filter="url(#b0_5)"/>
<ellipse cx="458.99" cy="49.96" rx="0.9" ry="0.9" fill="rgb(102,102,102)" filter="url(#b0_5)"/>
<ellipse cx="463.44" cy="49.68" rx="0.9" ry="0.9" fill="rgb(102,102,102)" filter="url(#b0_5)"/>
<ellipse cx="467.3" cy="49.94" rx="0.9" ry="0.9" fill="rgb(102,102,102)" filter="url(#b0_5)"/>
<ellipse cx="471.99" cy="49.97" rx="0.9" ry="0.9" fill="rgb(102,102,102)" filter="url(#b0_5)"/>
<ellipse cx="476.39" cy="49.3" rx="0.9" ry="0.9" fill="rgb(102,102,102)" filter="url(#b0_5)"/>
<rect x="451.2" y="52" width="28.6" height="13" rx="3.5" fill="rgb(128,128,128)" filter="url(#b1)"/>
<rect x="451.8" y="53" width="27.4" height="11.2" rx="3" fill="rgb(153,153,153)" filter="url(#b0_8)"/>
<path d="M453 55.6 L478.5 55.6 Q479.5 61 475 62.8 Q466 64.2 457 62.8 Q452.5 61.5 453 55.6 Z" fill="rgb(189,189,189)" filter="url(#b0_7)"/>
<path d="M454.3 56 L477.3 56 Q477.8 60.3 473.5 61.6 Q466 62.7 458.5 61.6 Q454.2 60.5 454.3 56 Z" fill="rgb(224,224,224)" filter="url(#b0_5)"/>
<ellipse cx="466" cy="58.3" rx="8" ry="1.6" fill="rgb(242,242,242)" filter="url(#b0_6)"/>
<rect x="452.3" y="71.5" width="28" height="13.5" rx="3.5" fill="rgb(128,128,128)" filter="url(#b1)"/>
<rect x="453" y="72.6" width="26.5" height="11.4" rx="3" fill="rgb(153,153,153)" filter="url(#b0_9)"/>
<ellipse cx="471" cy="78.4" rx="10.5" ry="4.6" fill="rgb(184,184,184)" filter="url(#b0_8)" transform="rotate(8 471 78.4)"/>
<ellipse cx="471.3" cy="78.5" rx="8" ry="3" fill="rgb(222,222,222)" filter="url(#b0_6)" transform="rotate(8 471.3 78.5)"/>
<ellipse cx="473" cy="79" rx="4" ry="1.4" fill="rgb(240,240,240)" filter="url(#b0_5)" transform="rotate(8 473 79)"/>
</g></svg>
<g filter="url(#jet)"><rect x="533.6" y="27.2" width="1.8" height="95.2" fill="url(#cbar)"/></g>
<text x="528.3" y="22.6" font-family="'DejaVu Sans', sans-serif" font-size="6.4" fill="#111" stroke="#111" stroke-width="0.1">V/m</text>
<text x="535.8" y="40" font-family="'DejaVu Sans', sans-serif" font-size="9.4" fill="#111">7</text>
<text x="535.8" y="52.27" font-family="'DejaVu Sans', sans-serif" font-size="9.4" fill="#111">6</text>
<text x="535.8" y="64.54" font-family="'DejaVu Sans', sans-serif" font-size="9.4" fill="#111">5</text>
<text x="535.8" y="76.81" font-family="'DejaVu Sans', sans-serif" font-size="9.4" fill="#111">4</text>
<text x="535.8" y="89.08" font-family="'DejaVu Sans', sans-serif" font-size="9.4" fill="#111">3</text>
<text x="535.8" y="101.35" font-family="'DejaVu Sans', sans-serif" font-size="9.4" fill="#111">2</text>
<text x="535.8" y="113.62" font-family="'DejaVu Sans', sans-serif" font-size="9.4" fill="#111">1</text>
<line x1="406.7" y1="51.6" x2="466.3" y2="51.6" stroke="#000" stroke-width="0.6"/>
<path d="M405.2 51.6 L407.8 50.7 L407.8 52.5 Z" fill="#000"/>
<circle cx="466.3" cy="51.6" r="1.1" fill="#000"/>
<line x1="406.7" y1="57.8" x2="466" y2="57.8" stroke="#000" stroke-width="0.6"/>
<path d="M405.2 57.8 L407.8 56.9 L407.8 58.7 Z" fill="#000"/>
<circle cx="466" cy="57.8" r="1.1" fill="#000"/>
<line x1="406.7" y1="78.4" x2="467" y2="78.4" stroke="#000" stroke-width="0.6"/>
<path d="M405.2 78.4 L407.8 77.5 L407.8 79.3 Z" fill="#000"/>
<circle cx="467" cy="78.4" r="1.1" fill="#000"/>
<line x1="480.4" y1="57.8" x2="523" y2="57.8" stroke="#000" stroke-width="0.6"/>
<path d="M525.2 57.8 L522.6 56.9 L522.6 58.7 Z" fill="#000"/>
<circle cx="480.4" cy="57.8" r="1.1" fill="#000"/>
<text x="398" y="53.96" font-family="'Liberation Sans', 'WenQuanYi Zen Hei', sans-serif" font-size="7.2" fill="#6a6a6a" stroke="#7a7a7a" stroke-width="0.2" text-anchor="middle">③</text>
<text x="398" y="60.76" font-family="'Liberation Sans', 'WenQuanYi Zen Hei', sans-serif" font-size="7.2" fill="#6a6a6a" stroke="#7a7a7a" stroke-width="0.2" text-anchor="middle">①</text>
<text x="398" y="80.36" font-family="'Liberation Sans', 'WenQuanYi Zen Hei', sans-serif" font-size="7.2" fill="#6a6a6a" stroke="#7a7a7a" stroke-width="0.2" text-anchor="middle">④</text>
<text x="529" y="61.66" font-family="'Liberation Sans', 'WenQuanYi Zen Hei', sans-serif" font-size="7.2" fill="#6a6a6a" stroke="#7a7a7a" stroke-width="0.2" text-anchor="middle">②</text>
<path d="M409.2 115 L409.2 123.4 L418 123.4" fill="none" stroke="#8a8a80" stroke-width="1"/>
<circle cx="409.4" cy="123.4" r="0.7" fill="#222"/>
<text x="414" y="126.3" font-family="'Liberation Sans', sans-serif" font-size="2.6" fill="#444">10mm</text>
<rect x="74.6" y="135.4" width="117.6" height="94.9" fill="#fff" stroke="#d4d4d4" stroke-width="0.8"/>
<svg x="74.6" y="135.4" width="117.6" height="94.9" viewBox="74.6 135.4 117.6 94.9" overflow="hidden">
<polyline points="74.6,212.48 74.84,226.83 75.09,228.92 75.33,218.17 75.58,197.59 75.82,172.94 76.07,151.1 76.31,138.16 76.56,137.73 76.8,149.88 77.05,171.21 77.29,195.72 77.54,216.59 77.78,227.99 78.03,226.8 78.27,213.39 78.52,191.56 78.77,167.42 79.01,147.71 79.25,137.9 79.5,140.65 79.74,155.13 79.99,177.23 80.23,200.77 80.48,219.17 80.72,227.37 80.97,223.16 81.21,207.82 81.46,185.69 81.7,162.97 81.95,145.98 82.19,139.38 82.44,144.9 82.68,160.89 82.93,182.8 83.17,204.52 83.42,220.01 83.66,225.08 83.91,218.42 84.16,202.03 84.4,180.56 84.64,160 84.89,146.03 85.13,142.41 85.38,150.01 85.62,166.56 85.87,187.37 86.11,206.65 86.36,219.1 86.6,221.41 86.85,213.1 87.09,196.63 87.34,176.66 87.58,158.75 87.83,147.76 88.07,146.6 88.32,155.39 88.56,171.55 88.81,190.51 89.05,207.02 89.3,216.62 89.54,216.84 89.79,207.8 90.03,192.17 90.28,174.35 90.52,159.24 90.77,150.89 91.01,151.41 91.26,160.45 91.5,175.36 91.75,191.95 91.99,205.7 92.24,212.95 92.48,211.93 92.73,203.11 92.97,189.09 93.22,173.78 93.47,161.32 93.71,154.97 93.95,156.27 94.2,164.63 94.44,177.63 94.69,191.66 94.94,202.96 95.18,208.6 95.42,207.28 95.67,199.55 95.91,187.67 96.16,174.9 96.41,164.62 96.65,159.45 96.89,160.57 97.14,167.48 97.38,178.18 97.63,189.78 97.88,199.22 98.12,204.16 98.36,203.46 98.61,197.5 98.85,187.98 99.1,177.46 99.34,168.64 99.59,163.71 99.83,163.79 100.08,168.69 100.32,177.04 100.57,186.64 100.81,195.05 101.06,200.22 101.3,200.94 101.55,197.15 101.79,189.9 102.04,181.05 102.28,172.81 102.53,167.19 102.77,165.53 103.02,168.18 103.26,174.44 103.51,182.74 103.75,191.04 104,197.32 104.24,200.02 104.49,198.49 104.73,193.09 104.98,185.11 105.22,176.52 105.47,169.41 105.72,165.59 105.96,166.06 106.2,170.78 106.45,178.66 106.69,187.78 106.94,195.86 107.19,200.83 107.43,201.32 107.67,197.08 107.92,189.07 108.16,179.22 108.41,170.04 108.66,163.95 108.9,162.63 109.14,166.6 109.39,174.99 109.63,185.74 109.88,196.09 110.12,203.26 110.37,205.24 110.61,201.31 110.86,192.31 111.1,180.5 111.35,168.95 111.59,160.79 111.84,158.35 112.08,162.48 112.33,172.29 112.57,185.28 112.82,198.03 113.06,207.04 113.31,209.73 113.55,205.16 113.8,194.36 114.04,180.1 114.29,166.2 114.53,156.5 114.78,153.8 115.02,159.03 115.27,170.99 115.51,186.55 115.76,201.51 116,211.71 116.25,214.19 116.49,208.08 116.74,194.84 116.98,177.97 117.23,162.08 117.47,151.6 117.72,149.57 117.97,156.76 118.21,171.37 118.45,189.5 118.7,206.17 118.94,216.71 119.19,218.04 119.44,209.62 119.68,193.58 119.92,174.27 120.17,157.01 120.41,146.65 120.66,146.23 120.91,156.03 121.15,173.49 121.39,193.87 121.64,211.51 121.88,221.44 122.13,220.75 122.38,209.48 122.62,190.62 122.86,169.33 123.11,151.54 123.35,142.28 123.6,144.25 123.84,157.05 124.09,177.23 124.33,199.25 124.58,216.95 124.82,225.33 125.07,221.93 125.31,207.58 125.56,186.19 125.81,163.65 126.05,146.29 126.29,139 126.54,143.93 126.78,159.8 127.03,182.26 127.28,205.08 127.52,221.87 127.76,227.89 128.01,221.36 128.25,204.03 128.5,180.69 128.75,157.81 128.99,141.83 129.23,137.23 129.48,145.39 129.72,164.07 129.97,188.1 130.22,210.78 130.46,225.75 130.7,228.8 130.95,219.04 131.19,199.14 131.44,174.66 131.69,152.41 131.93,138.64 132.17,137.21 132.42,148.53 132.66,169.47 132.91,194.17 133.16,215.74 133.4,228.16 133.64,227.94 133.89,215.15 134.13,193.37 134.38,168.7 134.62,148.01 134.87,137.08 135.11,138.95 135.36,153.06 135.6,175.46 135.85,199.87 136.09,219.48 136.34,228.83 136.58,225.36 136.83,210.08 137.07,187.3 137.32,163.39 137.56,145.03 137.81,137.3 138.06,142.29 138.3,158.54 138.54,181.47 138.79,204.64 139.03,221.63 139.28,227.74 139.52,221.35 139.77,204.34 140.01,181.52 140.26,159.27 140.5,143.76 140.75,139.24 141,146.86 141.24,164.4 141.49,186.88 141.73,208.03 141.97,222.01 142.22,225.01 142.46,216.34 142.71,198.52 142.95,176.6 143.2,156.69 143.44,144.26 143.69,142.66 143.94,152.17 144.18,170.03 144.43,191.18 144.67,209.75 144.91,220.66 145.16,221.01 145.4,210.88 145.65,193.22 145.89,173.01 146.14,155.85 146.38,146.4 146.63,147.12 146.88,157.63 147.12,174.86 147.37,193.98 147.61,209.71 147.85,217.81 148.1,216.22 148.34,205.58 148.59,188.97 148.83,171.06 149.08,156.75 149.32,149.86 149.57,152.09 149.81,162.63 150.06,178.42 150.31,195.06 150.55,208.01 150.8,213.86 151.04,211.22 151.28,201.01 151.53,186.19 151.77,170.86 152.02,159.17 152.26,154.15 152.51,156.97 152.75,166.64 153,180.38 153.25,194.4 153.49,204.97 153.74,209.36 153.98,206.61 154.22,197.67 154.47,185.09 154.71,172.32 154.96,162.72 155.2,158.71 155.45,161.17 155.69,169.23 155.94,180.6 156.19,192.22 156.43,201.05 156.68,204.9 156.92,202.95 157.16,195.89 157.41,185.72 157.65,175.14 157.9,166.87 158.14,162.93 158.39,164.19 158.63,170.15 158.88,179.17 159.12,188.87 159.37,196.82 159.62,201.06 159.86,200.66 160.1,195.84 160.35,187.9 160.59,178.88 160.84,171.03 161.08,166.25 161.33,165.67 161.57,169.35 161.82,176.34 162.06,184.88 162.31,192.88 162.56,198.37 162.8,200.03 163.04,197.45 163.29,191.26 163.53,182.97 163.78,174.61 164.02,168.23 164.27,165.44 164.51,166.99 164.76,172.56 165,180.84 165.25,189.79 165.5,197.19 165.74,201.11 165.98,200.47 166.23,195.31 166.47,186.82 166.72,177.08 166.96,168.57 167.21,163.54 167.45,163.41 167.7,168.39 167.94,177.33 168.19,188.03 168.44,197.71 168.68,203.77 168.93,204.48 169.17,199.46 169.41,189.85 169.66,178.06 169.9,167.19 170.15,160.19 170.39,159.11 170.64,164.41 170.88,174.9 171.13,187.89 171.38,199.92 171.62,207.7 171.87,208.94 172.11,203.11 172.35,191.58 172.6,177.33 172.84,164.2 173.09,155.82 173.33,154.65 173.58,161.22 173.82,173.94 174.07,189.48 174.31,203.61 174.56,212.39 174.81,213.25 175.05,205.73 175.29,191.7 175.54,174.9 175.78,159.91 176.03,150.94 176.28,150.64 176.52,159.29 176.76,174.69 177.01,192.71 177.25,208.38 177.5,217.29 177.75,216.81 177.99,206.88 178.24,190.08 178.48,170.95 178.72,154.79 178.97,146.17 179.22,147.64 179.46,158.97 179.7,177.18 179.95,197.28 180.19,213.7 180.44,221.79 180.69,219.14 180.93,206.33 181.18,186.78 181.42,165.86 181.66,149.41 181.91,142.09 182.16,146.08 182.4,160.41 182.64,181.21 182.89,202.75 183.13,218.99 183.38,225.33 183.62,219.88 183.87,204.02 184.12,182.09 184.36,160.16 184.6,144.37 184.85,139.21 185.09,146.22 185.34,163.55 185.58,186.44 185.83,208.54 186.07,223.64 186.32,227.46 186.56,218.85 186.81,200.12 187.06,176.45 187.3,154.43 187.54,140.24 187.79,137.9 188.03,148.13 188.28,168.13 188.52,192.36 188.77,214.05 189.01,227.13 189.26,227.89 189.5,216.09 189.75,194.97 190,170.41 190.24,149.28 190.48,137.49 190.73,138.36 190.97,151.67 191.22,173.73 191.46,198.37 191.71,218.72 191.95,229.08 192.2,226.55" fill="none" stroke="#30f030" stroke-width="0.6" stroke-opacity="0.9" mask="url(#m1)"/>
<polyline points="74.6,204.2 74.84,214.62 75.09,215.94 75.33,207.78 75.58,192.5 75.82,174.49 76.07,158.91 76.31,150.24 76.56,150.95 76.8,160.82 77.05,176.98 77.29,194.78 77.54,209.12 77.78,215.89 78.03,213.19 78.27,201.82 78.52,185.1 78.77,167.83 79.01,154.97 79.25,150.19 79.5,154.79 79.74,167.41 79.99,184.37 80.23,200.79 80.48,211.96 80.72,214.73 80.97,208.38 81.21,194.79 81.46,177.92 81.7,162.64 81.95,153.3 82.19,152.52 82.44,160.43 82.68,174.68 82.93,191.12 83.17,205.02 83.42,212.42 83.66,211.3 83.91,202.07 84.16,187.48 84.4,171.78 84.64,159.48 84.89,154.05 85.13,156.95 85.38,167.22 85.62,181.81 85.87,196.48 86.11,207.02 86.36,210.49 86.6,206.01 86.85,195 87.09,180.73 87.34,167.36 87.58,158.68 87.83,157.11 88.07,162.95 88.32,174.37 88.56,187.99 88.81,199.86 89.05,206.61 89.3,206.41 89.54,199.49 89.79,187.98 90.03,175.3 90.28,165.12 90.52,160.29 90.77,162.07 91.01,169.78 91.26,181.04 91.5,192.52 91.75,200.91 91.99,203.87 92.24,200.72 92.48,192.54 92.73,181.84 92.97,171.8 93.22,165.28 93.47,164.06 93.71,168.32 93.95,176.64 94.2,186.47 94.44,194.91 94.69,199.55 94.94,199.18 95.18,194.11 95.42,185.98 95.67,177.29 95.91,170.59 96.16,167.78 96.41,169.51 96.65,175.09 96.89,182.71 97.14,190.03 97.38,194.9 97.63,195.99 97.88,193.14 98.12,187.39 98.36,180.59 98.61,174.83 98.85,171.8 99.1,172.28 99.34,175.95 99.59,181.55 99.83,187.25 100.08,191.31 100.32,192.54 100.57,190.7 100.81,186.51 101.06,181.4 101.3,177.02 101.55,174.75 101.79,175.23 102.04,178.19 102.28,182.57 102.53,186.9 102.77,189.74 103.02,190.19 103.26,188.15 103.51,184.36 103.75,180.11 104,176.86 104.24,175.7 104.49,177.04 104.73,180.44 104.98,184.76 105.22,188.54 105.47,190.48 105.72,189.86 105.96,186.81 106.2,182.29 106.45,177.76 106.69,174.75 106.94,174.34 107.19,176.78 107.43,181.4 107.67,186.77 107.92,191.18 108.16,193.12 108.41,191.85 108.66,187.61 108.9,181.61 109.14,175.68 109.39,171.73 109.63,171.1 109.88,174.17 110.12,180.14 110.37,187.29 110.61,193.44 110.86,196.63 111.1,195.72 111.35,190.82 111.59,183.24 111.84,175.21 112.08,169.16 112.33,167.04 112.57,169.64 112.82,176.38 113.06,185.38 113.31,193.99 113.55,199.61 113.8,200.41 114.04,195.99 114.29,187.48 114.53,177.28 114.78,168.41 115.02,163.54 115.27,164.28 115.51,170.58 115.76,180.75 116,191.88 116.25,200.69 116.49,204.5 116.74,202.04 116.98,193.86 117.23,182.21 117.47,170.44 117.72,162.02 117.97,159.53 118.21,163.84 118.45,173.85 118.7,186.77 118.94,198.86 119.19,206.56 119.44,207.51 119.68,201.27 119.92,189.53 120.17,175.61 120.41,163.52 120.66,156.84 120.91,157.64 121.15,165.81 121.39,179.11 121.64,193.76 121.88,205.51 122.13,210.89 122.38,208.22 122.62,198.15 122.86,183.49 123.11,168.44 123.35,157.35 123.6,153.51 123.84,158.14 124.09,170.01 124.33,185.77 124.58,200.9 124.82,211.02 125.07,213.12 125.31,206.51 125.56,192.99 125.81,176.41 126.05,161.53 126.29,152.67 126.54,152.45 126.78,161.02 127.03,175.99 127.28,193.08 127.52,207.38 127.76,214.74 128.01,212.97 128.25,202.53 128.5,186.36 128.75,169.08 128.99,155.68 129.23,150.03 129.48,153.81 129.72,165.99 129.97,183.09 130.22,200.21 130.46,212.43 130.7,216.21 130.95,210.42 131.19,196.71 131.44,178.99 131.69,162.34 131.93,151.56 132.17,149.76 132.42,157.47 132.66,172.5 132.91,190.52 133.16,206.36 133.4,215.48 133.64,215.26 133.89,205.75 134.13,189.69 134.38,171.7 134.62,156.95 134.87,149.66 135.11,151.91 135.36,163.04 135.6,179.83 135.85,197.45 136.09,210.84 136.34,216.19 136.58,211.98 136.83,199.46 137.07,182.26 137.32,165.32 137.56,153.51 137.81,150.18 138.06,156.23 138.3,169.87 138.54,187.16 138.79,203.1 139.03,213.15 139.28,214.47 139.52,206.74 139.77,192.27 140.01,175.23 140.26,160.55 140.5,152.39 140.75,153.04 141,162.22 141.24,177.22 141.49,193.67 141.73,206.86 141.97,213.05 142.22,210.54 142.46,200.16 142.71,184.98 142.95,169.41 143.2,157.9 143.44,153.7 143.69,157.91 143.94,169.2 144.18,184.23 144.43,198.65 144.67,208.33 144.91,210.58 145.16,204.88 145.4,192.99 145.65,178.44 145.89,165.42 146.14,157.65 146.38,157.25 146.63,164.2 146.88,176.35 147.12,190.13 147.37,201.54 147.61,207.37 147.85,206.07 148.1,198.16 148.34,186.07 148.59,173.36 148.83,163.69 149.08,159.78 149.32,162.59 149.57,171.15 149.81,182.85 150.06,194.24 150.31,202.06 150.55,204.15 150.8,200.07 151.04,191.18 151.28,180.18 151.53,170.31 151.77,164.38 152.02,163.98 152.26,169.05 152.51,177.94 152.75,187.95 153,196.14 153.25,200.2 153.49,199.09 153.74,193.34 153.98,184.78 154.22,176.02 154.47,169.62 154.71,167.36 154.96,169.73 155.2,175.86 155.45,183.77 155.69,191.07 155.94,195.62 156.19,196.21 156.43,192.84 156.68,186.68 156.92,179.7 157.16,174.03 157.41,171.31 157.65,172.22 157.9,176.3 158.14,182.17 158.39,187.94 158.63,191.86 158.88,192.81 159.12,190.63 159.37,186.16 159.62,180.91 159.86,176.56 160.1,174.45 160.35,175.16 160.59,178.34 160.84,182.87 161.08,187.21 161.33,189.96 161.57,190.25 161.82,188.06 162.06,184.16 162.31,179.91 162.56,176.74 162.8,175.72 163.04,177.19 163.29,180.66 163.53,184.95 163.78,188.61 164.02,190.37 164.27,189.59 164.51,186.47 164.76,181.98 165,177.62 165.25,174.85 165.5,174.68 165.74,177.28 165.98,181.91 166.23,187.12 166.47,191.22 166.72,192.82 166.96,191.26 167.21,186.88 167.45,180.97 167.7,175.34 167.94,171.82 168.19,171.63 168.44,175.01 168.68,181.06 168.93,188.01 169.17,193.73 169.41,196.36 169.66,194.95 169.9,189.73 170.15,182.16 170.39,174.45 170.64,168.97 170.88,167.5 171.13,170.67 171.38,177.69 171.62,186.59 171.87,194.75 172.11,199.66 172.35,199.71 172.6,194.71 172.84,185.97 173.09,175.98 173.33,167.7 173.58,163.66 173.82,165.23 174.07,172.11 174.31,182.44 174.56,193.23 174.81,201.3 175.05,204.17 175.29,200.83 175.54,192.09 175.78,180.38 176.03,169.08 176.28,161.55 176.52,160.09 176.76,165.31 177.01,175.83 177.25,188.7 177.5,200.17 177.75,206.86 177.99,206.68 178.24,199.54 178.48,187.37 178.72,173.62 178.97,162.3 179.22,156.75 179.46,158.73 179.7,167.79 179.95,181.43 180.19,195.75 180.44,206.6 180.69,210.74 180.93,206.85 181.18,195.94 181.42,181.06 181.66,166.48 181.91,156.44 182.16,153.92 182.4,159.78 182.64,172.42 182.89,188.27 183.13,202.78 183.38,211.72 183.62,212.43 183.87,204.61 184.12,190.41 184.36,173.88 184.6,159.77 184.85,152.2 185.09,153.42 185.34,163.16 185.58,178.7 185.83,195.59 186.07,208.97 186.32,214.94 186.56,211.72 186.81,200.17 187.06,183.56 187.3,166.64 187.54,154.29 187.79,150.1 188.03,155.34 188.28,168.53 188.52,185.93 188.77,202.55 189.01,213.58 189.26,215.85 189.5,208.65 189.75,194.02 190,176.14 190.24,160.16 190.48,150.67 190.73,150.41 190.97,159.49 191.22,175.3 191.46,193.31 191.71,208.35 191.95,216.1 192.2,214.33" fill="none" stroke="#2238d0" stroke-width="0.6" stroke-opacity="1" mask="url(#m3)"/>
</svg>
<text x="73.8" y="147.05" font-family="'Liberation Sans', sans-serif" font-size="4.6" fill="#333" text-anchor="end">5</text>
<text x="73.8" y="184.5" font-family="'Liberation Sans', sans-serif" font-size="4.6" fill="#333" text-anchor="end">0</text>
<text x="73.8" y="221.95" font-family="'Liberation Sans', sans-serif" font-size="4.6" fill="#333" text-anchor="end">-5</text>
<text x="75.1" y="235.3" font-family="'Liberation Sans', sans-serif" font-size="4.6" fill="#333" text-anchor="middle">0</text>
<text x="133.4" y="235.7" font-family="'Liberation Sans', sans-serif" font-size="4.6" fill="#333" text-anchor="middle">20</text>
<text x="133.4" y="238.8" font-family="'Liberation Sans', sans-serif" font-size="4.8" fill="#333" text-anchor="middle">Time (ms)</text>
<text transform="translate(56.5,182.2) rotate(-90)" font-family="'Liberation Sans', sans-serif" font-size="4.9" fill="#222" text-anchor="middle">Electric field, x component (V/m)</text>
<rect x="180.6" y="137" width="11.2" height="11.2" fill="#fff" stroke="#c8c8c8" stroke-width="0.5"/>
<line x1="181.6" y1="140" x2="186.8" y2="140" stroke="#30f030" stroke-width="0.8" stroke-opacity="0.8"/>
<text x="189" y="141.56" font-family="'Liberation Sans', 'WenQuanYi Zen Hei', sans-serif" font-size="4.4" fill="#999" stroke="#9a9a9a" stroke-width="0.3" text-anchor="middle">①</text>
<line x1="181.6" y1="145.1" x2="186.8" y2="145.1" stroke="#5050e0" stroke-width="0.8" stroke-opacity="0.8"/>
<text x="189" y="146.66" font-family="'Liberation Sans', 'WenQuanYi Zen Hei', sans-serif" font-size="4.4" fill="#999" stroke="#9a9a9a" stroke-width="0.3" text-anchor="middle">②</text>
<rect x="252.5" y="135.4" width="118" height="94.9" fill="#fff" stroke="#d4d4d4" stroke-width="0.8"/>
<svg x="252.5" y="135.4" width="118" height="94.9" viewBox="252.5 135.4 118 94.9" overflow="hidden">
<polyline points="252.5,225.88 252.75,210.43 252.99,187.31 253.24,162.97 253.48,144.21 253.73,136.26 253.97,141.34 254.22,157.99 254.47,181.55 254.71,205.43 254.96,222.97 255.2,229.29 255.45,222.67 255.7,205 255.94,181.24 256.19,158.05 256.43,141.87 256.68,137.19 256.93,145.25 257.17,163.74 257.42,187.44 257.66,209.74 257.91,224.44 258.15,227.5 258.4,218.16 258.65,199.09 258.89,175.67 259.14,154.44 259.38,141.29 259.63,139.78 259.88,150.25 260.12,169.66 260.37,192.56 260.61,212.56 260.86,224.14 261.1,224.19 261.35,212.81 261.6,193.3 261.84,171.13 262.09,152.48 262.33,142.46 262.58,143.73 262.82,155.79 263.07,175.17 263.32,196.41 263.56,213.64 263.81,222.15 264.05,219.74 264.3,207.22 264.55,188.22 264.79,168.05 265.04,152.29 265.28,145.19 265.53,148.55 265.77,161.28 266.02,179.7 266.27,198.66 266.51,212.97 266.76,218.78 267,214.68 267.25,201.99 267.5,184.34 267.74,166.67 267.99,153.78 268.23,149.09 268.48,153.69 268.73,166.12 268.97,182.83 269.22,199.17 269.46,210.72 269.71,214.48 269.95,209.61 270.2,197.66 270.45,182.03 270.69,167.03 270.94,156.68 271.18,153.65 271.43,158.54 271.68,169.82 271.92,184.28 272.17,197.98 272.41,207.27 272.66,209.81 272.9,205.13 273.15,194.69 273.4,181.44 273.64,168.98 273.89,160.56 274.13,158.28 274.38,162.53 274.62,171.99 274.87,184 275.12,195.35 275.36,203.11 275.61,205.37 275.85,201.75 276.1,193.37 276.35,182.55 276.59,172.17 276.84,164.85 277.08,162.38 277.33,165.2 277.57,172.45 277.82,182.13 278.07,191.73 278.31,198.83 278.56,201.74 278.8,199.85 279.05,193.77 279.3,185.11 279.54,176.1 279.79,168.96 280.03,165.42 280.28,166.26 280.52,171.21 280.77,178.99 281.02,187.64 281.26,195.04 281.51,199.39 281.75,199.66 282,195.78 282.25,188.71 282.49,180.19 282.74,172.31 282.98,167 283.23,165.6 283.48,168.51 283.72,175.06 283.97,183.69 284.21,192.26 284.46,198.64 284.7,201.16 284.95,199.08 285.2,192.82 285.44,183.85 285.69,174.4 285.93,166.89 286.18,163.31 286.43,164.73 286.67,170.93 286.92,180.46 287.16,190.93 287.41,199.61 287.65,204.15 287.9,203.2 288.15,196.82 288.39,186.53 288.64,174.92 288.88,165.08 289.13,159.7 289.38,160.4 289.62,167.19 289.87,178.45 290.11,191.27 290.36,202.22 290.6,208.26 290.85,207.58 291.1,200.15 291.34,187.78 291.59,173.71 291.83,161.74 292.08,155.23 292.32,156.12 292.57,164.41 292.82,178.01 293.06,193.33 293.31,206.19 293.55,212.96 293.8,211.61 294.05,202.29 294.29,187.37 294.54,170.84 294.78,157.25 295.03,150.45 295.27,152.49 295.52,163.01 295.77,179.3 296.01,196.95 296.26,211.08 296.5,217.67 296.75,214.73 297,202.87 297.24,185.21 297.49,166.56 297.73,152.11 297.98,145.96 298.23,150 298.47,163.29 298.72,182.29 298.96,201.78 299.21,216.33 299.45,221.79 299.7,216.47 299.95,201.7 300.19,181.46 300.44,161.31 300.68,146.9 300.93,142.35 301.18,149.07 301.42,165.33 301.67,186.72 301.91,207.31 302.16,221.34 302.4,224.78 302.65,216.55 302.9,198.82 303.14,176.44 303.39,155.63 303.63,142.23 303.88,140.07 304.12,149.87 304.37,169 304.62,192.19 304.86,212.98 305.11,225.53 305.35,226.25 305.6,214.86 305.85,194.44 306.09,170.65 306.34,150.13 306.58,138.64 306.83,139.46 307.07,152.43 307.32,173.99 307.57,198.15 307.81,218.17 308.06,228.42 308.3,225.99 308.55,211.5 308.8,188.97 309.04,164.66 309.29,145.38 309.53,136.54 309.78,140.62 310.02,156.52 310.27,179.82 310.52,204.02 310.76,222.34 311.01,229.67 311.25,223.95 311.5,206.77 311.75,182.92 311.99,159.08 312.24,141.9 312.48,136.17 312.73,143.48 312.98,161.77 313.22,185.92 313.47,209.18 313.71,225.06 313.96,229.15 314.2,220.34 314.45,201.13 314.7,176.91 314.94,154.46 315.19,140.02 315.43,137.57 315.68,147.76 315.93,167.66 316.17,191.7 316.42,213.15 316.66,226.06 316.91,226.9 317.15,215.51 317.4,195.14 317.65,171.52 317.89,151.24 318.14,139.91 318.38,140.59 318.63,153 318.88,173.59 319.12,196.57 319.37,215.54 319.61,225.29 319.86,223.2 320.1,209.98 320.35,189.41 320.6,167.28 320.84,149.71 321.09,141.53 321.33,144.87 321.58,158.67 321.82,178.97 322.07,200.09 322.32,216.18 322.56,222.88 322.81,218.47 323.05,204.33 323.3,184.51 323.55,164.56 323.79,149.96 324.04,144.64 324.28,149.91 324.53,164.14 324.77,183.27 325.02,201.96 325.27,215.09 325.51,219.17 325.76,213.26 326,199.17 326.25,180.92 326.5,163.57 326.74,151.84 326.99,148.82 327.23,155.13 327.48,168.85 327.73,186.09 327.97,202.07 328.22,212.49 328.46,214.65 328.71,208.18 328.95,195.04 329.2,178.94 329.45,164.31 329.69,155.06 329.94,153.54 330.18,159.93 330.43,172.31 330.68,187.2 330.92,200.52 331.17,208.77 331.41,209.89 331.66,203.8 331.9,192.34 332.15,178.7 332.4,166.59 332.64,159.14 332.89,158.19 333.13,163.76 333.38,174.19 333.62,186.58 333.87,197.62 334.12,204.47 334.36,205.5 334.61,200.63 334.85,191.32 335.1,180.13 335.35,170 335.59,163.51 335.84,162.18 336.08,166.2 336.33,174.34 336.57,184.42 336.82,193.82 337.07,200.19 337.31,202.03 337.56,199 337.8,192.02 338.05,182.92 338.3,174.04 338.54,167.56 338.79,165.02 339.03,166.97 339.28,172.83 339.52,181.09 339.77,189.69 340.02,196.51 340.26,199.91 340.51,199.09 340.75,194.27 341,186.66 341.25,178.11 341.49,170.73 341.74,166.34 341.98,166.03 342.23,169.92 342.48,177.1 342.72,185.83 342.97,193.96 343.21,199.44 343.46,200.85 343.7,197.73 343.95,190.77 344.2,181.62 344.44,172.57 344.69,165.94 344.93,163.51 345.18,166.04 345.43,173.02 345.67,182.8 345.92,192.9 346.16,200.69 346.41,204.04 346.65,201.9 346.9,194.65 347.15,184.05 347.39,172.79 347.64,163.87 347.88,159.76 348.13,161.73 348.38,169.47 348.62,181.08 348.87,193.55 349.11,203.54 349.36,208.23 349.6,206.19 349.85,197.74 350.1,184.98 350.34,171.27 350.59,160.34 350.83,155.25 351.08,157.61 351.32,166.97 351.57,180.98 351.82,195.91 352.06,207.66 352.31,212.9 352.55,210 352.8,199.54 353.05,184.22 353.29,168.14 353.54,155.75 353.78,150.58 354.03,154.24 354.27,165.94 354.52,182.62 354.77,199.75 355.01,212.58 355.26,217.44 355.5,212.8 355.75,199.74 356,181.73 356.24,163.68 356.49,150.63 356.73,146.32 356.98,152.13 357.23,166.62 357.47,185.91 357.72,204.7 357.96,217.74 358.21,221.26 358.45,214.14 358.7,198.18 358.95,177.7 359.19,158.36 359.44,145.59 359.68,143.05 359.93,151.62 360.18,169.04 360.42,190.58 360.67,210.24 360.91,222.52 361.16,223.87 361.4,213.78 361.65,194.94 361.9,172.51 362.14,152.75 362.39,141.21 362.63,141.21 362.88,152.87 363.12,173.04 363.37,196.16 363.62,215.78 363.86,226.37 364.11,224.89 364.35,211.65 364.6,190.27 364.85,166.67 365.09,147.45 365.34,138.01 365.58,141.06 365.83,155.83 366.07,178.26 366.32,202.11 366.57,220.7 366.81,228.82 367.06,224.14 367.3,207.91 367.55,184.62 367.8,160.77 368.04,143.03 368.29,136.37 368.53,142.7 368.78,160.27 369.02,184.2 369.27,207.81 369.52,224.5 369.76,229.6 370.01,221.65 370.25,202.89 370.5,178.54" fill="none" stroke="#30f030" stroke-width="0.6" stroke-opacity="1" mask="url(#m5)"/>
<polyline points="252.5,194.59 252.75,190.55 252.99,184.5 253.24,178.03 253.48,172.82 253.73,170.25 253.97,171.01 254.22,174.9 254.47,180.91 254.71,187.47 254.96,192.86 255.2,195.65 255.45,195.08 255.7,191.3 255.94,185.27 256.19,178.57 256.43,172.97 256.68,169.95 256.93,170.35 257.17,174.08 257.42,180.19 257.66,187.08 257.91,192.92 258.15,196.15 258.4,195.89 258.65,192.15 258.89,185.91 259.14,178.79 259.38,172.69 259.63,169.25 259.88,169.43 260.12,173.23 260.37,179.67 260.61,187.05 260.86,193.41 261.1,197.02 261.35,196.87 261.6,192.96 261.84,186.28 262.09,178.6 262.33,171.99 262.58,168.24 262.82,168.41 263.07,172.5 263.32,179.46 263.56,187.45 263.81,194.31 264.05,198.15 264.3,197.9 264.55,193.58 264.79,186.29 265.04,177.99 265.28,170.92 265.53,167.03 265.77,167.41 266.02,172.03 266.27,179.67 266.51,188.28 266.76,195.53 267,199.41 267.25,198.82 267.5,193.88 267.74,185.87 267.99,176.95 268.23,169.57 268.48,165.76 268.73,166.6 268.97,171.92 269.22,180.31 269.46,189.5 269.71,196.97 269.95,200.65 270.2,199.49 270.45,193.77 270.69,185 270.94,175.58 271.18,168.08 271.43,164.59 271.68,166.1 271.92,172.25 272.17,181.38 272.41,191 272.66,198.47 272.9,201.72 273.15,199.8 273.4,193.22 273.64,183.74 273.89,173.97 274.13,166.59 274.38,163.66 274.62,166.01 274.87,173.03 275.12,182.81 275.36,192.68 275.61,199.9 275.85,202.48 276.1,199.67 276.35,192.23 276.59,182.17 276.84,172.27 277.08,165.26 277.33,163.08 277.57,166.36 277.82,174.21 278.07,184.49 278.31,194.36 278.56,201.1 278.8,202.84 279.05,199.09 279.3,190.86 279.54,180.42 279.79,170.64 280.03,164.22 280.28,162.94 280.52,167.16 280.77,175.73 281.02,186.28 281.26,195.91 281.51,201.96 281.75,202.76 282,198.08 282.25,189.22 282.49,178.63 282.74,169.21 282.98,163.57 283.23,163.26 283.48,168.36 283.72,177.45 283.97,188.04 284.21,197.19 284.46,202.39 284.7,202.22 284.95,196.73 285.2,187.45 285.44,176.95 285.69,168.11 285.93,163.37 286.18,164.01 286.43,169.84 286.67,179.24 286.92,189.6 287.16,198.08 287.41,202.36 287.65,201.27 287.9,195.15 288.15,185.7 288.39,175.53 288.64,167.43 288.88,163.62 289.13,165.12 289.38,171.48 289.62,180.92 289.87,190.85 290.11,198.54 290.36,201.89 290.6,200.03 290.85,193.49 291.1,184.11 291.34,174.47 291.59,167.21 291.83,164.28 292.08,166.47 292.32,173.12 292.57,182.38 292.82,191.7 293.06,198.54 293.31,201.06 293.55,198.61 293.8,191.91 294.05,182.82 294.29,173.84 294.54,167.42 294.78,165.26 295.03,167.92 295.27,174.62 295.52,183.49 295.77,192.1 296.01,198.13 296.26,199.97 296.5,197.16 296.75,190.53 297,181.91 297.24,173.66 297.49,168 297.73,166.43 297.98,169.32 298.23,175.84 298.47,184.18 298.72,192.07 298.96,197.4 299.21,198.77 299.45,195.85 299.7,189.49 299.95,181.44 300.19,173.89 300.44,168.85 300.68,167.63 300.93,170.52 301.18,176.68 301.42,184.43 301.67,191.67 301.91,196.47 302.16,197.6 302.4,194.79 302.65,188.85 302.9,181.41 303.14,174.45 303.39,169.82 303.63,168.73 303.88,171.41 304.12,177.1 304.37,184.27 304.62,190.99 304.86,195.49 305.11,196.61 305.35,194.1 305.6,188.65 305.85,181.74 306.09,175.21 306.34,170.77 306.58,169.57 306.83,171.9 307.07,177.09 307.32,183.78 307.57,190.17 307.81,194.61 308.06,195.93 308.3,193.82 308.55,188.85 308.8,182.36 309.04,176.04 309.29,171.55 309.53,170.07 309.78,171.96 310.02,176.71 310.27,183.08 310.52,189.38 310.76,193.96 311.01,195.64 311.25,193.97 311.5,189.39 311.75,183.11 311.99,176.77 312.24,172.03 312.48,170.15 312.73,171.61 312.98,176.05 313.22,182.31 313.47,188.74 313.71,193.67 313.96,195.77 314.2,194.49 314.45,190.15 314.7,183.86 314.94,177.27 315.19,172.13 315.43,169.8 315.68,170.93 315.93,175.24 316.17,181.62 316.42,188.4 316.66,193.78 316.91,196.32 317.15,195.31 317.4,190.98 317.65,184.45 317.89,177.43 318.14,171.8 318.38,169.08 318.63,170.02 318.88,174.43 319.12,181.16 319.37,188.44 319.61,194.32 319.86,197.2 320.1,196.27 320.35,191.73 320.6,184.75 320.84,177.18 321.09,171.06 321.33,168.06 321.58,169.03 321.82,173.77 322.07,181.04 322.32,188.91 322.56,195.25 322.81,198.33 323.05,197.25 323.3,192.27 323.55,184.67 323.79,176.49 324.04,169.96 324.28,166.87 324.53,168.1 324.77,173.39 325.02,181.33 325.27,189.8 325.51,196.49 325.76,199.55 326,198.09 326.25,192.46 326.5,184.15 326.74,175.41 326.99,168.61 327.23,165.66 327.48,167.39 327.73,173.39 327.97,182.07 328.22,191.06 328.46,197.91 328.71,200.71 328.95,198.65 329.2,192.24 329.45,183.2 329.69,174 329.94,167.16 330.18,164.58 330.43,167.01 330.68,173.84 330.92,183.22 331.17,192.59 331.41,199.37 331.66,201.67 331.9,198.82 332.15,191.57 332.4,181.87 332.64,172.39 332.89,165.74 333.13,163.76 333.38,167.05 333.62,174.73 333.87,184.7 334.12,194.24 334.36,200.71 334.61,202.3 334.85,198.56 335.1,190.47 335.35,180.26 335.59,170.73 335.84,164.51 336.08,163.33 336.33,167.55 336.57,176.01 336.82,186.41 337.07,195.88 337.31,201.8 337.56,202.52 337.8,197.84 338.05,189.02 338.3,178.49 338.54,169.16 338.79,163.59 339.03,163.34 339.28,168.48 339.52,177.6 339.77,188.2 340.02,197.35 340.26,202.52 340.51,202.29 340.75,196.71 341,187.33 341.25,176.73 341.49,167.83 341.74,163.08 341.98,163.8 342.23,169.78 342.48,179.36 342.72,189.91 342.97,198.51 343.21,202.8 343.46,201.6 343.7,195.26 343.95,185.54 344.2,175.11 344.44,166.85 344.69,163.03 344.93,164.69 345.18,171.34 345.43,181.15 345.67,191.4 345.92,199.28 346.16,202.62 346.41,200.54 346.65,193.62 346.9,183.8 347.15,173.77 347.39,166.3 347.64,163.43 347.88,165.91 348.13,173.03 348.38,182.81 348.62,192.56 348.87,199.6 349.11,202.02 349.36,199.2 349.6,191.93 349.85,182.25 350.1,172.82 350.34,166.21 350.59,164.22 350.83,167.34 351.08,174.68 351.32,184.2 351.57,193.29 351.82,199.47 352.06,201.07 352.31,197.71 352.55,190.35 352.8,181.03 353.05,172.31 353.29,166.55 353.54,165.3 353.78,168.84 354.03,176.16 354.27,185.23 354.52,193.58 354.77,198.94 355.01,199.9 355.26,196.24 355.5,189.01 355.75,180.21 356,172.24 356.24,167.24 356.49,166.53 356.73,170.25 356.98,177.33 357.23,185.83 357.47,193.44 357.72,198.11 357.96,198.64 358.21,194.92 358.45,188.02 358.7,179.84 358.95,172.57 359.19,168.17 359.44,167.77 359.68,171.43 359.93,178.11 360.18,185.99 360.42,192.94 360.67,197.12 360.91,197.45 361.16,193.89 361.4,187.46 361.65,179.88 361.9,173.21 362.14,169.2 362.39,168.87 362.63,172.28 362.88,178.47 363.12,185.75 363.37,192.2 363.62,196.1 363.86,196.47 364.11,193.25 364.35,187.32 364.6,180.29 364.85,174.02 365.09,170.16 365.34,169.7 365.58,172.72 365.83,178.4 366.07,185.21 366.32,191.35 366.57,195.22 366.81,195.82 367.06,193.02 367.3,187.58 367.55,180.95 367.8,174.87 368.04,170.93 368.29,170.16 368.53,172.73 368.78,177.97 369.02,184.47 369.27,190.55 369.52,194.6 369.76,195.57 370.01,193.22 370.25,188.15 370.5,181.71" fill="none" stroke="#202020" stroke-width="0.6" stroke-opacity="1" mask="url(#m7)"/>
</svg>
<text x="251.7" y="147.05" font-family="'Liberation Sans', sans-serif" font-size="4.6" fill="#333" text-anchor="end">5</text>
<text x="251.7" y="184.5" font-family="'Liberation Sans', sans-serif" font-size="4.6" fill="#333" text-anchor="end">0</text>
<text x="251.7" y="221.95" font-family="'Liberation Sans', sans-serif" font-size="4.6" fill="#333" text-anchor="end">-5</text>
<text x="253" y="235.3" font-family="'Liberation Sans', sans-serif" font-size="4.6" fill="#333" text-anchor="middle">0</text>
<text x="311.5" y="235.7" font-family="'Liberation Sans', sans-serif" font-size="4.6" fill="#333" text-anchor="middle">20</text>
<text x="311.5" y="238.8" font-family="'Liberation Sans', sans-serif" font-size="4.8" fill="#333" text-anchor="middle">Time (ms)</text>
<text transform="translate(234.5,182.2) rotate(-90)" font-family="'Liberation Sans', sans-serif" font-size="4.9" fill="#222" text-anchor="middle">Electric field, x component (V/m)</text>
<rect x="358.9" y="137" width="11.2" height="11.2" fill="#fff" stroke="#c8c8c8" stroke-width="0.5"/>
<line x1="359.9" y1="140" x2="365.1" y2="140" stroke="#30f030" stroke-width="0.8" stroke-opacity="0.8"/>
<text x="367.3" y="141.56" font-family="'Liberation Sans', 'WenQuanYi Zen Hei', sans-serif" font-size="4.4" fill="#999" stroke="#9a9a9a" stroke-width="0.3" text-anchor="middle">①</text>
<line x1="359.9" y1="145.1" x2="365.1" y2="145.1" stroke="#444" stroke-width="0.8" stroke-opacity="0.8"/>
<text x="367.3" y="146.66" font-family="'Liberation Sans', 'WenQuanYi Zen Hei', sans-serif" font-size="4.4" fill="#999" stroke="#9a9a9a" stroke-width="0.3" text-anchor="middle">③</text>
<rect x="419.8" y="135.4" width="118.3" height="94.9" fill="#fff" stroke="#d4d4d4" stroke-width="0.8"/>
<svg x="419.8" y="135.4" width="118.3" height="94.9" viewBox="419.8 135.4 118.3 94.9" overflow="hidden">
<polyline points="419.8,194.53 420.05,170.34 420.29,149.68 420.54,138.35 420.79,139.52 421.03,152.85 421.28,174.58 421.53,198.6 421.77,218.17 422.02,227.8 422.26,224.84 422.51,210.14 422.76,187.87 423,164.3 423.25,146.02 423.5,138.15 423.74,142.83 423.99,158.69 424.24,181.23 424.48,204.11 424.73,220.92 424.98,226.99 425.22,220.71 425.47,203.92 425.72,181.39 425.96,159.45 426.21,144.24 426.45,139.94 426.7,147.66 426.95,165.13 427.19,187.38 427.44,208.16 427.69,221.69 427.93,224.28 428.18,215.32 428.43,197.45 428.67,175.74 428.92,156.28 429.17,144.47 429.41,143.49 429.66,153.46 429.9,171.47 430.15,192.4 430.4,210.38 430.64,220.48 430.89,220.01 431.14,209.27 431.38,191.4 431.63,171.48 431.88,155.06 432.12,146.62 432.37,148.36 432.62,159.6 432.86,177.06 433.11,195.79 433.36,210.6 433.6,217.48 433.85,214.69 434.09,203.22 434.34,186.42 434.59,169.02 434.83,155.83 435.08,150.37 435.33,153.95 435.57,165.38 435.82,181.31 436.07,197.27 436.31,208.89 436.56,213.11 436.81,208.98 437.05,197.87 437.3,183 437.55,168.53 437.79,158.4 438.04,155.2 438.28,159.61 438.53,170.16 438.78,183.81 439.02,196.77 439.27,205.56 439.52,207.96 439.76,203.56 440.01,193.79 440.26,181.47 440.5,169.98 440.75,162.37 441,160.5 441.24,164.64 441.49,173.43 441.73,184.36 441.98,194.45 442.23,201.09 442.47,202.69 442.72,199.07 442.97,191.42 443.21,181.91 443.46,173.09 443.71,167.19 443.95,165.58 444.2,168.45 444.45,174.84 444.69,182.97 444.94,190.69 445.19,196.1 445.43,197.98 445.68,196.05 445.92,190.99 446.17,184.18 446.42,177.37 446.66,172.18 446.91,169.77 447.16,170.59 447.4,174.29 447.65,179.9 447.9,186.04 448.14,191.27 448.39,194.44 448.64,194.86 448.88,192.49 449.13,187.93 449.38,182.22 449.62,176.67 449.87,172.54 450.11,170.8 450.36,171.89 450.61,175.61 450.85,181.15 451.1,187.28 451.35,192.53 451.59,195.63 451.84,195.7 452.09,192.61 452.33,186.96 452.58,180.03 452.83,173.51 453.07,169.08 453.32,167.98 453.56,170.7 453.81,176.73 454.06,184.67 454.3,192.54 454.55,198.26 454.8,200.18 455.04,197.58 455.29,190.92 455.54,181.78 455.78,172.51 456.03,165.62 456.28,163.09 456.52,165.85 456.77,173.38 457.02,183.84 457.26,194.51 457.51,202.44 457.75,205.32 458,202.15 458.25,193.53 458.49,181.63 458.74,169.63 458.99,160.85 459.23,157.86 459.48,161.72 459.73,171.61 459.97,184.99 460.22,198.24 460.47,207.65 460.71,210.47 460.96,205.68 461.21,194.37 461.45,179.51 461.7,165.16 461.94,155.35 462.19,152.97 462.44,158.91 462.68,171.74 462.93,188.04 463.18,203.33 463.42,213.27 463.67,214.94 463.92,207.66 464.16,193.25 464.41,175.59 464.66,159.59 464.9,149.78 465.15,149.07 465.39,157.85 465.64,173.86 465.89,192.73 466.13,209.21 466.38,218.61 466.63,218.14 466.87,207.74 467.12,190.18 467.37,170.26 467.61,153.56 467.86,144.84 468.11,146.69 468.35,158.76 468.6,177.81 468.85,198.57 469.09,215.22 469.34,223.01 469.58,219.61 469.83,205.83 470.08,185.43 470.32,164.06 470.57,147.74 470.82,141.12 471.06,146.19 471.31,161.64 471.56,183.24 471.8,204.96 472.05,220.68 472.3,225.92 472.54,219.11 472.79,202.05 473.04,179.46 473.28,157.66 473.53,142.79 473.77,139.1 474.02,147.7 474.27,166.25 474.51,189.6 474.76,211.21 475.01,224.97 475.25,226.99 475.5,216.62 475.75,196.73 475.99,172.87 476.24,151.73 476.49,139.28 476.73,139.04 476.98,151.12 477.22,172.15 477.47,196.25 477.72,216.65 477.96,227.61 478.21,226.03 478.46,212.35 478.7,190.4 478.95,166.33 479.2,146.92 479.44,137.6 479.69,140.99 479.94,156.12 480.18,178.75 480.43,202.5 480.68,220.71 480.92,228.29 481.17,223.14 481.41,206.73 481.66,183.71 481.91,160.54 482.15,143.72 482.4,137.93 482.65,144.75 482.89,162.21 483.14,185.36 483.39,207.7 483.63,222.97 483.88,226.96 484.13,218.61 484.37,200.34 484.62,177.34 484.87,156.06 485.11,142.44 485.36,140.22 485.6,149.93 485.85,168.74 486.1,191.32 486.34,211.34 486.59,223.24 486.84,223.78 487.08,212.93 487.33,193.85 487.58,171.94 487.82,153.33 488.07,143.18 488.32,144.19 488.56,155.94 488.81,175.02 489.05,196.03 489.3,213.09 489.55,221.54 489.79,219.14 490.04,206.74 490.29,187.93 490.53,168.04 490.78,152.59 491.03,145.78 491.27,149.36 491.52,162.13 491.77,180.41 492.01,199.03 492.26,212.84 492.51,218.12 492.75,213.6 493,200.72 493.24,183.21 493.49,166 493.74,153.81 493.98,149.89 494.23,155.11 494.48,167.82 494.72,184.35 494.97,200.07 495.22,210.7 495.46,213.46 495.71,207.81 495.96,195.52 496.2,180.14 496.45,165.95 496.7,156.77 496.94,154.96 497.19,160.77 497.43,172.39 497.68,186.48 497.93,199.15 498.17,207.02 498.42,208.15 498.67,202.45 498.91,191.71 499.16,179 499.41,167.79 499.65,161.03 499.9,160.34 500.15,165.67 500.39,175.34 500.64,186.63 500.88,196.47 501.13,202.34 501.38,202.86 501.62,198.15 501.87,189.68 502.12,179.82 502.36,171.2 502.61,165.99 502.86,165.35 503.1,169.23 503.35,176.4 503.6,184.88 503.84,192.46 504.09,197.28 504.34,198.28 504.58,195.43 504.83,189.61 505.07,182.42 505.32,175.67 505.57,170.98 505.81,169.35 506.06,171.05 506.31,175.49 506.55,181.53 506.8,187.69 507.05,192.53 507.29,194.99 507.54,194.57 507.79,191.45 508.03,186.39 508.28,180.57 508.53,175.32 508.77,171.83 509.02,170.91 509.26,172.8 509.51,177.09 509.76,182.84 510,188.75 510.25,193.41 510.5,195.68 510.74,194.91 510.99,191.16 511.24,185.2 511.48,178.41 511.73,172.45 511.98,168.86 512.22,168.69 512.47,172.16 512.71,178.59 512.96,186.45 513.21,193.78 513.45,198.61 513.7,199.52 513.95,196.06 514.19,188.92 514.44,179.82 514.69,171.11 514.93,165.16 515.18,163.73 515.43,167.45 515.67,175.53 515.92,186 516.17,196.07 516.41,202.98 516.66,204.66 516.9,200.43 517.15,191.19 517.4,179.29 517.64,167.92 517.89,160.26 518.14,158.58 518.38,163.59 518.63,174.15 518.88,187.51 519.12,200.06 519.37,208.25 519.62,209.65 519.86,203.63 520.11,191.63 520.36,176.81 520.6,163.25 520.85,154.77 521.09,153.92 521.34,161.16 521.59,174.69 521.83,190.9 522.08,205.29 522.33,213.78 522.57,213.83 522.82,205.19 523.07,190.09 523.31,172.6 523.56,157.6 523.81,149.37 524.05,150.38 524.3,160.54 524.54,177.21 524.79,195.82 525.04,211.18 525.28,218.88 525.53,216.62 525.78,204.82 526.02,186.64 526.27,167.09 526.52,151.64 526.76,144.73 527.01,148.44 527.26,161.92 527.5,181.5 527.75,201.78 528,217.05 528.24,222.92 528.49,217.61 528.73,202.46 528.98,181.61 529.23,160.85 529.47,146.04 529.72,141.43 529.97,148.44 530.21,165.22 530.46,187.16 530.71,208.13 530.95,222.21 531.2,225.37 531.45,216.61 531.69,198.28 531.94,175.47 532.19,154.56 532.43,141.45 532.68,139.9 532.92,150.44 533.17,170.17 533.42,193.61 533.66,214.19 533.91,226.09 534.16,225.92 534.4,213.65 534.65,192.68 534.9,168.87 535.14,148.9 535.39,138.4 535.64,140.37 535.88,154.29 536.13,176.29 536.37,200.2 536.62,219.3 536.87,228.23 537.11,224.44 537.36,208.99 537.61,186.2 537.85,162.48 538.1,144.47" fill="none" stroke="#f03030" stroke-width="0.65" stroke-opacity="1" mask="url(#m9)"/>
</svg>
<text x="419" y="147.05" font-family="'Liberation Sans', sans-serif" font-size="4.6" fill="#333" text-anchor="end">5</text>
<text x="419" y="184.5" font-family="'Liberation Sans', sans-serif" font-size="4.6" fill="#333" text-anchor="end">0</text>
<text x="419" y="221.95" font-family="'Liberation Sans', sans-serif" font-size="4.6" fill="#333" text-anchor="end">-5</text>
<text x="420.3" y="235.3" font-family="'Liberation Sans', sans-serif" font-size="4.6" fill="#333" text-anchor="middle">0</text>
<text x="478.95" y="235.7" font-family="'Liberation Sans', sans-serif" font-size="4.6" fill="#333" text-anchor="middle">20</text>
<text x="478.95" y="238.8" font-family="'Liberation Sans', sans-serif" font-size="4.8" fill="#333" text-anchor="middle">Time (ms)</text>
<text transform="translate(403.5,182.2) rotate(-90)" font-family="'Liberation Sans', sans-serif" font-size="4.9" fill="#222" text-anchor="middle">Electric field, x component (V/m)</text>
<rect x="526.1" y="137" width="10.6" height="6.1" fill="#fff" stroke="#c8c8c8" stroke-width="0.5"/>
<line x1="527.1" y1="140" x2="532.3" y2="140" stroke="#f05050" stroke-width="0.8" stroke-opacity="0.8"/>
<text x="534.5" y="141.56" font-family="'Liberation Sans', 'WenQuanYi Zen Hei', sans-serif" font-size="4.4" fill="#999" stroke="#9a9a9a" stroke-width="0.3" text-anchor="middle">④</text>
<rect x="419.3" y="269.3" width="118.1" height="95.2" fill="#fff" stroke="#d4d4d4" stroke-width="0.8"/>
<svg x="419.3" y="269.3" width="118.1" height="95.2" viewBox="419.3 269.3 118.1 95.2" overflow="hidden">
<polyline points="419.3,332.95 419.55,307.13 419.79,284.92 420.04,272.58 420.28,273.52 420.53,287.36 420.78,310.11 421.02,335.24 421.27,355.64 421.51,365.58 421.76,362.32 422.01,346.89 422.25,323.76 422.5,299.63 422.74,281.46 422.99,274.25 423.24,279.83 423.48,296.37 423.73,319.01 423.97,341.25 424.22,356.86 424.47,361.55 424.71,354.25 424.96,337.24 425.2,315.51 425.45,295.24 425.7,282.08 425.94,279.61 426.19,288.32 426.44,305.56 426.68,326.31 426.93,344.67 427.17,355.5 427.42,355.92 427.67,346 427.91,328.74 428.16,309.14 428.4,292.68 428.65,283.92 428.9,285.23 429.14,296.1 429.39,313.33 429.63,331.98 429.88,346.76 430.13,353.56 430.37,350.58 430.62,338.79 430.86,321.65 431.11,304.07 431.36,291.01 431.6,286.09 431.85,290.58 432.09,303.06 432.34,319.91 432.59,336.29 432.83,347.61 433.08,350.75 433.32,344.95 433.57,331.98 433.82,315.63 434.06,300.54 434.31,291 434.55,289.59 434.8,296.54 435.05,309.71 435.29,325.27 435.54,338.79 435.78,346.53 436.03,346.41 436.28,338.65 436.52,325.6 436.77,311.04 437.01,299.11 437.26,293.21 437.51,294.77 437.75,303.12 438,315.68 438.25,328.8 438.49,338.78 438.74,342.94 438.98,340.32 439.23,331.9 439.48,320.24 439.72,308.74 439.97,300.6 440.21,298.1 440.46,301.58 440.71,309.77 440.95,320.13 441.2,329.65 441.44,335.73 441.69,336.86 441.94,333.04 442.18,325.63 442.43,316.92 442.67,309.44 442.92,305.17 443.17,305.14 443.41,308.98 443.66,315.3 443.9,322.12 444.15,327.48 444.4,330.04 444.64,329.36 444.89,325.97 445.13,321.13 445.38,316.37 445.63,313.01 445.87,311.83 446.12,312.84 446.36,315.41 446.61,318.56 446.86,321.25 447.1,322.78 447.35,322.93 447.59,321.97 447.84,320.52 448.09,319.24 448.33,318.58 448.58,318.66 448.82,319.2 449.07,319.73 449.32,319.76 449.56,319.06 449.81,317.77 450.06,316.36 450.3,315.49 450.55,315.76 450.79,317.39 451.04,320.14 451.29,323.25 451.53,325.69 451.78,326.5 452.02,325.09 452.27,321.58 452.52,316.78 452.76,312.04 453.01,308.9 453.25,308.53 453.5,311.39 453.75,316.94 453.99,323.77 454.24,329.9 454.48,333.39 454.73,332.94 454.98,328.3 455.22,320.61 455.47,311.95 455.71,304.83 455.96,301.47 456.21,303.12 456.45,309.61 456.7,319.32 456.94,329.57 457.19,337.36 457.44,340.27 457.68,337.17 457.93,328.59 458.17,316.94 458.42,305.49 458.67,297.57 458.91,295.62 459.16,300.43 459.4,310.85 459.65,324.06 459.9,336.34 460.14,344.08 460.39,344.89 460.63,338.3 460.88,325.94 461.13,311.36 461.37,298.7 461.62,291.64 461.87,292.34 462.11,300.77 462.36,314.68 462.6,330.18 462.85,342.87 463.1,349.03 463.34,346.75 463.59,336.53 463.83,321.11 464.08,304.9 464.33,292.52 464.57,287.58 464.82,291.61 465.06,303.6 465.31,320.24 465.56,336.85 465.8,348.65 466.05,352.21 466.29,346.38 466.54,332.69 466.79,314.93 467.03,298.13 467.28,287.11 467.52,285.11 467.77,292.83 468.02,308.2 468.26,326.94 468.51,343.73 468.75,353.74 469,354.02 469.25,344.34 469.49,327.34 469.74,307.74 469.98,291.03 470.23,282.07 470.48,283.57 470.72,295.33 470.97,314.16 471.21,334.81 471.46,351.37 471.71,359.03 471.95,355.41 472.2,341.34 472.44,320.67 472.69,299.17 472.94,282.96 473.18,276.81 473.43,282.7 473.68,299.19 473.92,321.75 474.17,344.04 474.41,359.64 474.66,363.96 474.91,355.52 475.15,336.5 475.4,312.16 475.64,289.53 475.89,275.18 476.14,273.26 476.38,284.42 476.63,305.58 476.87,330.79 477.12,352.9 477.37,365.58 477.61,365.13 477.86,351.6 478.1,328.72 478.35,302.95 478.6,281.91 478.84,271.57 479.09,274.78 479.33,290.53 479.58,314.26 479.83,339.21 480.07,358.3 480.32,366.19 480.56,360.72 480.81,343.56 481.06,319.65 481.3,295.8 481.55,278.98 481.79,273.79 482.04,281.47 482.29,299.63 482.53,322.93 482.78,344.73 483.02,358.92 483.27,361.66 483.52,352.4 483.76,334 484.01,311.81 484.25,292.17 484.5,280.47 484.75,279.89 484.99,290.38 485.24,308.78 485.49,329.78 485.73,347.4 485.98,356.75 486.22,355.36 486.47,343.83 486.72,325.59 486.96,305.92 487.21,290.38 487.45,283.13 487.7,286.15 487.95,298.45 488.19,316.44 488.44,334.95 488.68,348.76 488.93,354.04 489.18,349.43 489.42,336.36 489.67,318.64 489.91,301.33 490.16,289.32 490.41,285.9 490.65,291.92 490.9,305.54 491.14,322.81 491.39,338.79 491.64,349.01 491.88,350.68 492.13,343.44 492.37,329.49 492.62,312.86 492.87,298.28 493.11,289.83 493.36,289.84 493.6,298.11 493.85,312.14 494.1,327.86 494.34,340.82 494.59,347.43 494.83,345.96 495.08,337 495.33,323.24 495.57,308.65 495.82,297.35 496.06,292.44 496.31,295.27 496.56,304.71 496.8,317.88 497.05,330.99 497.3,340.35 497.54,343.48 497.79,339.71 498.03,330.35 498.28,318.22 498.53,306.81 498.77,299.3 499.02,297.62 499.26,302.14 499.51,311.16 499.76,321.93 500,331.36 500.25,336.88 500.49,337.19 500.74,332.5 500.99,324.41 501.23,315.39 501.48,308.01 501.72,304.22 501.97,304.84 502.22,309.41 502.46,316.29 502.71,323.38 502.95,328.67 503.2,330.86 503.45,329.64 503.69,325.68 503.94,320.39 504.18,315.39 504.43,312.07 504.68,311.13 504.92,312.53 505.17,315.54 505.41,319.04 505.66,321.95 505.91,323.53 506.15,323.56 506.4,322.36 506.64,320.61 506.89,319.03 507.14,318.13 507.38,318.06 507.63,318.58 507.88,319.2 508.12,319.43 508.37,319 508.61,317.99 508.86,316.84 509.11,316.16 509.35,316.47 509.6,317.99 509.84,320.47 510.09,323.21 510.34,325.25 510.58,325.73 510.83,324.16 511.07,320.71 511.32,316.2 511.57,311.94 511.81,309.34 512.06,309.45 512.3,312.57 512.55,318.1 512.8,324.57 513.04,330.09 513.29,332.88 513.53,331.81 513.78,326.86 514.03,319.19 514.27,310.94 514.52,304.55 514.76,302.04 515.01,304.43 515.26,311.33 515.5,320.99 515.75,330.71 515.99,337.63 516.24,339.54 516.49,335.59 516.73,326.63 516.98,315.04 517.22,304.2 517.47,297.28 517.72,296.45 517.96,302.18 518.21,313.06 518.45,326.11 518.7,337.64 518.95,344.23 519.19,343.81 519.44,336.26 519.68,323.52 519.93,309.16 520.18,297.36 520.42,291.56 520.67,293.57 520.92,302.98 521.16,317.27 521.41,332.42 521.65,344.1 521.9,348.89 522.15,345.25 522.39,334.06 522.64,318.37 522.88,302.63 523.13,291.38 523.38,287.91 523.62,293.34 523.87,306.26 524.11,323.09 524.36,339.06 524.61,349.6 524.85,351.6 525.1,344.36 525.34,329.82 525.59,312.01 525.84,296 526.08,286.38 526.33,286.02 526.57,295.13 526.82,311.27 527.07,329.9 527.31,345.74 527.56,354.22 527.8,352.8 528.05,341.75 528.3,324.1 528.54,304.81 528.79,289.27 529.03,282 529.28,285.25 529.53,298.31 529.77,317.62 530.02,337.76 530.26,352.97 530.51,358.79 530.76,353.37 531,338.05 531.25,317.04 531.5,296.26 531.74,281.62 531.99,277.45 532.23,285.19 532.48,302.84 532.73,325.56 532.97,346.91 533.22,360.74 533.46,362.93 533.71,352.62 533.96,332.53 534.2,308.22 534.45,286.6 534.69,274.15 534.94,274.45 535.19,287.5 535.43,309.7 535.68,334.78 535.92,355.62 536.17,366.24 536.42,363.54 536.66,348.19 536.91,324.45 537.15,299.03 537.4,279.16" fill="none" stroke="#4060f0" stroke-width="0.6" stroke-opacity="1" mask="url(#m11)"/>
<polyline points="419.3,331.3 419.55,308.58 419.79,289.04 420.04,278.18 420.28,279 420.53,291.19 420.78,311.2 421.02,333.32 421.27,351.27 421.51,360.01 421.76,357.14 422.01,343.57 422.25,323.21 422.5,301.98 422.74,285.99 422.99,279.65 423.24,284.55 423.48,299.11 423.73,319.03 423.97,338.61 424.22,352.34 424.47,356.47 424.71,350.04 424.96,335.08 425.2,315.96 425.45,298.12 425.7,286.54 425.94,284.36 426.19,292.03 426.44,307.2 426.68,325.46 426.93,341.61 427.17,351.15 427.42,351.51 427.67,342.78 427.91,327.6 428.16,310.35 428.4,295.86 428.65,288.15 428.9,289.3 429.14,298.87 429.39,314.04 429.63,330.45 429.88,343.46 430.13,349.44 430.37,346.81 430.62,336.44 430.86,321.36 431.11,305.89 431.36,294.4 431.6,290.07 431.85,294.01 432.09,305 432.34,319.82 432.59,334.24 432.83,344.2 433.08,346.96 433.32,341.86 433.57,330.45 433.82,316.05 434.06,302.77 434.31,294.39 434.55,293.15 434.8,299.26 435.05,310.85 435.29,324.54 435.54,336.44 435.78,343.25 436.03,343.14 436.28,336.32 436.52,324.83 436.77,312.02 437.01,301.52 437.26,296.33 437.51,297.7 437.75,305.05 438,316.1 438.25,327.64 438.49,336.43 438.74,340.09 438.98,337.78 439.23,330.37 439.48,320.12 439.72,310 439.97,302.83 440.21,300.63 440.46,303.7 440.71,310.9 440.95,320.02 441.2,328.4 441.44,333.74 441.69,334.74 441.94,331.38 442.18,324.86 442.43,317.2 442.67,310.61 442.92,306.85 443.17,306.83 443.41,310.21 443.66,315.77 443.9,321.77 444.15,326.49 444.4,328.74 444.64,328.14 444.89,325.16 445.13,320.9 445.38,316.71 445.63,313.76 445.87,312.71 446.12,313.6 446.36,315.87 446.61,318.64 446.86,321.01 447.1,322.35 447.35,322.48 447.59,321.64 447.84,320.36 448.09,319.23 448.33,318.66 448.58,318.72 448.82,319.2 449.07,319.66 449.32,319.69 449.56,319.08 449.81,317.94 450.06,316.7 450.3,315.94 450.55,316.17 450.79,317.61 451.04,320.03 451.29,322.76 451.53,324.91 451.78,325.62 452.02,324.39 452.27,321.29 452.52,317.07 452.76,312.9 453.01,310.13 453.25,309.81 453.5,312.32 453.75,317.21 453.99,323.22 454.24,328.61 454.48,331.68 454.73,331.29 454.98,327.21 455.22,320.44 455.47,312.82 455.71,306.56 455.96,303.6 456.21,305.05 456.45,310.76 456.7,319.3 456.94,328.32 457.19,335.18 457.44,337.74 457.68,335.01 457.93,327.47 458.17,317.21 458.42,307.13 458.67,300.16 458.91,298.45 459.16,302.68 459.4,311.85 459.65,323.48 459.9,334.28 460.14,341.09 460.39,341.8 460.63,336.01 460.88,325.13 461.13,312.3 461.37,301.16 461.62,294.95 461.87,295.56 462.11,302.98 462.36,315.22 462.6,328.86 462.85,340.03 463.1,345.45 463.34,343.45 463.59,334.45 463.83,320.88 464.08,306.62 464.33,295.72 464.57,291.37 464.82,294.92 465.06,305.47 465.31,320.12 465.56,334.73 465.8,345.12 466.05,348.25 466.29,343.12 466.54,331.07 466.79,315.44 467.03,300.66 467.28,290.96 467.52,289.2 467.77,295.99 468.02,309.52 468.26,326.01 468.51,340.79 468.75,349.6 469,349.84 469.25,341.32 469.49,326.36 469.74,309.12 469.98,294.41 470.23,286.52 470.48,287.85 470.72,298.19 470.97,314.77 471.21,332.93 471.46,347.51 471.71,354.25 471.95,351.06 472.2,338.69 472.44,320.49 472.69,301.57 472.94,287.31 473.18,281.9 473.43,287.08 473.68,301.59 473.92,321.45 474.17,341.06 474.41,354.79 474.66,358.59 474.91,351.16 475.15,334.42 475.4,313 475.64,293.09 475.89,280.46 476.14,278.77 476.38,288.59 476.63,307.22 476.87,329.4 477.12,348.86 477.37,360.01 477.61,359.62 477.86,347.71 478.1,327.58 478.35,304.9 478.6,286.38 478.84,277.28 479.09,280.11 479.33,293.97 479.58,314.85 479.83,336.81 480.07,353.61 480.32,360.55 480.56,355.74 480.81,340.64 481.06,319.59 481.3,298.61 481.55,283.8 481.79,279.24 482.04,286 482.29,301.97 482.53,322.48 482.78,341.67 483.02,354.15 483.27,356.56 483.52,348.42 483.76,332.22 484.01,312.7 484.25,295.41 484.5,285.12 484.75,284.61 484.99,293.84 485.24,310.03 485.49,328.51 485.73,344.01 485.98,352.24 486.22,351.02 486.47,340.87 486.72,324.82 486.96,307.51 487.21,293.84 487.45,287.46 487.7,290.12 487.95,300.94 488.19,316.77 488.44,333.06 488.68,345.21 488.93,349.86 489.18,345.8 489.42,334.3 489.67,318.7 489.91,303.48 490.16,292.9 490.41,289.9 490.65,295.2 490.9,307.18 491.14,322.37 491.39,336.44 491.64,345.44 491.88,346.9 492.13,340.53 492.37,328.26 492.62,313.62 492.87,300.79 493.11,293.35 493.36,293.37 493.6,300.64 493.85,312.99 494.1,326.82 494.34,338.23 494.59,344.04 494.83,342.75 495.08,334.87 495.33,322.76 495.57,309.92 495.82,299.97 496.06,295.65 496.31,298.14 496.56,306.44 496.8,318.04 497.05,329.57 497.3,337.81 497.54,340.56 497.79,337.25 498.03,329.01 498.28,318.34 498.53,308.3 498.77,301.68 499.02,300.21 499.26,304.19 499.51,312.12 499.76,321.6 500,329.9 500.25,334.76 500.49,335.03 500.74,330.9 500.99,323.78 501.23,315.85 501.48,309.36 501.72,306.02 501.97,306.56 502.22,310.58 502.46,316.64 502.71,322.88 502.95,327.54 503.2,329.46 503.45,328.38 503.69,324.9 503.94,320.25 504.18,315.85 504.43,312.92 504.68,312.1 504.92,313.33 505.17,315.98 505.41,319.06 505.66,321.62 505.91,323.01 506.15,323.03 506.4,321.98 506.64,320.44 506.89,319.05 507.14,318.26 507.38,318.2 507.63,318.66 507.88,319.2 508.12,319.4 508.37,319.02 508.61,318.14 508.86,317.13 509.11,316.52 509.35,316.79 509.6,318.13 509.84,320.32 510.09,322.73 510.34,324.53 510.58,324.95 510.83,323.57 511.07,320.53 511.32,316.56 511.57,312.81 511.81,310.52 512.06,310.62 512.3,313.37 512.55,318.23 512.8,323.92 513.04,328.79 513.29,331.24 513.53,330.3 513.78,325.94 514.03,319.19 514.27,311.93 514.52,306.3 514.76,304.1 515.01,306.2 515.26,312.28 515.5,320.78 515.75,329.33 515.99,335.42 516.24,337.09 516.49,333.62 516.73,325.74 516.98,315.54 517.22,306 517.47,299.91 517.72,299.18 517.96,304.22 518.21,313.8 518.45,325.28 518.7,335.42 518.95,341.23 519.19,340.86 519.44,334.21 519.68,323 519.93,310.37 520.18,299.98 520.42,294.87 520.67,296.64 520.92,304.93 521.16,317.5 521.41,330.83 521.65,341.11 521.9,345.32 522.15,342.12 522.39,332.28 522.64,318.47 522.88,304.62 523.13,294.72 523.38,291.67 523.62,296.45 523.87,307.81 524.11,322.62 524.36,336.68 524.61,345.95 524.85,347.71 525.1,341.34 525.34,328.54 525.59,312.87 525.84,298.78 526.08,290.32 526.33,290 526.57,298.02 526.82,312.22 527.07,328.62 527.31,342.56 527.56,350.01 527.8,348.77 528.05,339.04 528.3,323.52 528.54,306.54 528.79,292.86 529.03,286.46 529.28,289.32 529.53,300.82 529.77,317.81 530.02,335.54 530.26,348.92 530.51,354.04 530.76,349.27 531,335.78 531.25,317.3 531.5,299.01 531.74,286.13 531.99,282.46 532.23,289.27 532.48,304.81 532.73,324.79 532.97,343.58 533.22,355.75 533.46,357.68 533.71,348.61 533.96,330.93 534.2,309.54 534.45,290.51 534.69,279.56 534.94,279.82 535.19,291.3 535.43,310.84 535.68,332.91 535.92,351.25 536.17,360.6 536.42,358.22 536.66,344.71 536.91,323.82 537.15,301.45 537.4,283.97" fill="none" stroke="#f03030" stroke-width="0.6" stroke-opacity="1" mask="url(#m13)"/>
<polyline points="419.3,315.59 419.55,322.85 419.79,329.16 420.04,332.87 420.28,333.02 420.53,329.54 420.78,323.35 421.02,316.04 421.27,309.53 421.51,305.52 421.76,305.09 422.01,308.36 422.25,314.51 422.5,321.93 422.74,328.7 422.99,333.02 423.24,333.72 423.48,330.6 423.73,324.43 423.97,316.81 424.22,309.74 424.47,305.11 424.71,304.16 424.96,307.2 425.2,313.48 425.45,321.35 425.7,328.76 425.94,333.7 426.19,334.84 426.44,331.81 426.68,325.36 426.93,317.16 427.17,309.4 427.42,304.16 427.67,302.89 427.91,305.99 428.16,312.7 428.4,321.25 428.65,329.38 428.9,334.87 429.14,336.21 429.39,332.97 429.63,325.95 429.88,317 430.13,308.51 430.37,302.8 430.62,301.46 430.86,304.92 431.11,312.32 431.36,321.69 431.6,330.53 431.85,336.4 432.09,337.66 432.34,333.9 432.59,326.08 432.83,316.27 433.08,307.13 433.32,301.16 433.57,300.06 433.82,304.17 434.06,312.46 434.31,322.7 434.55,332.11 434.8,338.1 435.05,338.97 435.29,334.43 435.54,325.65 435.78,314.99 436.03,305.37 436.28,299.44 436.52,298.87 436.77,303.89 437.01,313.18 437.26,324.22 437.51,334 437.75,339.79 438,339.98 438.25,334.44 438.49,324.65 438.74,313.26 438.98,303.41 439.23,297.82 439.48,298.08 439.72,304.17 439.97,314.46 440.21,326.13 440.46,335.99 440.71,341.28 440.95,340.52 441.2,333.87 441.44,323.12 441.69,311.22 441.94,301.44 442.18,296.51 442.43,297.81 442.67,305.03 442.92,316.21 443.17,328.27 443.41,337.89 443.66,342.39 443.9,340.51 444.15,332.73 444.4,321.18 444.64,309.03 444.89,299.65 445.13,295.64 445.38,298.12 445.63,306.44 445.87,318.3 446.12,330.45 446.36,339.52 446.61,342.99 446.86,339.9 447.1,331.09 447.35,318.98 447.59,306.91 447.84,298.22 448.09,295.32 448.33,299.01 448.58,308.28 448.82,320.56 449.07,332.47 449.32,340.71 449.56,343.01 449.81,338.75 450.06,329.09 450.3,316.71 450.55,305.04 450.79,297.29 451.04,295.6 451.29,300.41 451.53,310.4 451.78,322.78 452.02,334.15 452.27,341.36 452.52,342.45 452.76,337.13 453.01,326.9 453.25,314.58 453.5,303.59 453.75,296.94 453.99,296.44 454.24,302.2 454.48,312.61 454.73,324.78 454.98,335.34 455.22,341.42 455.47,341.35 455.71,335.21 455.96,324.71 456.21,312.76 456.45,302.66 456.7,297.17 456.94,297.75 457.19,304.21 457.44,314.72 457.68,326.38 457.93,335.98 458.17,340.91 458.42,339.86 458.67,333.17 458.91,322.72 459.16,311.4 459.4,302.32 459.65,297.93 459.9,299.39 460.14,306.24 460.39,316.54 460.63,327.47 460.88,336.03 461.13,339.92 461.37,338.12 461.62,331.21 461.87,321.1 462.11,310.6 462.36,302.55 462.6,299.12 462.85,301.17 463.1,308.09 463.34,317.93 463.59,327.99 463.83,335.54 464.08,338.58 464.33,336.35 464.57,329.51 464.82,319.98 465.06,310.37 465.31,303.27 465.56,300.56 465.8,302.9 466.05,309.59 466.29,318.78 466.54,327.94 466.79,334.63 467.03,337.09 467.28,334.72 467.52,328.23 467.77,319.41 468.02,310.67 468.26,304.34 468.51,302.06 468.75,304.38 469,310.62 469.25,319.05 469.49,327.4 469.74,333.45 469.98,335.63 470.23,333.42 470.48,327.47 470.72,319.41 470.97,311.41 471.21,305.58 471.46,303.42 471.71,305.46 471.95,311.1 472.2,318.8 472.44,326.51 472.69,332.2 472.94,334.4 473.18,332.58 473.43,327.27 473.68,319.9 473.92,312.42 474.17,306.8 474.41,304.48 474.66,306.04 474.91,311.02 475.15,318.11 475.4,325.42 475.64,331.06 475.89,333.55 476.14,332.29 476.38,327.61 476.63,320.76 476.87,313.53 477.12,307.81 477.37,305.09 477.61,306.05 477.86,310.45 478.1,317.13 478.35,324.35 478.6,330.22 478.84,333.21 479.09,332.54 479.33,328.38 479.58,321.81 479.83,314.53 480.07,308.45 480.32,305.16 480.56,305.54 480.81,309.51 481.06,316.05 481.3,323.47 481.55,329.82 481.79,333.42 482.04,333.3 482.29,329.45 482.53,322.86 482.78,315.24 483.02,308.58 483.27,304.67 483.52,304.58 483.76,308.36 484.01,315.07 484.25,322.97 484.5,329.95 484.75,334.16 484.99,334.43 485.24,330.63 485.49,323.72 485.73,315.51 485.98,308.17 486.22,303.69 486.47,303.31 486.72,307.2 486.96,314.37 487.21,322.96 487.45,330.65 487.7,335.36 487.95,335.78 488.19,331.73 488.44,324.22 488.68,315.24 488.93,307.21 489.18,302.3 489.42,301.92 489.67,306.22 489.91,314.11 490.16,323.5 490.41,331.86 490.65,336.89 490.9,337.17 491.14,332.55 491.39,324.22 491.64,314.41 491.88,305.77 492.13,300.69 492.37,300.6 492.62,305.59 492.87,314.38 493.11,324.6 493.36,333.48 493.6,338.55 493.85,338.38 494.1,332.94 494.34,323.67 494.59,313.06 494.83,304.01 495.08,299.03 495.33,299.54 495.57,305.46 495.82,315.23 496.06,326.19 496.31,335.35 496.56,340.16 496.8,339.24 497.05,332.8 497.3,322.54 497.54,311.27 497.79,302.08 498.03,297.52 498.28,298.9 498.53,305.89 498.77,316.62 499.02,328.14 499.26,337.29 499.51,341.52 499.76,339.62 500,332.07 500.25,320.91 500.49,309.2 500.74,300.18 500.99,296.34 501.23,298.8 501.48,306.91 501.72,318.46 501.97,330.28 502.22,339.1 502.46,342.47 502.71,339.43 502.95,330.78 503.2,318.9 503.45,307.05 503.69,298.51 503.94,295.65 504.18,299.29 504.43,308.44 504.68,320.6 504.92,332.4 505.17,340.59 505.41,342.89 505.66,338.65 505.91,329.03 506.15,316.67 506.4,305 506.64,297.23 506.89,295.52 507.14,300.35 507.38,310.38 507.63,322.86 507.88,334.33 508.12,341.62 508.37,342.72 508.61,337.33 508.86,326.95 509.11,314.43 509.35,303.24 509.6,296.47 509.84,295.98 510.09,301.89 510.34,312.56 510.58,325.04 510.83,335.88 511.07,342.09 511.32,341.98 511.57,335.59 511.81,324.72 512.06,312.36 512.3,301.93 512.55,296.3 512.8,296.99 513.04,303.79 513.29,314.79 513.53,326.95 513.78,336.92 514.03,341.96 514.27,340.73 514.52,333.58 514.76,322.54 515.01,310.64 515.26,301.17 515.5,296.71 515.75,298.45 515.99,305.86 516.24,316.87 516.49,328.44 516.73,337.39 516.98,341.29 517.22,339.11 517.47,331.5 517.72,320.6 517.96,309.41 518.21,301 518.45,297.63 518.7,300.19 518.95,307.91 519.19,318.63 519.44,329.4 519.68,337.28 519.93,340.15 520.18,337.29 520.42,329.54 520.67,319.06 520.92,308.74 521.16,301.38 521.41,298.94 521.65,302.03 521.9,309.74 522.15,319.92 522.39,329.77 522.64,336.65 522.88,338.71 523.13,335.47 523.38,327.88 523.62,318.04 523.87,308.65 524.11,302.23 524.36,300.47 524.61,303.77 524.85,311.19 525.1,320.65 525.34,329.59 525.59,335.62 525.84,337.15 526.08,333.85 526.33,326.67 526.57,317.59 526.82,309.08 527.07,303.39 527.31,302.01 527.56,305.23 527.8,312.14 528.05,320.82 528.3,328.95 528.54,334.36 528.79,335.67 529.03,332.59 529.28,326 529.53,317.7 529.77,309.91 530.02,304.69 530.26,303.38 530.51,306.27 530.76,312.53 531,320.47 531.25,327.97 531.5,333.07 531.74,334.46 531.99,331.81 532.23,325.88 532.48,318.27 532.73,310.98 532.97,305.93 533.22,304.4 533.46,306.77 533.71,312.37 533.96,319.71 534.2,326.85 534.45,331.94 534.69,333.66 534.94,331.59 535.19,326.29 535.43,319.18 535.68,312.1 535.92,306.91 536.17,304.95 536.42,306.72 536.66,311.74 536.91,318.7 537.15,325.78 537.4,331.14" fill="none" stroke="#30f030" stroke-width="0.6" stroke-opacity="0.62" mask="url(#m15)"/>
</svg>
<text x="418.5" y="283.45" font-family="'Liberation Sans', sans-serif" font-size="4.6" fill="#333" text-anchor="end">5</text>
<text x="418.5" y="320.8" font-family="'Liberation Sans', sans-serif" font-size="4.6" fill="#333" text-anchor="end">0</text>
<text x="418.5" y="358.15" font-family="'Liberation Sans', sans-serif" font-size="4.6" fill="#333" text-anchor="end">-5</text>
<text x="419.8" y="369.5" font-family="'Liberation Sans', sans-serif" font-size="4.6" fill="#333" text-anchor="middle">0</text>
<text x="478.35" y="369.9" font-family="'Liberation Sans', sans-serif" font-size="4.6" fill="#333" text-anchor="middle">20</text>
<text x="478.35" y="373" font-family="'Liberation Sans', sans-serif" font-size="4.8" fill="#333" text-anchor="middle">Time (ms)</text>
<text transform="translate(403.2,318.5) rotate(-90)" font-family="'Liberation Sans', sans-serif" font-size="4.9" fill="#222" text-anchor="middle">Electric field, x component (V/m)</text>
<rect x="526.2" y="270.9" width="10.2" height="16.3" fill="#fff" stroke="#c8c8c8" stroke-width="0.5"/>
<line x1="527.2" y1="273.9" x2="532.4" y2="273.9" stroke="#5070f0" stroke-width="0.8" stroke-opacity="0.8"/>
<text x="534.6" y="275.46" font-family="'Liberation Sans', 'WenQuanYi Zen Hei', sans-serif" font-size="4.4" fill="#999" stroke="#9a9a9a" stroke-width="0.3" text-anchor="middle">⑤</text>
<line x1="527.2" y1="279" x2="532.4" y2="279" stroke="#f05050" stroke-width="0.8" stroke-opacity="0.8"/>
<text x="534.6" y="280.56" font-family="'Liberation Sans', 'WenQuanYi Zen Hei', sans-serif" font-size="4.4" fill="#999" stroke="#9a9a9a" stroke-width="0.3" text-anchor="middle">⑥</text>
<line x1="527.2" y1="284.1" x2="532.4" y2="284.1" stroke="#30f030" stroke-width="0.8" stroke-opacity="0.8"/>
<text x="534.6" y="285.66" font-family="'Liberation Sans', 'WenQuanYi Zen Hei', sans-serif" font-size="4.4" fill="#999" stroke="#9a9a9a" stroke-width="0.3" text-anchor="middle">⑦</text>
<rect x="72" y="262" width="130.6" height="107.6" fill="#1b8fc7" filter="url(#tex)"/>
<circle cx="139.4" cy="305.85" r="10.62" fill="none" stroke="#a6461c" stroke-width="6.25"/>
<circle cx="139.4" cy="305.85" r="13.55" fill="none" stroke="#4a2412" stroke-width="0.45"/>
<circle cx="139.4" cy="305.85" r="7.7" fill="none" stroke="#4a2412" stroke-width="0.45"/>
<path d="M 134.87 304.24 A 4 4 0 1 1 142.63 306.17" fill="none" stroke="#0a0a0a" stroke-width="1.7"/>
<circle cx="113.85" cy="319.85" r="10.53" fill="none" stroke="#a6461c" stroke-width="6.45"/>
<circle cx="113.85" cy="319.85" r="13.55" fill="none" stroke="#4a2412" stroke-width="0.45"/>
<circle cx="113.85" cy="319.85" r="7.5" fill="none" stroke="#4a2412" stroke-width="0.45"/>
<path d="M 111.77 318.61 A 3.75 3.75 0 1 0 119.23 318.61" fill="none" stroke="#0a0a0a" stroke-width="1.7"/>
<circle cx="139.5" cy="335.85" r="10.53" fill="none" stroke="#a6461c" stroke-width="6.45"/>
<circle cx="139.5" cy="335.85" r="13.55" fill="none" stroke="#4a2412" stroke-width="0.45"/>
<circle cx="139.5" cy="335.85" r="7.5" fill="none" stroke="#4a2412" stroke-width="0.45"/>
<path d="M 135.23 334.99 A 4 4 0 1 0 143.13 333.74" fill="none" stroke="#0a0a0a" stroke-width="1.7"/>
<line x1="139.4" y1="279.5" x2="139.4" y2="349.6" stroke="#1a2436" stroke-width="0.45"/>
<circle cx="139.4" cy="279.3" r="0.6" fill="#1a2436"/>
<line x1="146.5" y1="305.1" x2="179" y2="305.1" stroke="#1a2436" stroke-width="0.45"/>
<circle cx="179.3" cy="305.1" r="0.6" fill="#1a2436"/>
<line x1="100.2" y1="319.85" x2="127.6" y2="319.85" stroke="#1a2436" stroke-width="0.4"/>
<path d="M129.2 291 L130.6 293.5" stroke="#2a40d0" stroke-width="0.8"/>
<circle cx="172" cy="277.3" r="0.8" fill="#3040d8"/>
<text x="116.3" y="301.8" font-family="'Liberation Serif', serif" font-size="10.5" fill="#e8c42a" stroke="#e8c42a" stroke-width="0.3">1</text>
<text x="91.8" y="320.5" font-family="'Liberation Serif', serif" font-size="10.5" fill="#e8c42a" stroke="#e8c42a" stroke-width="0.3">6</text>
<text x="121.5" y="354.5" font-family="'Liberation Serif', serif" font-size="10.5" fill="#e8c42a" stroke="#e8c42a" stroke-width="0.3">5</text>
<text x="136" y="309.8" font-family="'Liberation Serif', serif" font-size="4.8" fill="#10203a">0</text>
<text x="152.6" y="310.4" font-family="'Liberation Serif', serif" font-size="5.6" fill="#10203a">25</text>
<text x="176.3" y="310.9" font-family="'Liberation Serif', serif" font-size="3.8" fill="#10203a">X(mm)</text>
<text transform="translate(131.4,277.3) rotate(90)" font-family="'Liberation Serif', serif" font-size="3.8" fill="#10203a">Y(mm)</text>
<text transform="translate(134.5,289.6) rotate(90)" font-family="'Liberation Serif', serif" font-size="4.6" fill="#10203a">25</text>
<svg x="234.8" y="263.4" width="108" height="103.8" viewBox="234.8 263.4 108 103.8" overflow="hidden">
<g filter="url(#jetH)">
<rect x="229.8" y="258.4" width="118" height="113.8" fill="#000"/>
<rect x="225" y="255" width="130" height="120" rx="0" fill="rgb(0,0,0)" filter="url(#b1)"/>
<rect x="240" y="268" width="95" height="92" rx="0" fill="rgb(13,13,13)" filter="url(#b8)"/>
<ellipse cx="284" cy="314" rx="46" ry="46" fill="rgb(23,23,23)" filter="url(#b10)"/>
<ellipse cx="281" cy="320" rx="32" ry="34" fill="rgb(33,33,33)" filter="url(#b8)"/>
<ellipse cx="290" cy="298" rx="24" ry="18" fill="rgb(36,36,36)" filter="url(#b6)"/>
<ellipse cx="282" cy="328" rx="20" ry="22" fill="rgb(43,43,43)" filter="url(#b5)"/>
<ellipse cx="257" cy="318" rx="7" ry="16" fill="rgb(64,64,64)" filter="url(#b3_5)" transform="rotate(-20 257 318)"/>
<ellipse cx="286" cy="345" rx="12" ry="10" fill="rgb(64,64,64)" filter="url(#b3_5)"/>
<ellipse cx="272" cy="340" rx="6" ry="9" fill="rgb(54,54,54)" filter="url(#b3)" transform="rotate(20 272 340)"/>
<ellipse cx="306" cy="312" rx="7" ry="11" fill="rgb(51,51,51)" filter="url(#b3_5)"/>
<ellipse cx="250" cy="300" rx="10" ry="18" fill="rgb(33,33,33)" filter="url(#b5)" transform="rotate(30 250 300)"/>
<ellipse cx="318" cy="330" rx="12" ry="16" fill="rgb(31,31,31)" filter="url(#b6)"/>
<ellipse cx="298" cy="296" rx="6" ry="5" fill="rgb(48,48,48)" filter="url(#b3)"/>
<ellipse cx="265" cy="305" rx="5" ry="4" fill="rgb(51,51,51)" filter="url(#b2_5)"/>
<path d="M266 311 Q268 303 280 303 L303.5 301.5 Q307 312 304.5 326.5 Q297 334 284 333 Q270 332 266 322 Z" fill="rgb(69,69,69)" filter="url(#b2_2)"/>
<path d="M268.5 311 Q271 304.5 282 304.5 L302 303 Q304.5 313 302.5 325.5 Q295.5 331 284 331 Q271.5 330 268.5 321 Z" fill="rgb(89,89,89)" filter="url(#b1_2)"/>
<path d="M269.5 310 Q271 305 279 305.5 L282 306.5 Q280 314 288 317.5 L302 318 Q304 327 296 330 Q285 331 278 328 Q270 322 269.5 310 Z" fill="rgb(120,120,120)" filter="url(#b1_1)"/>
<ellipse cx="300.5" cy="310" rx="3" ry="6" fill="rgb(107,107,107)" filter="url(#b1_5)"/>
<ellipse cx="290" cy="311.8" rx="10.5" ry="5.3" fill="rgb(56,56,56)" filter="url(#b1_3)" transform="rotate(6 290 311.8)"/>
<ellipse cx="290" cy="311.5" rx="7" ry="2.6" fill="rgb(36,36,36)" filter="url(#b0_9)" transform="rotate(4 290 311.5)"/>
<path d="M270 306.2 Q281 304.2 302 303" fill="none" stroke="rgb(102,102,102)" stroke-width="1.1" stroke-linecap="round" filter="url(#b0_5)"/>
<path d="M270.5 310 Q272.5 305.5 277.5 306.5 Q278 314 285 318 L301.5 319.5 Q303.5 327 296.5 328.8 Q285 330 278.5 326.5 Q271 320 270.5 310 Z" fill="rgb(153,153,153)" filter="url(#b0_9)"/>
<ellipse cx="299.5" cy="305.5" rx="1.8" ry="1.4" fill="rgb(138,138,138)" filter="url(#b0_7)"/>
<ellipse cx="274.5" cy="312.7" rx="2" ry="3" fill="rgb(184,184,184)" filter="url(#b0_7)" transform="rotate(-15 274.5 312.7)"/>
<ellipse cx="293.8" cy="323.2" rx="8.8" ry="4" fill="rgb(191,191,191)" filter="url(#b0_8)" transform="rotate(14 293.8 323.2)"/>
<ellipse cx="294.5" cy="323.4" rx="6.5" ry="2.6" fill="rgb(224,224,224)" filter="url(#b0_6)" transform="rotate(14 294.5 323.4)"/>
<ellipse cx="295" cy="323.6" rx="3.5" ry="1.2" fill="rgb(242,242,242)" filter="url(#b0_5)" transform="rotate(14 295 323.6)"/>
</g></svg>
<g filter="url(#jetH)"><rect x="356.7" y="273.75" width="1.8" height="94.65" fill="url(#cbar)"/></g>
<text x="353.2" y="270.3" font-family="'DejaVu Sans', sans-serif" font-size="6.4" fill="#111" stroke="#111" stroke-width="0.1">V/m</text>
<text x="359.2" y="289" font-family="'DejaVu Sans', sans-serif" font-size="9.4" fill="#111">7</text>
<text x="359.2" y="300.85" font-family="'DejaVu Sans', sans-serif" font-size="9.4" fill="#111">6</text>
<text x="359.2" y="312.7" font-family="'DejaVu Sans', sans-serif" font-size="9.4" fill="#111">5</text>
<text x="359.2" y="324.55" font-family="'DejaVu Sans', sans-serif" font-size="9.4" fill="#111">4</text>
<text x="359.2" y="336.4" font-family="'DejaVu Sans', sans-serif" font-size="9.4" fill="#111">3</text>
<text x="359.2" y="348.25" font-family="'DejaVu Sans', sans-serif" font-size="9.4" fill="#111">2</text>
<text x="359.2" y="360.1" font-family="'DejaVu Sans', sans-serif" font-size="9.4" fill="#111">1</text>
<line x1="231.5" y1="319.4" x2="280.4" y2="319.4" stroke="#000" stroke-width="0.6"/>
<path d="M230 319.4 L232.6 318.5 L232.6 320.3 Z" fill="#000"/>
<circle cx="280.4" cy="319.4" r="1.1" fill="#000"/>
<line x1="231.5" y1="323.9" x2="288.6" y2="323.9" stroke="#000" stroke-width="0.6"/>
<path d="M230 323.9 L232.6 323 L232.6 324.8 Z" fill="#000"/>
<circle cx="288.6" cy="323.9" r="1.1" fill="#000"/>
<line x1="231.5" y1="333.4" x2="279" y2="333.4" stroke="#000" stroke-width="0.6"/>
<path d="M230 333.4 L232.6 332.5 L232.6 334.3 Z" fill="#000"/>
<circle cx="279" cy="333.4" r="1.1" fill="#000"/>
<text x="225.4" y="320.41" font-family="'Liberation Sans', 'WenQuanYi Zen Hei', sans-serif" font-size="6.5" fill="#6a6a6a" stroke="#7a7a7a" stroke-width="0.2" text-anchor="middle">⑥</text>
<text x="225.4" y="326.71" font-family="'Liberation Sans', 'WenQuanYi Zen Hei', sans-serif" font-size="6.5" fill="#6a6a6a" stroke="#7a7a7a" stroke-width="0.2" text-anchor="middle">⑤</text>
<text x="226" y="336.41" font-family="'Liberation Sans', 'WenQuanYi Zen Hei', sans-serif" font-size="6.5" fill="#6a6a6a" stroke="#7a7a7a" stroke-width="0.2" text-anchor="middle">⑦</text>
<path d="M233.8 360 L233.8 368 L242 368" fill="none" stroke="#8a8a80" stroke-width="1"/>
<circle cx="234" cy="368" r="0.7" fill="#222"/>
<text x="238.5" y="371" font-family="'Liberation Sans', sans-serif" font-size="2.6" fill="#444">10mm</text>
</svg>
</body></html>
